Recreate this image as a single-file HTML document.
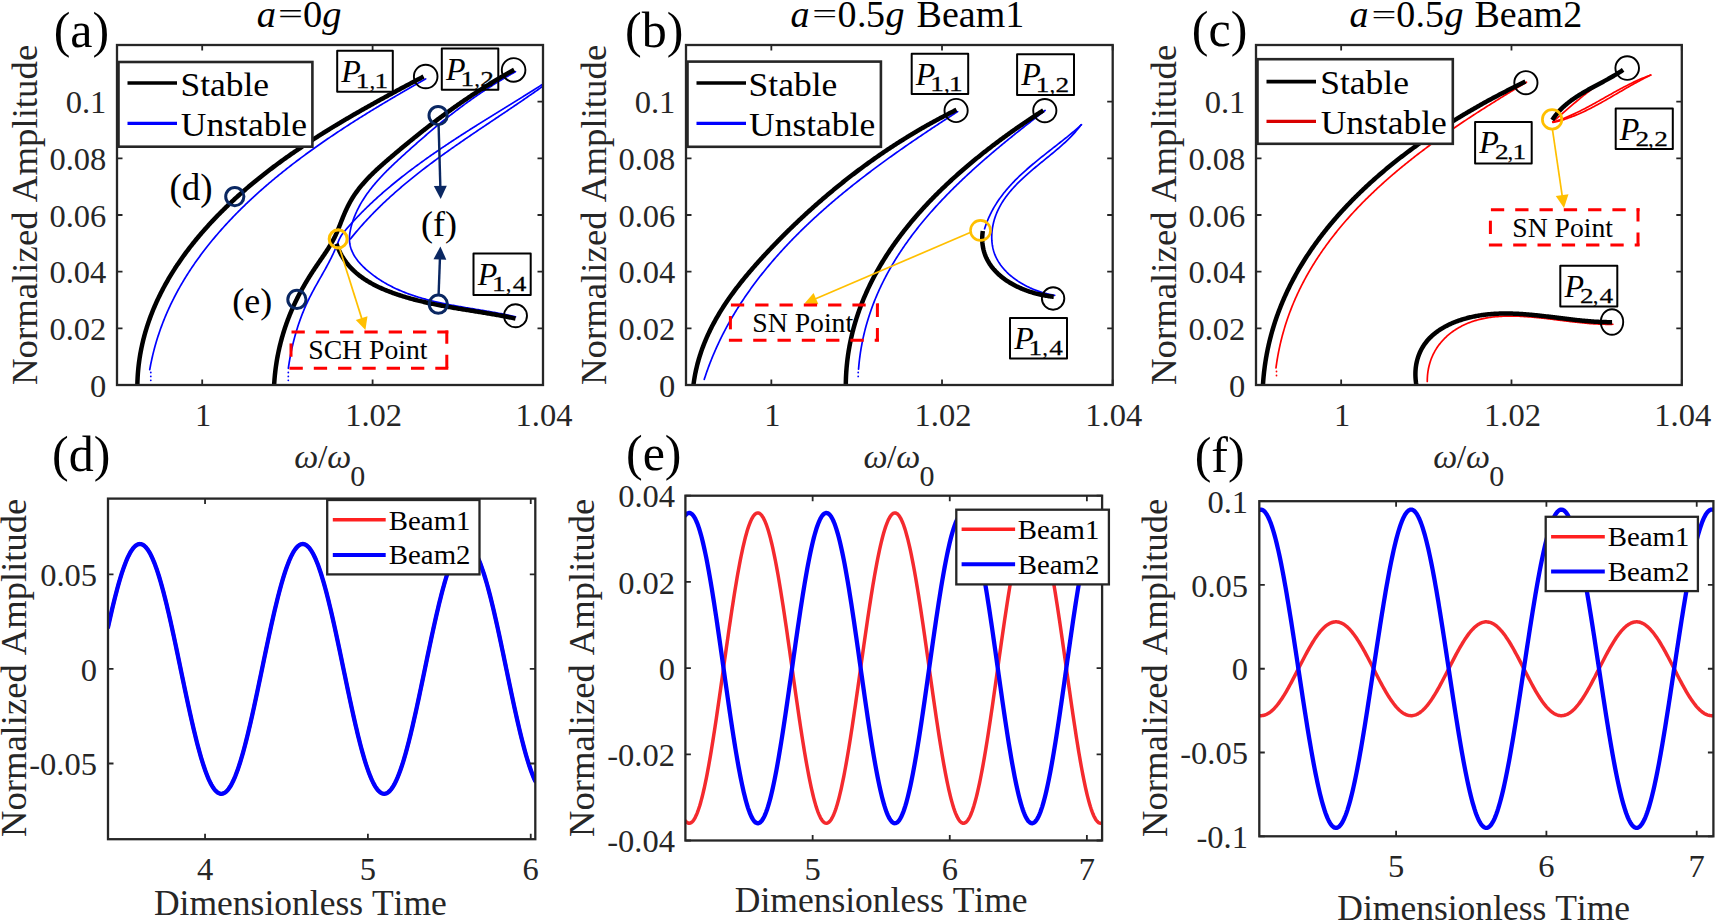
<!DOCTYPE html>
<html><head><meta charset="utf-8"><title>Figure</title>
<style>
html,body{margin:0;padding:0;background:#fff;overflow:hidden}
svg{display:block}
text{font-family:"Liberation Serif", "Times New Roman", serif;font-kerning:none}
</style></head><body>
<svg width="1716" height="922" viewBox="0 0 1716 922">
<rect width="1716" height="922" fill="#fff"/>
<clipPath id="ca"><rect x="117" y="45" width="426" height="340"/></clipPath>
<g clip-path="url(#ca)">
<path d="M149.73,369.7 L149.96,368.38 L150.2,367.07 L150.45,365.77 L150.7,364.46 L150.96,363.16 L151.23,361.87 L151.51,360.57 L151.79,359.28 L152.07,358 L152.37,356.71 L152.67,355.43 L152.97,354.15 L153.28,352.88 L153.6,351.61 L153.93,350.34 L154.26,349.08 L154.6,347.81 L154.94,346.56 L155.29,345.3 L155.65,344.05 L156.01,342.8 L156.38,341.56 L156.76,340.31 L157.14,339.07 L157.53,337.84 L157.92,336.6 L158.32,335.38 L158.72,334.15 L159.13,332.92 L159.55,331.7 L159.98,330.49 L160.4,329.27 L160.84,328.06 L161.28,326.85 L161.73,325.65 L162.18,324.45 L162.64,323.25 L163.1,322.05 L163.57,320.86 L164.05,319.67 L164.53,318.48 L165.01,317.3 L165.5,316.12 L166,314.94 L166.5,313.76 L167.01,312.59 L167.53,311.42 L168.05,310.26 L168.57,309.09 L169.1,307.93 L169.64,306.78 L170.18,305.62 L170.72,304.47 L171.27,303.32 L171.83,302.18 L172.39,301.04 L172.96,299.9 L173.53,298.76 L174.11,297.63 L174.69,296.5 L175.27,295.37 L175.87,294.24 L176.46,293.12 L177.07,292 L177.67,290.89 L178.28,289.77 L178.9,288.66 L179.52,287.56 L180.15,286.45 L180.78,285.35 L181.42,284.25 L182.06,283.15 L182.7,282.06 L183.35,280.97 L184.01,279.88 L184.67,278.8 L185.33,277.71 L186,276.63 L186.67,275.56 L187.35,274.48 L188.03,273.41 L188.72,272.34 L189.41,271.28 L190.1,270.21 L190.8,269.15 L191.5,268.1 L192.21,267.04 L192.93,265.99 L193.64,264.94 L194.36,263.89 L195.09,262.85 L195.82,261.81 L196.55,260.77 L197.29,259.73 L198.03,258.7 L198.77,257.67 L199.52,256.64 L200.28,255.62 L201.03,254.59 L201.8,253.57 L202.56,252.56 L203.33,251.54 L204.1,250.53 L204.88,249.52 L205.66,248.51 L206.44,247.51 L207.23,246.5 L208.02,245.51 L208.82,244.51 L209.62,243.51 L210.42,242.52 L211.23,241.53 L212.04,240.55 L212.85,239.56 L213.67,238.58 L214.49,237.6 L215.31,236.63 L216.14,235.65 L216.97,234.68 L217.8,233.71 L218.64,232.74 L219.48,231.78 L220.32,230.82 L221.17,229.86 L222.02,228.9 L222.87,227.95 L223.73,227 L224.59,226.05 L225.45,225.1 L226.32,224.16 L227.19,223.21 L228.06,222.27 L228.93,221.34 L229.81,220.4 L230.69,219.47 L231.58,218.54 L232.46,217.61 L233.35,216.69 L234.24,215.76 L235.14,214.84 L236.04,213.93 L236.94,213.01 L237.84,212.1 L238.75,211.18 L239.66,210.28 L240.57,209.37 L241.49,208.47 L242.4,207.56 L243.32,206.66 L244.25,205.77 L245.17,204.87 L246.1,203.98 L247.03,203.09 L247.96,202.2 L248.9,201.31 L249.84,200.43 L250.78,199.55 L251.72,198.67 L252.67,197.79 L253.62,196.92 L254.57,196.04 L255.52,195.17 L256.48,194.31 L257.44,193.44 L258.4,192.58 L259.36,191.71 L260.32,190.85 L261.29,190 L262.26,189.14 L263.23,188.29 L264.21,187.44 L265.18,186.59 L266.16,185.74 L267.14,184.9 L268.13,184.06 L269.11,183.21 L270.1,182.38 L271.09,181.54 L272.08,180.71 L273.07,179.87 L274.07,179.04 L275.06,178.22 L276.06,177.39 L277.06,176.57 L278.07,175.75 L279.07,174.93 L280.08,174.11 L281.09,173.29 L282.1,172.48 L283.11,171.67 L284.13,170.86 L285.14,170.05 L286.16,169.24 L287.18,168.44 L288.2,167.64 L289.22,166.84 L290.25,166.04 L291.27,165.25 L292.3,164.45 L293.33,163.66 L294.36,162.87 L295.4,162.08 L296.43,161.3 L297.47,160.51 L298.5,159.73 L299.54,158.95 L300.58,158.17 L301.62,157.4 L302.67,156.62 L303.71,155.85 L304.76,155.08 L305.81,154.31 L306.85,153.54 L307.9,152.78 L308.96,152.01 L310.01,151.25 L311.06,150.49 L312.12,149.73 L313.17,148.98 L314.23,148.22 L315.29,147.47 L316.35,146.72 L317.41,145.97 L318.47,145.22 L319.54,144.48 L320.6,143.73 L321.67,142.99 L322.73,142.25 L323.8,141.51 L324.87,140.77 L325.94,140.04 L327.01,139.31 L328.08,138.57 L329.15,137.84 L330.23,137.12 L331.3,136.39 L332.38,135.67 L333.45,134.94 L334.53,134.22 L335.61,133.5 L336.68,132.78 L337.76,132.07 L338.84,131.35 L339.92,130.64 L341,129.93 L342.09,129.22 L343.17,128.51 L344.25,127.8 L345.33,127.1 L346.42,126.39 L347.5,125.69 L348.59,124.99 L349.67,124.29 L350.76,123.59 L351.85,122.9 L352.93,122.2 L354.02,121.51 L355.11,120.82 L356.2,120.13 L357.29,119.44 L358.37,118.76 L359.46,118.07 L360.55,117.39 L361.64,116.71 L362.73,116.02 L363.82,115.35 L364.91,114.67 L366.01,113.99 L367.1,113.32 L368.19,112.64 L369.28,111.97 L370.37,111.3 L371.46,110.63 L372.55,109.97 L373.65,109.3 L374.74,108.64 L375.83,107.97 L376.92,107.31 L378.01,106.65 L379.1,105.99 L380.2,105.33 L381.29,104.68 L382.38,104.02 L383.47,103.37 L384.56,102.72 L385.65,102.07 L386.74,101.42 L387.83,100.77 L388.92,100.12 L390.01,99.48 L391.1,98.83 L392.19,98.19 L393.28,97.55 L394.37,96.91 L395.46,96.27 L396.55,95.63 L397.64,94.99 L398.72,94.36 L399.81,93.72 L400.9,93.09 L401.98,92.46 L403.07,91.83 L404.15,91.2 L405.24,90.57 L406.32,89.95 L407.4,89.32 L408.49,88.7 L409.57,88.07 L410.65,87.45 L411.73,86.83 L412.81,86.21 L413.89,85.59 L414.97,84.98 L416.04,84.36 L417.12,83.75 L418.2,83.13 L419.27,82.52 L420.35,81.91 L421.42,81.3 L422.49,80.69 L423.57,80.08 L424.64,79.47 L425.71,78.87" stroke="#0000ff" stroke-width="1.7" fill="none" stroke-linejoin="round" stroke-linecap="round"/>
<circle cx="150.8" cy="372.5" r="0.9" fill="#0000ff"/>
<circle cx="150.8" cy="376.4" r="0.9" fill="#0000ff"/>
<circle cx="150.8" cy="380.3" r="0.9" fill="#0000ff"/>
<path d="M288.33,368.29 L288.5,367.12 L288.67,365.94 L288.85,364.77 L289.04,363.6 L289.22,362.43 L289.42,361.26 L289.62,360.09 L289.82,358.92 L290.03,357.75 L290.25,356.58 L290.47,355.41 L290.69,354.25 L290.93,353.08 L291.16,351.91 L291.41,350.75 L291.65,349.59 L291.91,348.43 L292.17,347.26 L292.43,346.1 L292.7,344.95 L292.98,343.79 L293.26,342.63 L293.55,341.48 L293.84,340.32 L294.14,339.17 L294.44,338.02 L294.75,336.87 L295.07,335.73 L295.39,334.58 L295.72,333.44 L296.05,332.29 L296.39,331.15 L296.73,330.01 L297.08,328.88 L297.44,327.74 L297.8,326.61 L298.17,325.48 L298.55,324.35 L298.93,323.22 L299.32,322.1 L299.71,320.97 L300.11,319.85 L300.51,318.74 L300.92,317.62 L301.34,316.51 L301.76,315.39 L302.19,314.29 L302.63,313.18 L303.07,312.08 L303.52,310.98 L303.98,309.88 L304.44,308.78 L304.9,307.69 L305.38,306.6 L305.86,305.51 L306.35,304.43 L306.84,303.35 L307.34,302.27 L307.84,301.19 L308.36,300.12 L308.87,299.05 L309.4,297.99 L309.93,296.92 L310.47,295.86 L311.01,294.81 L311.56,293.75 L312.11,292.7 L312.67,291.65 L313.23,290.6 L313.79,289.55 L314.36,288.51 L314.93,287.46 L315.51,286.42 L316.09,285.38 L316.67,284.34 L317.25,283.31 L317.83,282.27 L318.41,281.23 L319,280.2 L319.59,279.16 L320.17,278.13 L320.76,277.09 L321.34,276.06 L321.93,275.02 L322.51,273.99 L323.1,272.95 L323.68,271.91 L324.26,270.88 L324.84,269.84 L325.41,268.8 L325.99,267.76 L326.56,266.72 L327.12,265.68 L327.68,264.63 L328.24,263.58 L328.8,262.54 L329.35,261.49 L329.89,260.43 L330.43,259.38 L330.96,258.32 L331.49,257.26 L332.01,256.2 L332.53,255.13 L333.03,254.07 L333.53,252.99 L334.03,251.92 L334.51,250.84 L334.99,249.76 L335.46,248.67 L335.92,247.59 L336.37,246.49 L336.82,245.4 L337.26,244.3 L337.69,243.21 L338.13,242.11 L338.57,241.02 L339.03,239.94 L339.51,238.87 L340.02,237.82 L340.57,236.8 L341.16,235.79 L341.8,234.82 L342.48,233.87 L343.19,232.93 L343.93,232.02 L344.69,231.11 L345.45,230.21 L346.22,229.31 L346.99,228.41 L347.77,227.52 L348.55,226.63 L349.33,225.74 L350.12,224.86 L350.9,223.98 L351.7,223.1 L352.49,222.22 L353.29,221.35 L354.1,220.48 L354.9,219.61 L355.71,218.75 L356.52,217.89 L357.34,217.03 L358.16,216.17 L358.98,215.32 L359.8,214.47 L360.63,213.62 L361.46,212.77 L362.3,211.93 L363.13,211.09 L363.97,210.25 L364.82,209.42 L365.66,208.59 L366.51,207.76 L367.36,206.93 L368.21,206.1 L369.07,205.28 L369.93,204.46 L370.79,203.65 L371.66,202.83 L372.52,202.02 L373.39,201.21 L374.26,200.4 L375.14,199.6 L376.02,198.8 L376.9,198 L377.78,197.2 L378.66,196.41 L379.55,195.61 L380.44,194.82 L381.33,194.04 L382.23,193.25 L383.12,192.47 L384.02,191.69 L384.92,190.91 L385.83,190.13 L386.73,189.36 L387.64,188.59 L388.55,187.82 L389.46,187.05 L390.37,186.29 L391.29,185.52 L392.21,184.76 L393.12,184 L394.05,183.25 L394.97,182.49 L395.89,181.74 L396.82,180.99 L397.75,180.25 L398.68,179.5 L399.61,178.76 L400.55,178.02 L401.48,177.28 L402.42,176.54 L403.36,175.81 L404.3,175.07 L405.24,174.34 L406.18,173.61 L407.13,172.89 L408.08,172.16 L409.02,171.44 L409.97,170.72 L410.92,170 L411.88,169.28 L412.83,168.56 L413.79,167.85 L414.74,167.14 L415.7,166.43 L416.66,165.72 L417.62,165.02 L418.58,164.31 L419.54,163.61 L420.5,162.91 L421.47,162.21 L422.43,161.51 L423.4,160.82 L424.37,160.12 L425.33,159.43 L426.3,158.74 L427.27,158.05 L428.25,157.37 L429.22,156.68 L430.19,156 L431.17,155.32 L432.14,154.64 L433.12,153.96 L434.09,153.28 L435.07,152.6 L436.05,151.93 L437.03,151.26 L438.01,150.58 L438.99,149.91 L439.97,149.24 L440.96,148.58 L441.94,147.91 L442.93,147.25 L443.91,146.58 L444.9,145.92 L445.88,145.26 L446.87,144.6 L447.86,143.94 L448.85,143.28 L449.84,142.63 L450.83,141.97 L451.82,141.32 L452.81,140.67 L453.81,140.01 L454.8,139.36 L455.79,138.71 L456.79,138.07 L457.78,137.42 L458.78,136.77 L459.78,136.13 L460.77,135.48 L461.77,134.84 L462.77,134.19 L463.77,133.55 L464.77,132.91 L465.77,132.27 L466.77,131.63 L467.77,130.99 L468.77,130.36 L469.77,129.72 L470.77,129.08 L471.78,128.45 L472.78,127.81 L473.78,127.18 L474.79,126.54 L475.79,125.91 L476.8,125.28 L477.8,124.65 L478.81,124.01 L479.82,123.38 L480.82,122.75 L481.83,122.12 L482.84,121.49 L483.85,120.87 L484.85,120.24 L485.86,119.61 L486.87,118.98 L487.88,118.35 L488.89,117.73 L489.9,117.1 L490.91,116.47 L491.92,115.85 L492.93,115.22 L493.94,114.6 L494.95,113.97 L495.96,113.35 L496.97,112.72 L497.98,112.1 L498.99,111.47 L500,110.85 L501.02,110.22 L502.03,109.6 L503.04,108.98 L504.05,108.35 L505.06,107.73 L506.07,107.1 L507.09,106.48 L508.1,105.85 L509.11,105.23 L510.12,104.61 L511.14,103.98 L512.15,103.36 L513.16,102.73 L514.17,102.11 L515.18,101.48 L516.2,100.86 L517.21,100.23 L518.22,99.6 L519.23,98.98 L520.24,98.35 L521.26,97.72 L522.27,97.1 L523.28,96.47 L524.29,95.84 L525.3,95.21 L526.31,94.58 L527.32,93.95 L528.34,93.33 L529.35,92.69 L530.36,92.06 L531.37,91.43 L532.38,90.8 L533.39,90.17 L534.4,89.54 L535.41,88.9 L536.41,88.27 L537.42,87.63 L538.43,87 L539.44,86.36 L540.45,85.72 L541.45,85.09 L542.46,84.45 L543.47,83.81" stroke="#0000ff" stroke-width="1.7" fill="none" stroke-linejoin="round" stroke-linecap="round"/>
<circle cx="288.3" cy="372.5" r="0.9" fill="#0000ff"/>
<circle cx="288.3" cy="376.4" r="0.9" fill="#0000ff"/>
<circle cx="288.3" cy="380.3" r="0.9" fill="#0000ff"/>
<path d="M350.46,238.91 L351.48,237.64 L352.5,236.38 L353.53,235.13 L354.56,233.88 L355.6,232.64 L356.64,231.41 L357.69,230.18 L358.74,228.96 L359.8,227.74 L360.86,226.53 L361.93,225.33 L363,224.13 L364.08,222.94 L365.16,221.75 L366.25,220.57 L367.34,219.39 L368.44,218.22 L369.54,217.06 L370.64,215.9 L371.75,214.75 L372.87,213.6 L373.99,212.45 L375.11,211.32 L376.24,210.18 L377.37,209.06 L378.51,207.93 L379.65,206.81 L380.79,205.7 L381.94,204.59 L383.1,203.49 L384.25,202.39 L385.41,201.3 L386.58,200.21 L387.75,199.13 L388.92,198.05 L390.1,196.97 L391.28,195.9 L392.46,194.83 L393.65,193.77 L394.84,192.71 L396.03,191.66 L397.23,190.61 L398.43,189.57 L399.64,188.52 L400.85,187.49 L402.06,186.45 L403.27,185.42 L404.49,184.4 L405.71,183.38 L406.94,182.36 L408.17,181.35 L409.4,180.33 L410.63,179.33 L411.87,178.32 L413.11,177.32 L414.35,176.33 L415.59,175.33 L416.84,174.34 L418.09,173.36 L419.35,172.37 L420.6,171.39 L421.86,170.42 L423.12,169.44 L424.38,168.47 L425.65,167.5 L426.92,166.54 L428.19,165.58 L429.46,164.62 L430.74,163.66 L432.02,162.7 L433.3,161.75 L434.58,160.8 L435.86,159.86 L437.15,158.91 L438.43,157.97 L439.72,157.03 L441.02,156.09 L442.31,155.16 L443.61,154.23 L444.9,153.3 L446.2,152.37 L447.5,151.44 L448.8,150.52 L450.11,149.59 L451.41,148.67 L452.72,147.75 L454.03,146.83 L455.34,145.92 L456.65,145.01 L457.96,144.09 L459.27,143.18 L460.59,142.27 L461.9,141.36 L463.22,140.46 L464.53,139.55 L465.85,138.65 L467.17,137.74 L468.49,136.84 L469.81,135.94 L471.14,135.04 L472.46,134.14 L473.78,133.25 L475.11,132.35 L476.43,131.45 L477.76,130.56 L479.08,129.66 L480.41,128.77 L481.74,127.88 L483.06,126.98 L484.39,126.09 L485.72,125.2 L487.05,124.31 L488.38,123.42 L489.7,122.52 L491.03,121.63 L492.36,120.74 L493.69,119.85 L495.02,118.96 L496.35,118.07 L497.68,117.18 L499.01,116.29 L500.33,115.4 L501.66,114.51 L502.99,113.62 L504.32,112.73 L505.64,111.84 L506.97,110.94 L508.3,110.05 L509.62,109.16 L510.95,108.26 L512.27,107.37 L513.59,106.47 L514.92,105.58 L516.24,104.68 L517.56,103.78 L518.88,102.89 L520.2,101.99 L521.52,101.09 L522.83,100.18 L524.15,99.28 L525.47,98.38 L526.78,97.47 L528.09,96.57 L529.4,95.66 L530.71,94.75 L532.02,93.84 L533.33,92.93 L534.64,92.01 L535.94,91.1 L537.25,90.18 L538.55,89.26 L539.85,88.34 L541.15,87.42 L542.44,86.49 L543.74,85.57" stroke="#0000ff" stroke-width="1.7" fill="none" stroke-linejoin="round" stroke-linecap="round"/>
<path d="M515.51,316.77 L514.41,316.51 L513.31,316.26 L512.21,316.01 L511.11,315.77 L510,315.53 L508.89,315.29 L507.78,315.05 L506.66,314.82 L505.54,314.59 L504.42,314.36 L503.29,314.14 L502.16,313.92 L501.03,313.7 L499.9,313.49 L498.76,313.27 L497.63,313.06 L496.49,312.85 L495.34,312.64 L494.2,312.44 L493.05,312.23 L491.9,312.03 L490.75,311.83 L489.6,311.63 L488.45,311.43 L487.29,311.23 L486.13,311.04 L484.97,310.84 L483.81,310.64 L482.65,310.45 L481.49,310.26 L480.32,310.06 L479.16,309.87 L477.99,309.68 L476.82,309.48 L475.65,309.29 L474.48,309.09 L473.31,308.9 L472.14,308.71 L470.96,308.51 L469.79,308.32 L468.61,308.12 L467.44,307.92 L466.26,307.72 L465.09,307.52 L463.91,307.32 L462.74,307.12 L461.56,306.92 L460.38,306.71 L459.21,306.5 L458.03,306.29 L456.85,306.08 L455.68,305.87 L454.5,305.65 L453.32,305.44 L452.15,305.22 L450.97,304.99 L449.8,304.77 L448.63,304.54 L447.45,304.31 L446.28,304.07 L445.11,303.84 L443.94,303.59 L442.77,303.35 L441.6,303.1 L440.43,302.85 L439.27,302.6 L438.1,302.34 L436.94,302.07 L435.77,301.81 L434.61,301.53 L433.45,301.26 L432.3,300.98 L431.14,300.69 L429.98,300.4 L428.83,300.11 L427.68,299.81 L426.53,299.5 L425.38,299.19 L424.24,298.88 L423.1,298.56 L421.96,298.23 L420.82,297.9 L419.68,297.56 L418.55,297.22 L417.42,296.87 L416.29,296.51 L415.17,296.15 L414.04,295.78 L412.92,295.4 L411.81,295.02 L410.69,294.63 L409.58,294.24 L408.47,293.84 L407.37,293.43 L406.26,293.01 L405.17,292.59 L404.07,292.15 L402.98,291.72 L401.89,291.27 L400.81,290.81 L399.73,290.35 L398.65,289.88 L397.58,289.4 L396.51,288.91 L395.44,288.42 L394.38,287.92 L393.32,287.4 L392.27,286.88 L391.22,286.35 L390.17,285.81 L389.13,285.26 L388.1,284.71 L387.07,284.14 L386.04,283.56 L385.02,282.98 L384,282.38 L382.99,281.78 L381.98,281.16 L380.98,280.53 L379.98,279.9 L378.99,279.25 L378,278.6 L377.02,277.93 L376.04,277.25 L375.07,276.56 L374.1,275.86 L373.14,275.15 L372.18,274.43 L371.23,273.7 L370.29,272.95 L369.35,272.2 L368.42,271.43 L367.5,270.65 L366.59,269.86 L365.7,269.06 L364.81,268.25 L363.94,267.43 L363.08,266.59 L362.24,265.75 L361.41,264.89 L360.6,264.02 L359.81,263.14 L359.04,262.25 L358.3,261.35 L357.57,260.44 L356.87,259.51 L356.19,258.58 L355.54,257.63 L354.92,256.68 L354.32,255.71 L353.75,254.73 L353.21,253.74 L352.71,252.74 L352.23,251.72 L351.79,250.7 L351.38,249.67 L351.01,248.62 L350.68,247.57 L350.38,246.5 L350.13,245.42 L349.91,244.33 L349.73,243.23 L349.6,242.12 L349.5,241 L349.45,239.87 L349.43,238.74 L349.45,237.59 L349.51,236.44 L349.6,235.29 L349.72,234.13 L349.87,232.97 L350.05,231.81 L350.26,230.64 L350.49,229.48 L350.75,228.31 L351.03,227.15 L351.33,225.99 L351.65,224.84 L351.99,223.69 L352.35,222.54 L352.72,221.4 L353.11,220.27 L353.51,219.15 L353.92,218.04 L354.35,216.93 L354.79,215.83 L355.24,214.74 L355.71,213.65 L356.19,212.58 L356.68,211.51 L357.18,210.44 L357.7,209.39 L358.22,208.34 L358.76,207.29 L359.31,206.26 L359.87,205.23 L360.44,204.21 L361.03,203.19 L361.62,202.18 L362.22,201.18 L362.84,200.18 L363.46,199.19 L364.09,198.2 L364.74,197.22 L365.39,196.25 L366.05,195.28 L366.72,194.32 L367.4,193.36 L368.09,192.41 L368.79,191.46 L369.49,190.52 L370.21,189.59 L370.93,188.66 L371.66,187.73 L372.4,186.81 L373.14,185.89 L373.89,184.98 L374.65,184.08 L375.42,183.17 L376.19,182.28 L376.96,181.38 L377.75,180.49 L378.54,179.61 L379.34,178.73 L380.14,177.85 L380.94,176.98 L381.76,176.11 L382.57,175.24 L383.4,174.38 L384.22,173.52 L385.06,172.67 L385.89,171.82 L386.73,170.97 L387.58,170.13 L388.42,169.28 L389.27,168.45 L390.13,167.61 L390.99,166.78 L391.85,165.95 L392.71,165.12 L393.58,164.29 L394.45,163.47 L395.32,162.65 L396.19,161.83 L397.06,161.02 L397.94,160.2 L398.82,159.39 L399.69,158.58 L400.57,157.77 L401.45,156.97 L402.34,156.16 L403.22,155.36 L404.1,154.56 L404.98,153.76 L405.86,152.96 L406.75,152.16 L407.63,151.37 L408.51,150.57 L409.39,149.78 L410.28,148.99 L411.16,148.2 L412.04,147.41 L412.93,146.62 L413.81,145.83 L414.7,145.05 L415.58,144.27 L416.47,143.49 L417.35,142.71 L418.24,141.93 L419.12,141.15 L420.01,140.37 L420.9,139.6 L421.79,138.83 L422.68,138.06 L423.57,137.29 L424.46,136.52 L425.35,135.75 L426.24,134.99 L427.13,134.22 L428.02,133.46 L428.91,132.7 L429.81,131.94 L430.7,131.19 L431.6,130.43 L432.5,129.68 L433.39,128.92 L434.29,128.17 L435.19,127.42 L436.09,126.68 L436.99,125.93 L437.89,125.19 L438.8,124.45 L439.7,123.7 L440.61,122.97 L441.51,122.23 L442.42,121.49 L443.33,120.76 L444.24,120.03 L445.15,119.3 L446.06,118.57 L446.97,117.84 L447.89,117.12 L448.8,116.39 L449.72,115.67 L450.64,114.95 L451.56,114.23 L452.48,113.52 L453.4,112.8 L454.33,112.09 L455.25,111.38 L456.18,110.67 L457.11,109.96 L458.04,109.26 L458.97,108.55 L459.9,107.85 L460.84,107.15 L461.77,106.45 L462.71,105.76 L463.65,105.06 L464.59,104.37 L465.54,103.68 L466.48,102.99 L467.43,102.31 L468.38,101.62 L469.33,100.94 L470.28,100.26 L471.23,99.58 L472.19,98.9 L473.15,98.23 L474.11,97.55 L475.07,96.88 L476.03,96.21 L477,95.55 L477.97,94.88 L478.94,94.22 L479.91,93.56 L480.89,92.9 L481.86,92.24 L482.84,91.59 L483.82,90.93 L484.81,90.28 L485.79,89.63 L486.78,88.99 L487.77,88.34 L488.76,87.7 L489.76,87.06 L490.75,86.42 L491.75,85.79 L492.75,85.15 L493.76,84.52 L494.77,83.89 L495.77,83.26 L496.79,82.64 L497.8,82.02 L498.82,81.39 L499.84,80.78 L500.86,80.16 L501.89,79.54 L502.91,78.93 L503.94,78.32 L504.98,77.71 L506.01,77.11 L507.05,76.5 L508.09,75.9 L509.14,75.3 L510.18,74.71 L511.23,74.11 L512.29,73.52 L513.34,72.93 L514.4,72.34 L515.46,71.76" stroke="#0000ff" stroke-width="1.7" fill="none" stroke-linejoin="round" stroke-linecap="round"/>
<path d="M137.33,387.56 L137.34,386.3 L137.36,385.05 L137.38,383.8 L137.41,382.55 L137.45,381.3 L137.5,380.05 L137.56,378.81 L137.62,377.57 L137.69,376.33 L137.77,375.09 L137.85,373.86 L137.95,372.63 L138.05,371.4 L138.16,370.17 L138.27,368.95 L138.39,367.73 L138.53,366.51 L138.66,365.29 L138.81,364.08 L138.96,362.87 L139.12,361.66 L139.29,360.45 L139.46,359.24 L139.64,358.04 L139.83,356.84 L140.02,355.65 L140.22,354.45 L140.43,353.26 L140.65,352.07 L140.87,350.88 L141.1,349.7 L141.34,348.51 L141.58,347.33 L141.83,346.16 L142.09,344.98 L142.35,343.81 L142.62,342.64 L142.9,341.47 L143.18,340.3 L143.47,339.14 L143.77,337.98 L144.07,336.82 L144.38,335.67 L144.69,334.51 L145.02,333.36 L145.34,332.22 L145.68,331.07 L146.02,329.93 L146.37,328.79 L146.72,327.65 L147.08,326.51 L147.45,325.38 L147.82,324.25 L148.2,323.12 L148.58,321.99 L148.97,320.87 L149.37,319.75 L149.77,318.63 L150.18,317.51 L150.59,316.4 L151.01,315.29 L151.43,314.18 L151.86,313.07 L152.3,311.97 L152.74,310.87 L153.19,309.77 L153.64,308.67 L154.1,307.58 L154.57,306.49 L155.04,305.4 L155.52,304.31 L156,303.23 L156.48,302.14 L156.98,301.07 L157.47,299.99 L157.98,298.91 L158.48,297.84 L159,296.77 L159.51,295.71 L160.04,294.64 L160.57,293.58 L161.1,292.52 L161.64,291.46 L162.18,290.41 L162.73,289.36 L163.29,288.31 L163.85,287.26 L164.41,286.22 L164.98,285.18 L165.55,284.14 L166.13,283.1 L166.71,282.07 L167.3,281.03 L167.89,280.01 L168.49,278.98 L169.09,277.95 L169.7,276.93 L170.31,275.91 L170.92,274.9 L171.54,273.88 L172.17,272.87 L172.8,271.86 L173.43,270.85 L174.07,269.85 L174.71,268.85 L175.36,267.85 L176.01,266.85 L176.66,265.86 L177.32,264.87 L177.98,263.88 L178.65,262.89 L179.32,261.91 L180,260.92 L180.67,259.94 L181.36,258.97 L182.04,257.99 L182.74,257.02 L183.43,256.05 L184.13,255.09 L184.83,254.12 L185.54,253.16 L186.25,252.2 L186.96,251.25 L187.68,250.29 L188.4,249.34 L189.12,248.39 L189.85,247.45 L190.58,246.5 L191.32,245.56 L192.06,244.62 L192.8,243.69 L193.54,242.75 L194.29,241.82 L195.04,240.89 L195.8,239.97 L196.56,239.04 L197.32,238.12 L198.08,237.2 L198.85,236.29 L199.62,235.37 L200.4,234.46 L201.17,233.55 L201.95,232.65 L202.74,231.75 L203.52,230.84 L204.31,229.95 L205.1,229.05 L205.9,228.16 L206.7,227.27 L207.5,226.38 L208.3,225.49 L209.1,224.61 L209.91,223.73 L210.72,222.85 L211.54,221.98 L212.35,221.11 L213.17,220.23 L214,219.37 L214.82,218.5 L215.65,217.64 L216.48,216.78 L217.31,215.92 L218.14,215.06 L218.98,214.21 L219.82,213.36 L220.66,212.51 L221.51,211.67 L222.36,210.82 L223.21,209.98 L224.06,209.14 L224.91,208.31 L225.77,207.47 L226.63,206.64 L227.49,205.81 L228.35,204.98 L229.22,204.16 L230.09,203.34 L230.96,202.52 L231.84,201.7 L232.71,200.88 L233.59,200.07 L234.47,199.26 L235.35,198.45 L236.24,197.64 L237.12,196.84 L238.01,196.04 L238.91,195.24 L239.8,194.44 L240.69,193.65 L241.59,192.85 L242.49,192.06 L243.4,191.27 L244.3,190.49 L245.21,189.7 L246.11,188.92 L247.02,188.14 L247.94,187.36 L248.85,186.58 L249.77,185.81 L250.69,185.04 L251.61,184.27 L252.53,183.5 L253.45,182.74 L254.38,181.97 L255.31,181.21 L256.24,180.45 L257.17,179.7 L258.1,178.94 L259.04,178.19 L259.98,177.44 L260.92,176.69 L261.86,175.94 L262.8,175.19 L263.74,174.45 L264.69,173.71 L265.64,172.97 L266.59,172.23 L267.54,171.5 L268.49,170.76 L269.45,170.03 L270.4,169.3 L271.36,168.58 L272.32,167.85 L273.28,167.13 L274.25,166.4 L275.21,165.68 L276.18,164.97 L277.15,164.25 L278.11,163.54 L279.08,162.82 L280.06,162.11 L281.03,161.4 L282.01,160.7 L282.98,159.99 L283.96,159.29 L284.94,158.59 L285.92,157.89 L286.9,157.19 L287.89,156.49 L288.87,155.8 L289.86,155.1 L290.84,154.41 L291.83,153.72 L292.82,153.03 L293.82,152.35 L294.81,151.66 L295.8,150.98 L296.8,150.3 L297.79,149.62 L298.79,148.94 L299.79,148.27 L300.79,147.59 L301.79,146.92 L302.79,146.25 L303.8,145.58 L304.8,144.91 L305.81,144.24 L306.81,143.58 L307.82,142.92 L308.83,142.26 L309.84,141.6 L310.85,140.94 L311.86,140.28 L312.87,139.62 L313.89,138.97 L314.9,138.32 L315.92,137.67 L316.93,137.02 L317.95,136.37 L318.97,135.72 L319.99,135.08 L321.01,134.44 L322.03,133.79 L323.05,133.15 L324.07,132.51 L325.1,131.88 L326.12,131.24 L327.15,130.61 L328.17,129.97 L329.2,129.34 L330.22,128.71 L331.25,128.08 L332.28,127.45 L333.31,126.83 L334.34,126.2 L335.37,125.58 L336.4,124.96 L337.43,124.33 L338.46,123.71 L339.5,123.1 L340.53,122.48 L341.56,121.86 L342.6,121.25 L343.63,120.64 L344.67,120.02 L345.7,119.41 L346.74,118.8 L347.78,118.19 L348.81,117.59 L349.85,116.98 L350.89,116.38 L351.93,115.77 L352.96,115.17 L354,114.57 L355.04,113.97 L356.08,113.37 L357.12,112.77 L358.16,112.18 L359.2,111.58 L360.24,110.99 L361.28,110.4 L362.33,109.8 L363.37,109.21 L364.41,108.62 L365.45,108.03 L366.49,107.45 L367.53,106.86 L368.58,106.28 L369.62,105.69 L370.66,105.11 L371.7,104.53 L372.75,103.94 L373.79,103.36 L374.83,102.78 L375.88,102.21 L376.92,101.63 L377.96,101.05 L379,100.48 L380.05,99.9 L381.09,99.33 L382.13,98.76 L383.17,98.19 L384.22,97.61 L385.26,97.05 L386.3,96.48 L387.34,95.91 L388.38,95.34 L389.43,94.78 L390.47,94.21 L391.51,93.65 L392.55,93.08 L393.59,92.52 L394.63,91.96 L395.67,91.4 L396.71,90.84 L397.75,90.28 L398.79,89.72 L399.83,89.16 L400.87,88.6 L401.9,88.05 L402.94,87.49 L403.98,86.94 L405.02,86.38 L406.05,85.83 L407.09,85.28 L408.13,84.73 L409.16,84.18 L410.2,83.63 L411.23,83.08 L412.26,82.53 L413.3,81.98 L414.33,81.43 L415.36,80.88 L416.39,80.34 L417.42,79.79 L418.45,79.25 L419.48,78.7 L420.51,78.16 L421.54,77.62 L422.57,77.07 L423.59,76.53" stroke="#000" stroke-width="4.5" fill="none" stroke-linejoin="round" stroke-linecap="butt"/>
<path d="M274.03,387 L274.08,386.01 L274.13,385.02 L274.18,384.03 L274.24,383.04 L274.31,382.05 L274.38,381.06 L274.45,380.07 L274.53,379.09 L274.61,378.1 L274.7,377.11 L274.79,376.13 L274.88,375.14 L274.98,374.15 L275.09,373.17 L275.2,372.18 L275.31,371.2 L275.43,370.22 L275.55,369.23 L275.68,368.25 L275.81,367.27 L275.95,366.29 L276.09,365.31 L276.24,364.33 L276.39,363.35 L276.54,362.37 L276.7,361.39 L276.86,360.42 L277.03,359.44 L277.2,358.47 L277.38,357.49 L277.56,356.52 L277.75,355.54 L277.94,354.57 L278.13,353.6 L278.33,352.63 L278.53,351.66 L278.74,350.69 L278.95,349.72 L279.17,348.76 L279.39,347.79 L279.61,346.83 L279.84,345.86 L280.08,344.9 L280.31,343.94 L280.56,342.98 L280.8,342.02 L281.05,341.06 L281.31,340.1 L281.57,339.15 L281.83,338.19 L282.1,337.24 L282.37,336.29 L282.65,335.34 L282.93,334.39 L283.21,333.44 L283.5,332.49 L283.8,331.54 L284.09,330.6 L284.4,329.66 L284.7,328.71 L285.01,327.77 L285.33,326.83 L285.64,325.89 L285.97,324.96 L286.29,324.02 L286.63,323.09 L286.96,322.16 L287.3,321.23 L287.64,320.3 L287.99,319.37 L288.34,318.44 L288.7,317.52 L289.06,316.6 L289.43,315.67 L289.79,314.75 L290.17,313.84 L290.54,312.92 L290.92,312.01 L291.31,311.09 L291.7,310.18 L292.09,309.27 L292.49,308.36 L292.89,307.46 L293.29,306.55 L293.7,305.65 L294.12,304.75 L294.53,303.85 L294.96,302.95 L295.38,302.06 L295.81,301.17 L296.24,300.28 L296.68,299.39 L297.12,298.5 L297.57,297.61 L298.02,296.73 L298.47,295.85 L298.93,294.97 L299.38,294.09 L299.85,293.21 L300.32,292.34 L300.79,291.47 L301.26,290.6 L301.74,289.73 L302.22,288.86 L302.7,288 L303.19,287.13 L303.68,286.27 L304.18,285.41 L304.67,284.55 L305.17,283.7 L305.68,282.84 L306.18,281.99 L306.69,281.14 L307.2,280.29 L307.72,279.44 L308.24,278.6 L308.76,277.75 L309.28,276.91 L309.81,276.07 L310.34,275.23 L310.87,274.39 L311.4,273.56 L311.94,272.72 L312.48,271.89 L313.02,271.06 L313.56,270.23 L314.11,269.4 L314.66,268.58 L315.21,267.75 L315.76,266.93 L316.32,266.11 L316.87,265.29 L317.43,264.47 L317.99,263.65 L318.55,262.84 L319.12,262.02 L319.68,261.21 L320.24,260.39 L320.8,259.58 L321.36,258.76 L321.92,257.95 L322.48,257.13 L323.04,256.32 L323.59,255.5 L324.15,254.68 L324.7,253.87 L325.25,253.05 L325.79,252.23 L326.34,251.4 L326.87,250.58 L327.41,249.75 L327.94,248.93 L328.46,248.09 L328.99,247.26 L329.5,246.43 L330.01,245.59 L330.52,244.75 L331.02,243.9 L331.51,243.05 L331.99,242.2 L332.47,241.35 L332.94,240.49 L333.41,239.62 L333.86,238.76 L334.31,237.88 L334.75,237.01 L335.18,236.13 L335.6,235.24 L336.01,234.35 L336.41,233.45 L336.81,232.55 L337.2,231.65 L337.58,230.74 L337.96,229.83 L338.33,228.92 L338.7,228 L339.07,227.08 L339.43,226.16 L339.79,225.24 L340.15,224.32 L340.51,223.4 L340.87,222.48 L341.23,221.55 L341.59,220.63 L341.95,219.71 L342.32,218.79 L342.69,217.87 L343.07,216.95 L343.44,216.03 L343.83,215.12 L344.21,214.21 L344.61,213.3 L345,212.39 L345.41,211.49 L345.81,210.58 L346.23,209.69 L346.65,208.79 L347.07,207.9 L347.5,207.01 L347.94,206.13 L348.39,205.25 L348.84,204.37 L349.3,203.5 L349.76,202.64 L350.24,201.77 L350.72,200.92 L351.21,200.07 L351.7,199.22 L352.21,198.38 L352.73,197.55 L353.25,196.72 L353.78,195.9 L354.32,195.08 L354.87,194.27 L355.42,193.46 L355.99,192.66 L356.56,191.86 L357.13,191.07 L357.72,190.29 L358.31,189.51 L358.91,188.73 L359.52,187.96 L360.13,187.19 L360.75,186.43 L361.37,185.67 L362,184.92 L362.64,184.17 L363.28,183.42 L363.93,182.68 L364.59,181.94 L365.25,181.21 L365.91,180.48 L366.59,179.75 L367.26,179.03 L367.94,178.31 L368.63,177.6 L369.32,176.89 L370.01,176.18 L370.71,175.48 L371.41,174.77 L372.12,174.07 L372.83,173.38 L373.55,172.69 L374.26,172 L374.99,171.31 L375.71,170.62 L376.44,169.94 L377.17,169.26 L377.9,168.59 L378.64,167.91 L379.38,167.24 L380.12,166.57 L380.86,165.9 L381.61,165.23 L382.36,164.57 L383.11,163.9 L383.86,163.24 L384.61,162.58 L385.37,161.92 L386.12,161.27 L386.88,160.61 L387.64,159.96 L388.39,159.3 L389.15,158.65 L389.91,158 L390.67,157.35 L391.43,156.7 L392.19,156.05 L392.95,155.41 L393.72,154.76 L394.48,154.11 L395.24,153.47 L396,152.82 L396.76,152.18 L397.52,151.54 L398.29,150.9 L399.05,150.26 L399.81,149.62 L400.58,148.98 L401.34,148.34 L402.11,147.7 L402.87,147.07 L403.64,146.43 L404.4,145.8 L405.17,145.16 L405.93,144.53 L406.7,143.9 L407.47,143.27 L408.24,142.64 L409,142.01 L409.77,141.38 L410.54,140.75 L411.31,140.13 L412.08,139.5 L412.85,138.88 L413.62,138.26 L414.39,137.63 L415.16,137.01 L415.94,136.39 L416.71,135.77 L417.48,135.15 L418.26,134.53 L419.03,133.92 L419.8,133.3 L420.58,132.69 L421.36,132.07 L422.13,131.46 L422.91,130.85 L423.69,130.24 L424.46,129.63 L425.24,129.02 L426.02,128.41 L426.8,127.8 L427.58,127.2 L428.36,126.59 L429.14,125.99 L429.93,125.39 L430.71,124.78 L431.49,124.18 L432.28,123.58 L433.06,122.98 L433.85,122.39 L434.63,121.79 L435.42,121.19 L436.2,120.6 L436.99,120.01 L437.78,119.41 L438.57,118.82 L439.36,118.23 L440.15,117.64 L440.94,117.05 L441.73,116.46 L442.53,115.88 L443.32,115.29 L444.11,114.71 L444.91,114.12 L445.7,113.54 L446.5,112.96 L447.3,112.38 L448.1,111.8 L448.89,111.22 L449.69,110.65 L450.49,110.07 L451.3,109.5 L452.1,108.92 L452.9,108.35 L453.7,107.78 L454.51,107.21 L455.31,106.64 L456.12,106.07 L456.93,105.51 L457.73,104.94 L458.54,104.37 L459.35,103.81 L460.16,103.25 L460.97,102.69 L461.78,102.13 L462.6,101.57 L463.41,101.01 L464.23,100.45 L465.04,99.9 L465.86,99.34 L466.68,98.79 L467.49,98.24 L468.31,97.69 L469.13,97.14 L469.95,96.59 L470.78,96.04 L471.6,95.49 L472.42,94.95 L473.25,94.41 L474.08,93.86 L474.9,93.32 L475.73,92.78 L476.56,92.24 L477.39,91.7 L478.22,91.17 L479.05,90.63 L479.89,90.1 L480.72,89.56 L481.56,89.03 L482.39,88.5 L483.23,87.97 L484.07,87.44 L484.91,86.92 L485.75,86.39 L486.59,85.86 L487.43,85.34 L488.28,84.82 L489.12,84.3 L489.97,83.78 L490.82,83.26 L491.66,82.74 L492.51,82.23 L493.36,81.71 L494.22,81.2 L495.07,80.69 L495.92,80.18 L496.78,79.67 L497.64,79.16 L498.49,78.65 L499.35,78.14 L500.21,77.64 L501.07,77.14 L501.94,76.63 L502.8,76.13 L503.67,75.63 L504.53,75.14 L505.4,74.64 L506.27,74.14 L507.14,73.65 L508.01,73.16 L508.88,72.66 L509.76,72.17 L510.63,71.68 L511.51,71.2 L512.39,70.71 L513.26,70.23 L514.14,69.74" stroke="#000" stroke-width="4.5" fill="none" stroke-linejoin="round" stroke-linecap="butt"/>
<path d="M336.44,243.68 L336.84,244.84 L337.25,245.98 L337.68,247.11 L338.13,248.22 L338.6,249.32 L339.08,250.4 L339.58,251.47 L340.09,252.51 L340.62,253.55 L341.17,254.56 L341.73,255.57 L342.31,256.55 L342.9,257.52 L343.51,258.48 L344.13,259.42 L344.77,260.35 L345.42,261.26 L346.09,262.16 L346.76,263.05 L347.46,263.92 L348.16,264.78 L348.88,265.62 L349.61,266.45 L350.35,267.27 L351.11,268.07 L351.88,268.87 L352.66,269.65 L353.45,270.41 L354.25,271.17 L355.07,271.91 L355.89,272.64 L356.73,273.35 L357.57,274.06 L358.43,274.75 L359.3,275.44 L360.17,276.11 L361.06,276.77 L361.96,277.42 L362.86,278.06 L363.77,278.69 L364.7,279.3 L365.63,279.91 L366.57,280.51 L367.52,281.1 L368.47,281.67 L369.43,282.24 L370.4,282.8 L371.38,283.35 L372.36,283.89 L373.36,284.42 L374.35,284.94 L375.36,285.46 L376.37,285.96 L377.38,286.46 L378.4,286.95 L379.43,287.43 L380.46,287.9 L381.5,288.36 L382.54,288.82 L383.58,289.27 L384.63,289.72 L385.68,290.15 L386.74,290.58 L387.8,291 L388.87,291.42 L389.93,291.83 L391,292.23 L392.07,292.63 L393.15,293.02 L394.22,293.4 L395.3,293.78 L396.38,294.16 L397.47,294.53 L398.55,294.89 L399.64,295.25 L400.73,295.6 L401.82,295.95 L402.91,296.29 L404,296.63 L405.1,296.96 L406.19,297.29 L407.29,297.61 L408.39,297.93 L409.49,298.25 L410.6,298.56 L411.7,298.86 L412.81,299.16 L413.92,299.46 L415.02,299.75 L416.13,300.04 L417.25,300.32 L418.36,300.6 L419.47,300.88 L420.59,301.15 L421.7,301.42 L422.82,301.68 L423.94,301.94 L425.06,302.2 L426.18,302.46 L427.3,302.71 L428.42,302.95 L429.54,303.2 L430.67,303.44 L431.79,303.68 L432.92,303.91 L434.04,304.14 L435.17,304.37 L436.29,304.6 L437.42,304.83 L438.55,305.05 L439.68,305.27 L440.81,305.48 L441.94,305.7 L443.07,305.91 L444.2,306.12 L445.33,306.33 L446.46,306.53 L447.59,306.73 L448.72,306.94 L449.85,307.14 L450.98,307.33 L452.12,307.53 L453.25,307.73 L454.38,307.92 L455.51,308.11 L456.64,308.3 L457.77,308.49 L458.9,308.68 L460.04,308.87 L461.17,309.05 L462.3,309.24 L463.43,309.42 L464.56,309.61 L465.69,309.79 L466.82,309.97 L467.95,310.15 L469.07,310.34 L470.2,310.52 L471.33,310.7 L472.45,310.88 L473.58,311.06 L474.71,311.24 L475.83,311.42 L476.95,311.6 L478.08,311.78 L479.2,311.96 L480.32,312.14 L481.44,312.32 L482.56,312.5 L483.68,312.69 L484.8,312.87 L485.91,313.05 L487.03,313.24 L488.14,313.42 L489.25,313.61 L490.37,313.8 L491.48,313.98 L492.58,314.17 L493.69,314.36 L494.8,314.56 L495.9,314.75 L497.01,314.94 L498.11,315.14 L499.21,315.34 L500.31,315.54 L501.41,315.74 L502.5,315.94 L503.59,316.15 L504.69,316.36 L505.78,316.57 L506.87,316.78 L507.95,316.99 L509.04,317.21 L510.12,317.43 L511.2,317.65 L512.28,317.87 L513.36,318.1 L514.43,318.33 L515.51,318.56" stroke="#000" stroke-width="4.5" fill="none" stroke-linejoin="round" stroke-linecap="butt"/>
</g>
<path d="M202.2,385 v-5.5 M202.2,45 v5.5 M372.6,385 v-5.5 M372.6,45 v5.5 M543,385 v-5.5 M543,45 v5.5 M117,385 h5.5 M543,385 h-5.5 M117,328.33 h5.5 M543,328.33 h-5.5 M117,271.67 h5.5 M543,271.67 h-5.5 M117,215 h5.5 M543,215 h-5.5 M117,158.33 h5.5 M543,158.33 h-5.5 M117,101.67 h5.5 M543,101.67 h-5.5 M117,45 h5.5 M543,45 h-5.5 " stroke="#262626" stroke-width="1.8" fill="none"/>
<rect x="117" y="45" width="426" height="340" fill="none" stroke="#262626" stroke-width="2.3" stroke-linejoin="miter"/>
<text x="106.3" y="396.6" style="font-size:32.5px;" text-anchor="end" fill="#262626">0</text>
<text x="106.3" y="339.93" style="font-size:32.5px;" text-anchor="end" fill="#262626">0.02</text>
<text x="106.3" y="283.27" style="font-size:32.5px;" text-anchor="end" fill="#262626">0.04</text>
<text x="106.3" y="226.6" style="font-size:32.5px;" text-anchor="end" fill="#262626">0.06</text>
<text x="106.3" y="169.93" style="font-size:32.5px;" text-anchor="end" fill="#262626">0.08</text>
<text x="106.3" y="113.27" style="font-size:32.5px;" text-anchor="end" fill="#262626">0.1</text>
<text x="203.2" y="426.3" style="font-size:32.5px;" text-anchor="middle" fill="#262626">1</text>
<text x="373.6" y="426.3" style="font-size:32.5px;" text-anchor="middle" fill="#262626">1.02</text>
<text x="544" y="426.3" style="font-size:32.5px;" text-anchor="middle" fill="#262626">1.04</text>
<text x="0" y="0" transform="translate(37.4,385.06) rotate(-90)" style="font-size:36.8px" fill="#262626">Normalized Amplitude</text>
<text x="294.27" y="468.2" style="font-size:34px;font-style:italic;" fill="#262626">ω</text>
<text x="317.9" y="468.2" style="font-size:34px;" fill="#262626">/</text>
<text x="327.17" y="468.2" style="font-size:34px;font-style:italic;" fill="#262626">ω</text>
<text x="350.26" y="486.4" style="font-size:30px;" fill="#262626">0</text>
<rect x="118.5" y="62" width="193.9" height="84.7" fill="#fff" stroke="#262626" stroke-width="2.6"/>
<path d="M127.5,83 H177" stroke="#000" stroke-width="3.6"/>
<path d="M127.5,123.4 H177" stroke="#0000ff" stroke-width="3.2"/>
<text x="180.43" y="95.9" style="font-size:35.5px;" fill="#000" transform="translate(0,95.9) scale(1,0.95) translate(0,-95.9)">Stable</text>
<text x="180.85" y="136" style="font-size:35.5px;" fill="#000" transform="translate(0,136) scale(1,0.95) translate(0,-136)">Unstable</text>
<rect x="337.2" y="50.8" width="55.6" height="41" fill="none" stroke="#000" stroke-width="2" stroke-linejoin="round"/>
<text x="341.37" y="81.9" style="font-size:32px;font-style:italic">P</text>
<text x="356.35" y="88.2" transform="translate(358.2,0) scale(1.3,1) translate(-358.2,0)" style="font-size:21px" stroke="#000" stroke-width="0.25">1</text>
<text x="369.8" y="88.2" transform="translate(370.6,0) scale(1.0,1) translate(-370.6,0)" style="font-size:21px" stroke="#000" stroke-width="0.25">,</text>
<text x="375.05" y="88.2" transform="translate(376.9,0) scale(1.3,1) translate(-376.9,0)" style="font-size:21px" stroke="#000" stroke-width="0.25">1</text>
<rect x="441.8" y="48.6" width="56.5" height="41.2" fill="none" stroke="#000" stroke-width="2" stroke-linejoin="round"/>
<text x="445.97" y="79.7" style="font-size:32px;font-style:italic">P</text>
<text x="460.95" y="86" transform="translate(462.8,0) scale(1.3,1) translate(-462.8,0)" style="font-size:21px" stroke="#000" stroke-width="0.25">1</text>
<text x="474.4" y="86" transform="translate(475.2,0) scale(1.0,1) translate(-475.2,0)" style="font-size:21px" stroke="#000" stroke-width="0.25">,</text>
<text x="480.58" y="86" transform="translate(481.5,0) scale(1.3,1) translate(-481.5,0)" style="font-size:21px" stroke="#000" stroke-width="0.25">2</text>
<rect x="473.5" y="253.5" width="57.2" height="41.4" fill="none" stroke="#000" stroke-width="2" stroke-linejoin="round"/>
<text x="477.67" y="284.6" style="font-size:32px;font-style:italic">P</text>
<text x="492.65" y="290.9" transform="translate(494.5,0) scale(1.3,1) translate(-494.5,0)" style="font-size:21px" stroke="#000" stroke-width="0.25">1</text>
<text x="506.1" y="290.9" transform="translate(506.9,0) scale(1.0,1) translate(-506.9,0)" style="font-size:21px" stroke="#000" stroke-width="0.25">,</text>
<text x="512.79" y="290.9" transform="translate(513.2,0) scale(1.3,1) translate(-513.2,0)" style="font-size:21px" stroke="#000" stroke-width="0.25">4</text>
<circle cx="425.7" cy="76.5" r="11.8" fill="none" stroke="#000" stroke-width="1.9"/>
<circle cx="513.6" cy="69.9" r="11.8" fill="none" stroke="#000" stroke-width="1.9"/>
<circle cx="515.5" cy="315.7" r="11.5" fill="none" stroke="#000" stroke-width="1.9"/>
<circle cx="234.8" cy="196.6" r="9.1" fill="none" stroke="#0a2762" stroke-width="3"/>
<circle cx="296.9" cy="299.4" r="9.1" fill="none" stroke="#0a2762" stroke-width="3"/>
<circle cx="438.1" cy="115.6" r="9.1" fill="none" stroke="#0a2762" stroke-width="3"/>
<circle cx="438.3" cy="304.2" r="9.1" fill="none" stroke="#0a2762" stroke-width="3"/>
<path d="M438.6,125 L440.36,186.9" stroke="#0a2762" stroke-width="2.4" fill="none"/>
<path d="M440.7,198.9 L433.83,186.09 L446.83,185.72 Z" fill="#0a2762"/>
<path d="M438.6,294.8 L439.95,258.39" stroke="#0a2762" stroke-width="2.4" fill="none"/>
<path d="M440.4,246.4 L446.31,259.63 L433.52,259.15 Z" fill="#0a2762"/>
<circle cx="338.2" cy="238.9" r="9" fill="none" stroke="#ffbf00" stroke-width="3.1"/>
<path d="M339.6,248.4 L361.94,319.13" stroke="#ffbf00" stroke-width="1.7" fill="none"/>
<path d="M365.4,330.1 L355.77,320.03 L367.5,316.33 Z" fill="#ffbf00"/>
<path d="M291.5,331.9 H448.3" stroke="#ff0000" stroke-width="3" fill="none" stroke-dasharray="13.3 11"/>
<path d="M289.5,368.3 H448.3" stroke="#ff0000" stroke-width="3" fill="none" stroke-dasharray="13.3 11"/>
<path d="M446.8,330.4 V369.8" stroke="#ff0000" stroke-width="3" fill="none" stroke-dasharray="13.3 11"/>
<path d="M291,343.45 V356.75 " stroke="#ff0000" stroke-width="3" fill="none"/>
<text x="308.25" y="359.4" style="font-size:27.7px;" fill="#000">SCH Point</text>
<text x="169.47" y="199.7" style="font-size:37px;" fill="#000">(d)</text>
<text x="232.22" y="313.3" style="font-size:36px;" fill="#000">(e)</text>
<text x="421.02" y="235.9" style="font-size:36px;" fill="#000">(f)</text>
<text x="53.7" y="46.9" style="font-size:50px;" fill="#000">(a)</text>
<text x="256.75" y="26.7" style="font-size:38.5px;font-style:italic;" fill="#000">a</text>
<text x="278.38" y="26.7" transform="translate(280.3,13.92) scale(1.15,0.75) translate(-280.3,-13.92)" style="font-size:38.5px;">=</text>
<text x="303.03" y="26.7" style="font-size:38.5px;" fill="#000">0</text>
<text x="322.28" y="26.7" style="font-size:38.5px;font-style:italic;" fill="#000">g</text>
<clipPath id="cb"><rect x="686" y="45" width="426.7" height="340"/></clipPath>
<g clip-path="url(#cb)">
<path d="M704.27,379.33 L704.66,378.11 L705.06,376.9 L705.46,375.69 L705.87,374.48 L706.28,373.28 L706.7,372.08 L707.12,370.88 L707.55,369.68 L707.98,368.49 L708.42,367.3 L708.86,366.11 L709.31,364.92 L709.76,363.74 L710.21,362.56 L710.67,361.38 L711.14,360.2 L711.61,359.03 L712.08,357.86 L712.56,356.69 L713.04,355.53 L713.53,354.37 L714.02,353.21 L714.52,352.05 L715.02,350.89 L715.53,349.74 L716.04,348.59 L716.56,347.44 L717.08,346.3 L717.6,345.16 L718.13,344.02 L718.66,342.88 L719.2,341.75 L719.74,340.61 L720.29,339.48 L720.84,338.36 L721.39,337.23 L721.95,336.11 L722.51,334.99 L723.08,333.87 L723.65,332.76 L724.23,331.65 L724.81,330.54 L725.39,329.43 L725.98,328.33 L726.58,327.22 L727.17,326.12 L727.77,325.03 L728.38,323.93 L728.99,322.84 L729.6,321.75 L730.22,320.66 L730.84,319.58 L731.46,318.49 L732.09,317.41 L732.73,316.33 L733.36,315.26 L734,314.19 L734.65,313.11 L735.3,312.05 L735.95,310.98 L736.61,309.92 L737.27,308.85 L737.93,307.8 L738.6,306.74 L739.27,305.68 L739.94,304.63 L740.62,303.58 L741.3,302.54 L741.99,301.49 L742.68,300.45 L743.37,299.41 L744.07,298.37 L744.77,297.33 L745.48,296.3 L746.18,295.27 L746.89,294.24 L747.61,293.21 L748.33,292.19 L749.05,291.17 L749.77,290.15 L750.5,289.13 L751.24,288.11 L751.97,287.1 L752.71,286.09 L753.45,285.08 L754.2,284.08 L754.95,283.07 L755.7,282.07 L756.45,281.07 L757.21,280.07 L757.98,279.08 L758.74,278.08 L759.51,277.09 L760.28,276.1 L761.06,275.12 L761.83,274.13 L762.61,273.15 L763.4,272.17 L764.19,271.19 L764.98,270.22 L765.77,269.24 L766.57,268.27 L767.37,267.3 L768.17,266.34 L768.97,265.37 L769.78,264.41 L770.59,263.45 L771.41,262.49 L772.22,261.53 L773.04,260.58 L773.87,259.62 L774.69,258.67 L775.52,257.73 L776.35,256.78 L777.19,255.84 L778.02,254.89 L778.86,253.95 L779.71,253.02 L780.55,252.08 L781.4,251.15 L782.25,250.21 L783.1,249.28 L783.96,248.36 L784.82,247.43 L785.68,246.51 L786.54,245.58 L787.41,244.67 L788.28,243.75 L789.15,242.83 L790.02,241.92 L790.9,241.01 L791.77,240.1 L792.66,239.19 L793.54,238.28 L794.42,237.38 L795.31,236.48 L796.2,235.58 L797.1,234.68 L797.99,233.78 L798.89,232.89 L799.79,232 L800.69,231.11 L801.59,230.22 L802.5,229.33 L803.41,228.45 L804.32,227.56 L805.23,226.68 L806.15,225.8 L807.07,224.93 L807.99,224.05 L808.91,223.18 L809.83,222.31 L810.76,221.44 L811.68,220.57 L812.61,219.71 L813.54,218.84 L814.48,217.98 L815.41,217.12 L816.35,216.26 L817.29,215.4 L818.23,214.55 L819.17,213.7 L820.12,212.85 L821.07,212 L822.02,211.15 L822.97,210.3 L823.92,209.46 L824.87,208.62 L825.83,207.78 L826.79,206.94 L827.74,206.1 L828.71,205.27 L829.67,204.43 L830.63,203.6 L831.6,202.77 L832.57,201.94 L833.53,201.12 L834.5,200.29 L835.48,199.47 L836.45,198.65 L837.43,197.83 L838.4,197.01 L839.38,196.19 L840.36,195.38 L841.34,194.57 L842.32,193.76 L843.31,192.95 L844.29,192.14 L845.28,191.33 L846.27,190.53 L847.26,189.73 L848.25,188.92 L849.24,188.12 L850.23,187.33 L851.22,186.53 L852.22,185.74 L853.22,184.94 L854.21,184.15 L855.21,183.36 L856.21,182.57 L857.22,181.79 L858.22,181 L859.22,180.22 L860.23,179.44 L861.23,178.66 L862.24,177.88 L863.24,177.1 L864.25,176.33 L865.26,175.55 L866.27,174.78 L867.28,174.01 L868.3,173.24 L869.31,172.47 L870.32,171.71 L871.34,170.94 L872.36,170.18 L873.37,169.42 L874.39,168.66 L875.41,167.9 L876.43,167.14 L877.45,166.39 L878.47,165.63 L879.49,164.88 L880.51,164.13 L881.53,163.38 L882.55,162.63 L883.58,161.88 L884.6,161.14 L885.63,160.4 L886.65,159.65 L887.68,158.91 L888.7,158.17 L889.73,157.43 L890.76,156.7 L891.79,155.96 L892.82,155.23 L893.84,154.5 L894.87,153.77 L895.9,153.04 L896.93,152.31 L897.96,151.58 L898.99,150.85 L900.02,150.13 L901.06,149.41 L902.09,148.69 L903.12,147.97 L904.15,147.25 L905.18,146.53 L906.22,145.81 L907.25,145.1 L908.28,144.39 L909.31,143.67 L910.35,142.96 L911.38,142.25 L912.41,141.55 L913.45,140.84 L914.48,140.13 L915.51,139.43 L916.55,138.73 L917.58,138.03 L918.61,137.32 L919.65,136.63 L920.68,135.93 L921.71,135.23 L922.74,134.54 L923.78,133.84 L924.81,133.15 L925.84,132.46 L926.87,131.77 L927.91,131.08 L928.94,130.39 L929.97,129.7 L931,129.02 L932.03,128.33 L933.06,127.65 L934.09,126.97 L935.12,126.29 L936.15,125.61 L937.18,124.93 L938.21,124.25 L939.24,123.58 L940.27,122.9 L941.3,122.23 L942.32,121.56 L943.35,120.88 L944.38,120.21 L945.4,119.54 L946.43,118.88 L947.45,118.21 L948.47,117.54 L949.5,116.88 L950.52,116.22 L951.54,115.55 L952.56,114.89 L953.58,114.23 L954.6,113.57 L955.62,112.91 L956.64,112.26 L957.66,111.6" stroke="#0000ff" stroke-width="1.7" fill="none" stroke-linejoin="round" stroke-linecap="round"/>
<path d="M858.54,369.15 L858.66,367.76 L858.78,366.37 L858.9,364.99 L859.04,363.62 L859.18,362.24 L859.34,360.88 L859.5,359.51 L859.66,358.15 L859.84,356.79 L860.02,355.44 L860.21,354.08 L860.41,352.74 L860.62,351.39 L860.83,350.05 L861.05,348.72 L861.28,347.38 L861.52,346.05 L861.76,344.73 L862.01,343.4 L862.27,342.08 L862.54,340.77 L862.81,339.45 L863.09,338.15 L863.38,336.84 L863.67,335.54 L863.97,334.24 L864.28,332.94 L864.6,331.65 L864.92,330.36 L865.25,329.08 L865.59,327.8 L865.93,326.52 L866.28,325.24 L866.64,323.97 L867.01,322.7 L867.38,321.44 L867.76,320.18 L868.14,318.92 L868.53,317.66 L868.93,316.41 L869.34,315.16 L869.75,313.92 L870.17,312.68 L870.59,311.44 L871.02,310.2 L871.46,308.97 L871.9,307.74 L872.35,306.51 L872.81,305.29 L873.27,304.07 L873.74,302.86 L874.22,301.64 L874.7,300.43 L875.19,299.23 L875.68,298.02 L876.18,296.82 L876.69,295.62 L877.2,294.43 L877.72,293.24 L878.24,292.05 L878.77,290.87 L879.31,289.68 L879.85,288.51 L880.4,287.33 L880.95,286.16 L881.51,284.99 L882.08,283.82 L882.65,282.66 L883.22,281.5 L883.8,280.34 L884.39,279.19 L884.98,278.03 L885.58,276.89 L886.18,275.74 L886.79,274.6 L887.41,273.46 L888.03,272.32 L888.65,271.19 L889.28,270.06 L889.92,268.93 L890.56,267.8 L891.2,266.68 L891.86,265.56 L892.51,264.44 L893.17,263.33 L893.84,262.22 L894.51,261.11 L895.19,260.01 L895.87,258.9 L896.55,257.8 L897.24,256.71 L897.94,255.61 L898.64,254.52 L899.34,253.43 L900.05,252.35 L900.77,251.26 L901.49,250.18 L902.21,249.11 L902.94,248.03 L903.67,246.96 L904.41,245.89 L905.15,244.82 L905.89,243.76 L906.64,242.7 L907.4,241.64 L908.16,240.58 L908.92,239.53 L909.69,238.48 L910.46,237.43 L911.24,236.38 L912.01,235.34 L912.8,234.3 L913.59,233.26 L914.38,232.23 L915.17,231.2 L915.97,230.17 L916.78,229.14 L917.59,228.11 L918.4,227.09 L919.21,226.07 L920.03,225.05 L920.85,224.04 L921.68,223.03 L922.51,222.02 L923.34,221.01 L924.18,220 L925.02,219 L925.87,218 L926.71,217 L927.57,216.01 L928.42,215.01 L929.28,214.02 L930.14,213.03 L931,212.05 L931.87,211.07 L932.74,210.08 L933.62,209.11 L934.49,208.13 L935.38,207.16 L936.26,206.18 L937.15,205.21 L938.04,204.25 L938.93,203.28 L939.82,202.32 L940.72,201.36 L941.62,200.4 L942.53,199.44 L943.43,198.49 L944.34,197.54 L945.26,196.59 L946.17,195.64 L947.09,194.7 L948.01,193.76 L948.93,192.82 L949.86,191.88 L950.79,190.94 L951.72,190.01 L952.65,189.08 L953.59,188.15 L954.52,187.22 L955.46,186.29 L956.41,185.37 L957.35,184.45 L958.3,183.53 L959.25,182.61 L960.2,181.7 L961.15,180.79 L962.11,179.88 L963.06,178.97 L964.02,178.06 L964.99,177.16 L965.95,176.25 L966.91,175.35 L967.88,174.45 L968.85,173.56 L969.82,172.66 L970.79,171.77 L971.77,170.88 L972.74,169.99 L973.72,169.1 L974.7,168.22 L975.68,167.33 L976.66,166.45 L977.65,165.57 L978.63,164.7 L979.62,163.82 L980.61,162.95 L981.6,162.07 L982.59,161.2 L983.58,160.34 L984.57,159.47 L985.57,158.6 L986.56,157.74 L987.56,156.88 L988.56,156.02 L989.56,155.16 L990.56,154.31 L991.56,153.45 L992.56,152.6 L993.56,151.75 L994.57,150.9 L995.57,150.06 L996.58,149.21 L997.58,148.37 L998.59,147.53 L999.6,146.69 L1000.61,145.85 L1001.62,145.01 L1002.63,144.17 L1003.64,143.34 L1004.65,142.51 L1005.66,141.68 L1006.67,140.85 L1007.68,140.02 L1008.7,139.2 L1009.71,138.37 L1010.72,137.55 L1011.74,136.73 L1012.75,135.91 L1013.76,135.09 L1014.78,134.28 L1015.79,133.46 L1016.81,132.65 L1017.82,131.84 L1018.84,131.03 L1019.85,130.22 L1020.87,129.41 L1021.88,128.6 L1022.9,127.8 L1023.91,127 L1024.92,126.2 L1025.94,125.4 L1026.95,124.6 L1027.97,123.8 L1028.98,123 L1029.99,122.21 L1031,121.42 L1032.02,120.62 L1033.03,119.83 L1034.04,119.05 L1035.05,118.26 L1036.06,117.47 L1037.07,116.69 L1038.08,115.9 L1039.08,115.12 L1040.09,114.34 L1041.1,113.56 L1042.1,112.78 L1043.11,112 L1044.11,111.23 L1045.12,110.45" stroke="#0000ff" stroke-width="1.7" fill="none" stroke-linejoin="round" stroke-linecap="round"/>
<circle cx="858.2" cy="372.5" r="0.9" fill="#0000ff"/>
<circle cx="858.2" cy="376.4" r="0.9" fill="#0000ff"/>
<path d="M1054.67,295.3 L1053.34,295.1 L1051.99,294.86 L1050.63,294.6 L1049.27,294.32 L1047.89,294.01 L1046.52,293.68 L1045.13,293.32 L1043.74,292.93 L1042.35,292.52 L1040.95,292.09 L1039.56,291.63 L1038.16,291.14 L1036.77,290.64 L1035.37,290.11 L1033.98,289.55 L1032.6,288.97 L1031.22,288.37 L1029.84,287.75 L1028.48,287.1 L1027.12,286.43 L1025.77,285.74 L1024.43,285.02 L1023.11,284.28 L1021.8,283.53 L1020.5,282.75 L1019.22,281.94 L1017.95,281.12 L1016.7,280.27 L1015.47,279.41 L1014.25,278.52 L1013.06,277.61 L1011.89,276.69 L1010.74,275.74 L1009.62,274.77 L1008.52,273.78 L1007.45,272.77 L1006.4,271.75 L1005.38,270.7 L1004.4,269.63 L1003.44,268.55 L1002.51,267.44 L1001.61,266.32 L1000.75,265.18 L999.93,264.02 L999.13,262.84 L998.38,261.65 L997.66,260.44 L996.98,259.21 L996.35,257.96 L995.75,256.7 L995.19,255.41 L994.68,254.12 L994.21,252.8 L993.79,251.47 L993.4,250.13 L993.06,248.78 L992.76,247.41 L992.5,246.03 L992.28,244.65 L992.09,243.25 L991.95,241.85 L991.84,240.44 L991.78,239.03 L991.74,237.61 L991.75,236.19 L991.79,234.77 L991.87,233.34 L991.98,231.92 L992.12,230.5 L992.3,229.08 L992.51,227.67 L992.76,226.26 L993.03,224.85 L993.34,223.46 L993.67,222.07 L994.04,220.69 L994.44,219.32 L994.86,217.96 L995.32,216.61 L995.8,215.28 L996.31,213.96 L996.84,212.66 L997.4,211.37 L997.99,210.09 L998.6,208.82 L999.24,207.57 L999.9,206.33 L1000.58,205.1 L1001.29,203.88 L1002.02,202.68 L1002.77,201.48 L1003.54,200.3 L1004.33,199.13 L1005.14,197.97 L1005.97,196.81 L1006.82,195.67 L1007.69,194.54 L1008.58,193.42 L1009.48,192.3 L1010.4,191.2 L1011.33,190.11 L1012.29,189.02 L1013.25,187.94 L1014.23,186.87 L1015.23,185.81 L1016.24,184.75 L1017.26,183.71 L1018.29,182.67 L1019.34,181.63 L1020.39,180.6 L1021.46,179.58 L1022.54,178.57 L1023.62,177.56 L1024.72,176.56 L1025.82,175.56 L1026.93,174.56 L1028.05,173.58 L1029.18,172.59 L1030.31,171.61 L1031.45,170.64 L1032.59,169.67 L1033.74,168.7 L1034.89,167.73 L1036.04,166.77 L1037.2,165.81 L1038.36,164.86 L1039.52,163.9 L1040.68,162.95 L1041.85,162 L1043.01,161.05 L1044.17,160.1 L1045.33,159.16 L1046.49,158.21 L1047.65,157.27 L1048.81,156.32 L1049.96,155.38 L1051.11,154.44 L1052.25,153.49 L1053.39,152.54 L1054.52,151.6 L1055.65,150.65 L1056.77,149.7 L1057.89,148.75 L1058.99,147.8 L1060.09,146.84 L1061.18,145.88 L1062.26,144.92 L1063.33,143.96 L1064.39,143 L1065.44,142.03 L1066.48,141.05 L1067.5,140.08 L1068.52,139.09 L1069.52,138.11 L1070.5,137.12 L1071.47,136.12 L1072.43,135.12 L1073.37,134.12 L1074.3,133.1 L1075.21,132.09 L1076.1,131.06 L1076.98,130.03 L1077.83,129 L1078.67,127.95 L1079.49,126.9 L1080.29,125.84 L1081.07,124.78" stroke="#0000ff" stroke-width="1.7" fill="none" stroke-linejoin="round" stroke-linecap="round"/>
<path d="M984.61,228.8 L985.08,227.3 L985.58,225.8 L986.1,224.33 L986.63,222.86 L987.19,221.42 L987.77,219.98 L988.37,218.57 L988.98,217.16 L989.62,215.77 L990.28,214.39 L990.95,213.03 L991.64,211.68 L992.35,210.34 L993.08,209.01 L993.83,207.7 L994.59,206.4 L995.37,205.11 L996.17,203.83 L996.98,202.57 L997.81,201.31 L998.65,200.07 L999.51,198.84 L1000.38,197.62 L1001.27,196.41 L1002.17,195.21 L1003.08,194.02 L1004.01,192.84 L1004.96,191.67 L1005.91,190.51 L1006.88,189.36 L1007.86,188.22 L1008.85,187.09 L1009.85,185.96 L1010.87,184.85 L1011.9,183.74 L1012.93,182.64 L1013.98,181.55 L1015.04,180.47 L1016.1,179.39 L1017.18,178.32 L1018.26,177.26 L1019.36,176.21 L1020.46,175.16 L1021.57,174.12 L1022.69,173.09 L1023.81,172.06 L1024.95,171.03 L1026.09,170.02 L1027.23,169 L1028.39,168 L1029.55,167 L1030.71,166 L1031.88,165.01 L1033.05,164.02 L1034.23,163.03 L1035.41,162.06 L1036.6,161.08 L1037.79,160.11 L1038.99,159.14 L1040.18,158.17 L1041.38,157.21 L1042.59,156.25 L1043.79,155.29 L1045,154.33 L1046.21,153.38 L1047.41,152.43 L1048.62,151.48 L1049.83,150.53 L1051.04,149.59 L1052.25,148.64 L1053.46,147.69 L1054.67,146.75 L1055.88,145.81 L1057.09,144.86 L1058.29,143.92 L1059.49,142.97 L1060.69,142.03 L1061.89,141.08 L1063.09,140.14 L1064.28,139.19 L1065.47,138.24 L1066.65,137.29 L1067.83,136.34 L1069,135.39 L1070.17,134.44 L1071.34,133.48 L1072.5,132.52 L1073.65,131.56 L1074.8,130.59 L1075.94,129.62 L1077.07,128.65 L1078.2,127.68 L1079.32,126.7 L1080.43,125.72 L1081.53,124.73" stroke="#0000ff" stroke-width="1.7" fill="none" stroke-linejoin="round" stroke-linecap="round"/>
<path d="M693.23,386.71 L693.38,385.46 L693.54,384.21 L693.71,382.97 L693.88,381.73 L694.07,380.5 L694.26,379.27 L694.46,378.05 L694.67,376.82 L694.89,375.61 L695.12,374.39 L695.36,373.18 L695.61,371.98 L695.86,370.77 L696.13,369.57 L696.4,368.38 L696.68,367.19 L696.97,366 L697.27,364.82 L697.57,363.64 L697.89,362.46 L698.21,361.29 L698.54,360.12 L698.88,358.95 L699.22,357.79 L699.58,356.63 L699.94,355.47 L700.31,354.32 L700.69,353.17 L701.07,352.03 L701.46,350.89 L701.87,349.75 L702.27,348.62 L702.69,347.49 L703.11,346.36 L703.54,345.23 L703.98,344.11 L704.42,343 L704.87,341.88 L705.33,340.77 L705.8,339.66 L706.27,338.56 L706.75,337.46 L707.23,336.36 L707.73,335.26 L708.22,334.17 L708.73,333.08 L709.24,332 L709.76,330.91 L710.29,329.83 L710.82,328.76 L711.36,327.68 L711.9,326.61 L712.45,325.55 L713.01,324.48 L713.57,323.42 L714.14,322.36 L714.72,321.31 L715.3,320.25 L715.88,319.2 L716.47,318.16 L717.07,317.11 L717.68,316.07 L718.28,315.03 L718.9,314 L719.52,312.96 L720.15,311.93 L720.78,310.9 L721.41,309.88 L722.05,308.86 L722.7,307.84 L723.35,306.82 L724.01,305.8 L724.67,304.79 L725.34,303.78 L726.01,302.78 L726.68,301.77 L727.37,300.77 L728.05,299.77 L728.74,298.77 L729.44,297.78 L730.14,296.79 L730.84,295.8 L731.55,294.81 L732.26,293.83 L732.98,292.84 L733.7,291.86 L734.42,290.88 L735.15,289.91 L735.88,288.94 L736.62,287.96 L737.36,287 L738.11,286.03 L738.85,285.06 L739.61,284.1 L740.36,283.14 L741.12,282.18 L741.88,281.23 L742.65,280.27 L743.42,279.32 L744.19,278.37 L744.97,277.42 L745.75,276.48 L746.53,275.53 L747.32,274.59 L748.11,273.65 L748.9,272.71 L749.69,271.78 L750.49,270.84 L751.29,269.91 L752.09,268.98 L752.9,268.05 L753.71,267.12 L754.52,266.2 L755.33,265.28 L756.15,264.35 L756.97,263.43 L757.79,262.52 L758.61,261.6 L759.43,260.68 L760.26,259.77 L761.09,258.86 L761.92,257.95 L762.75,257.04 L763.59,256.13 L764.43,255.23 L765.26,254.32 L766.1,253.42 L766.95,252.52 L767.79,251.62 L768.63,250.72 L769.48,249.82 L770.33,248.93 L771.18,248.04 L772.03,247.14 L772.88,246.25 L773.73,245.36 L774.59,244.48 L775.45,243.59 L776.3,242.7 L777.16,241.82 L778.02,240.94 L778.89,240.06 L779.75,239.18 L780.62,238.3 L781.48,237.42 L782.35,236.55 L783.22,235.68 L784.09,234.8 L784.97,233.93 L785.84,233.07 L786.72,232.2 L787.6,231.33 L788.47,230.47 L789.35,229.61 L790.24,228.75 L791.12,227.89 L792,227.03 L792.89,226.17 L793.78,225.32 L794.67,224.47 L795.56,223.61 L796.45,222.76 L797.34,221.92 L798.23,221.07 L799.13,220.22 L800.03,219.38 L800.93,218.54 L801.83,217.7 L802.73,216.86 L803.63,216.02 L804.54,215.19 L805.44,214.35 L806.35,213.52 L807.26,212.69 L808.17,211.86 L809.08,211.03 L809.99,210.21 L810.9,209.38 L811.82,208.56 L812.74,207.74 L813.65,206.92 L814.57,206.11 L815.49,205.29 L816.42,204.48 L817.34,203.66 L818.26,202.85 L819.19,202.04 L820.12,201.24 L821.05,200.43 L821.98,199.63 L822.91,198.82 L823.84,198.02 L824.78,197.23 L825.71,196.43 L826.65,195.63 L827.59,194.84 L828.53,194.05 L829.47,193.26 L830.41,192.47 L831.35,191.68 L832.3,190.9 L833.24,190.12 L834.19,189.34 L835.14,188.56 L836.09,187.78 L837.04,187 L837.99,186.23 L838.95,185.46 L839.9,184.69 L840.86,183.92 L841.82,183.15 L842.78,182.38 L843.74,181.62 L844.7,180.86 L845.66,180.1 L846.62,179.34 L847.59,178.59 L848.56,177.83 L849.52,177.08 L850.49,176.33 L851.46,175.58 L852.43,174.83 L853.41,174.09 L854.38,173.35 L855.36,172.61 L856.33,171.87 L857.31,171.13 L858.29,170.39 L859.27,169.66 L860.25,168.93 L861.23,168.2 L862.22,167.47 L863.2,166.74 L864.19,166.02 L865.18,165.3 L866.17,164.58 L867.16,163.86 L868.15,163.14 L869.14,162.43 L870.13,161.72 L871.13,161.01 L872.12,160.3 L873.12,159.59 L874.12,158.89 L875.12,158.18 L876.12,157.48 L877.12,156.78 L878.13,156.09 L879.13,155.39 L880.14,154.7 L881.14,154.01 L882.15,153.32 L883.16,152.63 L884.17,151.95 L885.18,151.26 L886.19,150.58 L887.21,149.9 L888.22,149.23 L889.24,148.55 L890.25,147.88 L891.27,147.21 L892.29,146.54 L893.31,145.87 L894.33,145.21 L895.36,144.55 L896.38,143.89 L897.4,143.23 L898.43,142.57 L899.46,141.92 L900.49,141.26 L901.51,140.61 L902.55,139.97 L903.58,139.32 L904.61,138.68 L905.64,138.03 L906.68,137.39 L907.71,136.76 L908.75,136.12 L909.79,135.49 L910.83,134.86 L911.87,134.23 L912.91,133.6 L913.95,132.98 L915,132.35 L916.04,131.73 L917.09,131.11 L918.13,130.5 L919.18,129.88 L920.23,129.27 L921.28,128.66 L922.33,128.06 L923.38,127.45 L924.44,126.85 L925.49,126.25 L926.55,125.65 L927.6,125.05 L928.66,124.46 L929.72,123.86 L930.78,123.27 L931.84,122.69 L932.9,122.1 L933.96,121.52 L935.02,120.94 L936.09,120.36 L937.15,119.78 L938.22,119.21 L939.29,118.63 L940.36,118.06 L941.43,117.5 L942.5,116.93 L943.57,116.37 L944.64,115.81 L945.71,115.25 L946.79,114.69 L947.86,114.14 L948.94,113.59 L950.02,113.04 L951.1,112.49 L952.17,111.94 L953.26,111.4 L954.34,110.86 L955.42,110.32 L956.5,109.79" stroke="#000" stroke-width="4.5" fill="none" stroke-linejoin="round" stroke-linecap="butt"/>
<path d="M845.78,387.66 L845.78,386.45 L845.79,385.25 L845.8,384.04 L845.82,382.84 L845.84,381.64 L845.87,380.44 L845.91,379.25 L845.95,378.06 L846,376.86 L846.06,375.68 L846.12,374.49 L846.19,373.3 L846.26,372.12 L846.34,370.94 L846.43,369.76 L846.52,368.59 L846.62,367.41 L846.73,366.24 L846.84,365.07 L846.96,363.9 L847.08,362.74 L847.21,361.57 L847.34,360.41 L847.48,359.25 L847.63,358.1 L847.78,356.94 L847.94,355.79 L848.1,354.64 L848.27,353.49 L848.45,352.34 L848.63,351.2 L848.82,350.06 L849.01,348.92 L849.21,347.78 L849.41,346.64 L849.62,345.51 L849.84,344.38 L850.06,343.25 L850.29,342.12 L850.52,340.99 L850.76,339.87 L851,338.75 L851.25,337.63 L851.5,336.51 L851.76,335.4 L852.03,334.29 L852.3,333.17 L852.57,332.07 L852.85,330.96 L853.14,329.85 L853.43,328.75 L853.73,327.65 L854.03,326.55 L854.34,325.46 L854.65,324.36 L854.97,323.27 L855.29,322.18 L855.62,321.09 L855.95,320.01 L856.29,318.93 L856.64,317.84 L856.99,316.76 L857.34,315.69 L857.7,314.61 L858.06,313.54 L858.43,312.47 L858.8,311.4 L859.18,310.33 L859.57,309.27 L859.95,308.2 L860.35,307.14 L860.75,306.08 L861.15,305.03 L861.56,303.97 L861.97,302.92 L862.39,301.87 L862.81,300.82 L863.23,299.78 L863.67,298.73 L864.1,297.69 L864.54,296.65 L864.99,295.61 L865.44,294.58 L865.89,293.54 L866.35,292.51 L866.81,291.48 L867.28,290.45 L867.75,289.43 L868.23,288.4 L868.71,287.38 L869.2,286.36 L869.69,285.35 L870.18,284.33 L870.68,283.32 L871.18,282.31 L871.69,281.3 L872.2,280.29 L872.72,279.28 L873.24,278.28 L873.76,277.28 L874.29,276.28 L874.83,275.28 L875.36,274.29 L875.9,273.3 L876.45,272.31 L877,271.32 L877.55,270.33 L878.11,269.35 L878.67,268.36 L879.24,267.38 L879.81,266.4 L880.38,265.43 L880.96,264.45 L881.54,263.48 L882.12,262.51 L882.71,261.54 L883.3,260.58 L883.9,259.61 L884.5,258.65 L885.1,257.69 L885.71,256.73 L886.32,255.77 L886.94,254.82 L887.56,253.87 L888.18,252.92 L888.81,251.97 L889.44,251.02 L890.07,250.08 L890.71,249.14 L891.35,248.2 L891.99,247.26 L892.64,246.32 L893.29,245.39 L893.94,244.46 L894.6,243.53 L895.26,242.6 L895.93,241.67 L896.6,240.75 L897.27,239.83 L897.94,238.91 L898.62,237.99 L899.3,237.07 L899.99,236.16 L900.68,235.25 L901.37,234.34 L902.06,233.43 L902.76,232.52 L903.46,231.62 L904.16,230.72 L904.87,229.82 L905.58,228.92 L906.29,228.03 L907.01,227.13 L907.73,226.24 L908.45,225.35 L909.17,224.46 L909.9,223.58 L910.63,222.69 L911.37,221.81 L912.1,220.93 L912.84,220.05 L913.58,219.18 L914.33,218.3 L915.08,217.43 L915.83,216.56 L916.58,215.69 L917.34,214.83 L918.1,213.96 L918.86,213.1 L919.62,212.24 L920.39,211.38 L921.16,210.53 L921.93,209.67 L922.71,208.82 L923.48,207.97 L924.26,207.12 L925.04,206.27 L925.83,205.43 L926.62,204.59 L927.41,203.75 L928.2,202.91 L928.99,202.07 L929.79,201.24 L930.59,200.41 L931.39,199.58 L932.19,198.75 L933,197.92 L933.81,197.1 L934.62,196.27 L935.43,195.45 L936.24,194.63 L937.06,193.82 L937.88,193 L938.7,192.19 L939.52,191.38 L940.35,190.57 L941.18,189.76 L942.01,188.96 L942.84,188.15 L943.67,187.35 L944.51,186.55 L945.34,185.76 L946.18,184.96 L947.03,184.17 L947.87,183.38 L948.71,182.59 L949.56,181.8 L950.41,181.01 L951.26,180.23 L952.11,179.45 L952.96,178.67 L953.82,177.89 L954.68,177.11 L955.54,176.34 L956.4,175.57 L957.26,174.8 L958.12,174.03 L958.99,173.26 L959.86,172.5 L960.72,171.74 L961.59,170.98 L962.47,170.22 L963.34,169.46 L964.21,168.71 L965.09,167.96 L965.97,167.2 L966.85,166.46 L967.73,165.71 L968.61,164.96 L969.49,164.22 L970.37,163.48 L971.26,162.74 L972.15,162 L973.03,161.27 L973.92,160.53 L974.81,159.8 L975.7,159.07 L976.6,158.35 L977.49,157.62 L978.39,156.9 L979.28,156.17 L980.18,155.45 L981.08,154.74 L981.97,154.02 L982.87,153.31 L983.78,152.59 L984.68,151.88 L985.58,151.17 L986.48,150.47 L987.39,149.76 L988.29,149.06 L989.2,148.36 L990.11,147.66 L991.01,146.96 L991.92,146.27 L992.83,145.57 L993.74,144.88 L994.65,144.19 L995.56,143.5 L996.48,142.82 L997.39,142.14 L998.3,141.45 L999.22,140.77 L1000.13,140.09 L1001.04,139.42 L1001.96,138.74 L1002.88,138.07 L1003.79,137.4 L1004.71,136.73 L1005.63,136.07 L1006.54,135.4 L1007.46,134.74 L1008.38,134.08 L1009.3,133.42 L1010.22,132.76 L1011.14,132.1 L1012.06,131.45 L1012.98,130.8 L1013.9,130.15 L1014.82,129.5 L1015.74,128.85 L1016.66,128.21 L1017.58,127.57 L1018.5,126.93 L1019.42,126.29 L1020.34,125.65 L1021.26,125.02 L1022.19,124.38 L1023.11,123.75 L1024.03,123.12 L1024.95,122.49 L1025.87,121.87 L1026.79,121.24 L1027.71,120.62 L1028.63,120 L1029.55,119.38 L1030.47,118.77 L1031.39,118.15 L1032.31,117.54 L1033.23,116.93 L1034.15,116.32 L1035.07,115.71 L1035.99,115.11 L1036.91,114.5 L1037.83,113.9 L1038.75,113.3 L1039.66,112.71 L1040.58,112.11 L1041.5,111.52 L1042.41,110.92 L1043.33,110.33" stroke="#000" stroke-width="4.5" fill="none" stroke-linejoin="round" stroke-linecap="butt"/>
<path d="M982.8,231.05 L982.65,232.2 L982.52,233.35 L982.41,234.49 L982.33,235.61 L982.27,236.73 L982.24,237.83 L982.24,238.92 L982.25,240.01 L982.29,241.08 L982.35,242.14 L982.44,243.19 L982.55,244.23 L982.68,245.26 L982.83,246.28 L983,247.29 L983.2,248.28 L983.42,249.27 L983.65,250.25 L983.91,251.21 L984.19,252.17 L984.49,253.11 L984.81,254.05 L985.15,254.97 L985.5,255.89 L985.88,256.79 L986.27,257.68 L986.69,258.57 L987.12,259.44 L987.57,260.3 L988.03,261.15 L988.52,261.99 L989.02,262.83 L989.53,263.65 L990.07,264.46 L990.62,265.26 L991.18,266.05 L991.76,266.83 L992.36,267.6 L992.97,268.35 L993.59,269.1 L994.23,269.84 L994.88,270.57 L995.55,271.29 L996.23,272 L996.93,272.7 L997.63,273.38 L998.35,274.06 L999.08,274.73 L999.83,275.39 L1000.58,276.03 L1001.35,276.67 L1002.13,277.3 L1002.91,277.92 L1003.71,278.52 L1004.52,279.12 L1005.34,279.71 L1006.17,280.29 L1007.01,280.85 L1007.86,281.41 L1008.72,281.96 L1009.58,282.5 L1010.46,283.02 L1011.34,283.54 L1012.23,284.05 L1013.12,284.55 L1014.03,285.04 L1014.94,285.52 L1015.86,285.98 L1016.78,286.44 L1017.71,286.89 L1018.65,287.33 L1019.59,287.76 L1020.54,288.18 L1021.49,288.59 L1022.44,288.99 L1023.4,289.38 L1024.37,289.76 L1025.34,290.13 L1026.31,290.49 L1027.28,290.84 L1028.26,291.19 L1029.24,291.52 L1030.22,291.84 L1031.21,292.15 L1032.19,292.46 L1033.18,292.75 L1034.17,293.04 L1035.16,293.31 L1036.15,293.58 L1037.14,293.83 L1038.13,294.08 L1039.12,294.31 L1040.11,294.54 L1041.1,294.76 L1042.09,294.97 L1043.08,295.17 L1044.06,295.35 L1045.04,295.53 L1046.02,295.7 L1047,295.87 L1047.98,296.02 L1048.95,296.16 L1049.92,296.29 L1050.88,296.42 L1051.85,296.53 L1052.8,296.64 L1053.75,296.73" stroke="#000" stroke-width="4.5" fill="none" stroke-linejoin="round" stroke-linecap="butt"/>
</g>
<path d="M771.34,385 v-5.5 M771.34,45 v5.5 M942.02,385 v-5.5 M942.02,45 v5.5 M1112.7,385 v-5.5 M1112.7,45 v5.5 M686,385 h5.5 M1112.7,385 h-5.5 M686,328.33 h5.5 M1112.7,328.33 h-5.5 M686,271.67 h5.5 M1112.7,271.67 h-5.5 M686,215 h5.5 M1112.7,215 h-5.5 M686,158.33 h5.5 M1112.7,158.33 h-5.5 M686,101.67 h5.5 M1112.7,101.67 h-5.5 M686,45 h5.5 M1112.7,45 h-5.5 " stroke="#262626" stroke-width="1.8" fill="none"/>
<rect x="686" y="45" width="426.7" height="340" fill="none" stroke="#262626" stroke-width="2.3" stroke-linejoin="miter"/>
<text x="675.3" y="396.6" style="font-size:32.5px;" text-anchor="end" fill="#262626">0</text>
<text x="675.3" y="339.93" style="font-size:32.5px;" text-anchor="end" fill="#262626">0.02</text>
<text x="675.3" y="283.27" style="font-size:32.5px;" text-anchor="end" fill="#262626">0.04</text>
<text x="675.3" y="226.6" style="font-size:32.5px;" text-anchor="end" fill="#262626">0.06</text>
<text x="675.3" y="169.93" style="font-size:32.5px;" text-anchor="end" fill="#262626">0.08</text>
<text x="675.3" y="113.27" style="font-size:32.5px;" text-anchor="end" fill="#262626">0.1</text>
<text x="772.34" y="426.3" style="font-size:32.5px;" text-anchor="middle" fill="#262626">1</text>
<text x="943.02" y="426.3" style="font-size:32.5px;" text-anchor="middle" fill="#262626">1.02</text>
<text x="1113.7" y="426.3" style="font-size:32.5px;" text-anchor="middle" fill="#262626">1.04</text>
<text x="0" y="0" transform="translate(606.3,385.06) rotate(-90)" style="font-size:36.8px" fill="#262626">Normalized Amplitude</text>
<text x="863.47" y="468.2" style="font-size:34px;font-style:italic;" fill="#262626">ω</text>
<text x="887.1" y="468.2" style="font-size:34px;" fill="#262626">/</text>
<text x="896.37" y="468.2" style="font-size:34px;font-style:italic;" fill="#262626">ω</text>
<text x="919.46" y="486.4" style="font-size:30px;" fill="#262626">0</text>
<rect x="687.5" y="61.6" width="193.4" height="85.2" fill="#fff" stroke="#262626" stroke-width="2.6"/>
<path d="M696.5,83 H746" stroke="#000" stroke-width="3.6"/>
<path d="M696.5,123.4 H746" stroke="#0000ff" stroke-width="3.2"/>
<text x="748.63" y="95.9" style="font-size:35.5px;" fill="#000" transform="translate(0,95.9) scale(1,0.95) translate(0,-95.9)">Stable</text>
<text x="749.05" y="136" style="font-size:35.5px;" fill="#000" transform="translate(0,136) scale(1,0.95) translate(0,-136)">Unstable</text>
<rect x="911.7" y="53.7" width="56.5" height="40.2" fill="none" stroke="#000" stroke-width="2" stroke-linejoin="round"/>
<text x="915.87" y="84.8" style="font-size:32px;font-style:italic">P</text>
<text x="930.85" y="91.1" transform="translate(932.7,0) scale(1.3,1) translate(-932.7,0)" style="font-size:21px" stroke="#000" stroke-width="0.25">1</text>
<text x="944.3" y="91.1" transform="translate(945.1,0) scale(1.0,1) translate(-945.1,0)" style="font-size:21px" stroke="#000" stroke-width="0.25">,</text>
<text x="949.55" y="91.1" transform="translate(951.4,0) scale(1.3,1) translate(-951.4,0)" style="font-size:21px" stroke="#000" stroke-width="0.25">1</text>
<rect x="1017.1" y="54.3" width="56.9" height="40.6" fill="none" stroke="#000" stroke-width="2" stroke-linejoin="round"/>
<text x="1021.27" y="85.4" style="font-size:32px;font-style:italic">P</text>
<text x="1036.25" y="91.7" transform="translate(1038.1,0) scale(1.3,1) translate(-1038.1,0)" style="font-size:21px" stroke="#000" stroke-width="0.25">1</text>
<text x="1049.7" y="91.7" transform="translate(1050.5,0) scale(1.0,1) translate(-1050.5,0)" style="font-size:21px" stroke="#000" stroke-width="0.25">,</text>
<text x="1055.88" y="91.7" transform="translate(1056.8,0) scale(1.3,1) translate(-1056.8,0)" style="font-size:21px" stroke="#000" stroke-width="0.25">2</text>
<rect x="1010" y="318" width="57" height="40.5" fill="none" stroke="#000" stroke-width="2" stroke-linejoin="round"/>
<text x="1014.17" y="349.1" style="font-size:32px;font-style:italic">P</text>
<text x="1029.15" y="355.4" transform="translate(1031,0) scale(1.3,1) translate(-1031,0)" style="font-size:21px" stroke="#000" stroke-width="0.25">1</text>
<text x="1042.6" y="355.4" transform="translate(1043.4,0) scale(1.0,1) translate(-1043.4,0)" style="font-size:21px" stroke="#000" stroke-width="0.25">,</text>
<text x="1049.29" y="355.4" transform="translate(1049.7,0) scale(1.3,1) translate(-1049.7,0)" style="font-size:21px" stroke="#000" stroke-width="0.25">4</text>
<circle cx="956.1" cy="110.5" r="11.6" fill="none" stroke="#000" stroke-width="1.9"/>
<circle cx="1044.8" cy="110.6" r="11.6" fill="none" stroke="#000" stroke-width="1.9"/>
<circle cx="1053.1" cy="298.5" r="11.2" fill="none" stroke="#000" stroke-width="1.9"/>
<circle cx="980.5" cy="230.4" r="10" fill="none" stroke="#ffbf00" stroke-width="2.6"/>
<path d="M970.2,232.5 L815.07,299.07" stroke="#ffbf00" stroke-width="1.7" fill="none"/>
<path d="M804.5,303.6 L813.56,293.02 L818.41,304.32 Z" fill="#ffbf00"/>
<path d="M730.9,305.1 H878.9" stroke="#ff0000" stroke-width="3" fill="none" stroke-dasharray="13.3 11"/>
<path d="M728.9,340.3 H878.9" stroke="#ff0000" stroke-width="3" fill="none" stroke-dasharray="13.3 11"/>
<path d="M877.4,303.6 V341.8" stroke="#ff0000" stroke-width="3" fill="none" stroke-dasharray="13.3 11"/>
<path d="M730.4,316.05 V329.35 " stroke="#ff0000" stroke-width="3" fill="none"/>
<text x="752.35" y="332.3" style="font-size:27.7px;" fill="#000">SN Point</text>
<text x="625" y="46.8" style="font-size:50px;" fill="#000">(b)</text>
<text x="790.57" y="27" style="font-size:38px;font-style:italic;" fill="#000">a</text>
<text x="812.61" y="27" transform="translate(814.5,14.38) scale(1.16,0.72) translate(-814.5,-14.38)" style="font-size:38px;">=</text>
<text x="837.55" y="27" style="font-size:38px;" fill="#000">0</text>
<text x="856.9" y="27" style="font-size:38px;" fill="#000">.</text>
<text x="865.89" y="27" style="font-size:38px;" fill="#000">5</text>
<text x="885.58" y="27" style="font-size:38px;font-style:italic;" fill="#000">g</text>
<text x="916.61" y="27" style="font-size:38px;" fill="#000">Beam1</text>
<clipPath id="cc"><rect x="1256" y="45" width="425.8" height="340"/></clipPath>
<g clip-path="url(#cc)">
<path d="M1275.97,367.96 L1276.15,366.58 L1276.34,365.2 L1276.54,363.83 L1276.74,362.46 L1276.95,361.1 L1277.17,359.74 L1277.4,358.38 L1277.63,357.02 L1277.87,355.67 L1278.12,354.33 L1278.37,352.98 L1278.63,351.64 L1278.9,350.31 L1279.18,348.97 L1279.46,347.64 L1279.75,346.32 L1280.04,344.99 L1280.34,343.68 L1280.65,342.36 L1280.96,341.05 L1281.29,339.74 L1281.61,338.43 L1281.95,337.13 L1282.29,335.83 L1282.64,334.54 L1282.99,333.25 L1283.35,331.96 L1283.72,330.68 L1284.09,329.39 L1284.47,328.12 L1284.86,326.84 L1285.25,325.57 L1285.65,324.3 L1286.06,323.04 L1286.47,321.78 L1286.89,320.52 L1287.31,319.27 L1287.74,318.02 L1288.18,316.77 L1288.62,315.52 L1289.07,314.28 L1289.52,313.04 L1289.99,311.81 L1290.45,310.58 L1290.92,309.35 L1291.4,308.13 L1291.89,306.91 L1292.38,305.69 L1292.87,304.47 L1293.38,303.26 L1293.88,302.05 L1294.4,300.85 L1294.92,299.65 L1295.44,298.45 L1295.97,297.25 L1296.51,296.06 L1297.05,294.87 L1297.6,293.68 L1298.15,292.5 L1298.71,291.32 L1299.28,290.14 L1299.85,288.97 L1300.42,287.8 L1301,286.63 L1301.59,285.47 L1302.18,284.31 L1302.78,283.15 L1303.38,282 L1303.99,280.85 L1304.6,279.7 L1305.22,278.55 L1305.84,277.41 L1306.47,276.27 L1307.1,275.13 L1307.74,274 L1308.38,272.87 L1309.03,271.74 L1309.69,270.62 L1310.35,269.5 L1311.01,268.38 L1311.68,267.26 L1312.35,266.15 L1313.03,265.04 L1313.71,263.94 L1314.4,262.83 L1315.1,261.73 L1315.79,260.64 L1316.5,259.54 L1317.2,258.45 L1317.92,257.36 L1318.63,256.28 L1319.35,255.19 L1320.08,254.11 L1320.81,253.04 L1321.55,251.96 L1322.29,250.89 L1323.03,249.82 L1323.78,248.76 L1324.53,247.7 L1325.29,246.64 L1326.05,245.58 L1326.82,244.53 L1327.59,243.47 L1328.36,242.43 L1329.14,241.38 L1329.93,240.34 L1330.72,239.3 L1331.51,238.26 L1332.3,237.23 L1333.1,236.2 L1333.91,235.17 L1334.72,234.14 L1335.53,233.12 L1336.35,232.1 L1337.17,231.08 L1337.99,230.06 L1338.82,229.05 L1339.65,228.04 L1340.49,227.03 L1341.33,226.03 L1342.17,225.03 L1343.02,224.03 L1343.87,223.03 L1344.73,222.04 L1345.59,221.05 L1346.45,220.06 L1347.32,219.08 L1348.19,218.09 L1349.06,217.11 L1349.94,216.13 L1350.82,215.16 L1351.7,214.19 L1352.59,213.22 L1353.48,212.25 L1354.37,211.28 L1355.27,210.32 L1356.17,209.36 L1357.08,208.41 L1357.99,207.45 L1358.9,206.5 L1359.81,205.55 L1360.73,204.6 L1361.65,203.66 L1362.58,202.72 L1363.5,201.78 L1364.43,200.84 L1365.37,199.91 L1366.3,198.97 L1367.24,198.04 L1368.19,197.12 L1369.13,196.19 L1370.08,195.27 L1371.03,194.35 L1371.99,193.43 L1372.95,192.52 L1373.91,191.61 L1374.87,190.7 L1375.83,189.79 L1376.8,188.88 L1377.78,187.98 L1378.75,187.08 L1379.73,186.18 L1380.71,185.29 L1381.69,184.39 L1382.67,183.5 L1383.66,182.61 L1384.65,181.73 L1385.64,180.84 L1386.64,179.96 L1387.63,179.08 L1388.63,178.2 L1389.63,177.33 L1390.64,176.46 L1391.65,175.59 L1392.65,174.72 L1393.67,173.85 L1394.68,172.99 L1395.69,172.13 L1396.71,171.27 L1397.73,170.41 L1398.75,169.56 L1399.78,168.71 L1400.81,167.86 L1401.83,167.01 L1402.86,166.16 L1403.9,165.32 L1404.93,164.48 L1405.97,163.64 L1407.01,162.8 L1408.05,161.97 L1409.09,161.13 L1410.13,160.3 L1411.18,159.48 L1412.23,158.65 L1413.28,157.82 L1414.33,157 L1415.38,156.18 L1416.43,155.36 L1417.49,154.55 L1418.55,153.74 L1419.61,152.92 L1420.67,152.11 L1421.73,151.31 L1422.79,150.5 L1423.86,149.7 L1424.92,148.9 L1425.99,148.1 L1427.06,147.3 L1428.13,146.5 L1429.2,145.71 L1430.28,144.92 L1431.35,144.13 L1432.43,143.34 L1433.5,142.56 L1434.58,141.77 L1435.66,140.99 L1436.74,140.21 L1437.82,139.43 L1438.91,138.66 L1439.99,137.88 L1441.08,137.11 L1442.16,136.34 L1443.25,135.57 L1444.33,134.81 L1445.42,134.04 L1446.51,133.28 L1447.6,132.52 L1448.69,131.76 L1449.79,131 L1450.88,130.25 L1451.97,129.5 L1453.07,128.75 L1454.16,128 L1455.26,127.25 L1456.35,126.5 L1457.45,125.76 L1458.55,125.02 L1459.64,124.27 L1460.74,123.54 L1461.84,122.8 L1462.94,122.06 L1464.04,121.33 L1465.14,120.6 L1466.24,119.87 L1467.34,119.14 L1468.44,118.41 L1469.54,117.69 L1470.64,116.97 L1471.74,116.24 L1472.85,115.52 L1473.95,114.81 L1475.05,114.09 L1476.15,113.37 L1477.25,112.66 L1478.36,111.95 L1479.46,111.24 L1480.56,110.53 L1481.66,109.83 L1482.77,109.12 L1483.87,108.42 L1484.97,107.72 L1486.07,107.02 L1487.17,106.32 L1488.28,105.62 L1489.38,104.92 L1490.48,104.23 L1491.58,103.54 L1492.68,102.85 L1493.78,102.16 L1494.88,101.47 L1495.98,100.78 L1497.08,100.1 L1498.18,99.42 L1499.27,98.73 L1500.37,98.05 L1501.47,97.38 L1502.57,96.7 L1503.66,96.02 L1504.76,95.35 L1505.85,94.68 L1506.95,94.01 L1508.04,93.34 L1509.13,92.67 L1510.22,92 L1511.31,91.33 L1512.4,90.67 L1513.49,90.01 L1514.58,89.35 L1515.67,88.69 L1516.76,88.03 L1517.84,87.37 L1518.93,86.71 L1520.01,86.06 L1521.09,85.41 L1522.17,84.75 L1523.25,84.1 L1524.33,83.46 L1525.41,82.81 L1526.49,82.16" stroke="#ff0000" stroke-width="1.7" fill="none" stroke-linejoin="round" stroke-linecap="round"/>
<circle cx="1276.5" cy="371.5" r="0.9" fill="#ff0000"/>
<circle cx="1276.5" cy="375.5" r="0.9" fill="#ff0000"/>
<path d="M1427.27,381.48 L1427.28,380.03 L1427.32,378.6 L1427.39,377.18 L1427.48,375.78 L1427.61,374.4 L1427.76,373.03 L1427.94,371.68 L1428.15,370.35 L1428.38,369.03 L1428.64,367.73 L1428.93,366.44 L1429.24,365.17 L1429.58,363.92 L1429.94,362.68 L1430.33,361.46 L1430.74,360.25 L1431.18,359.06 L1431.63,357.89 L1432.12,356.73 L1432.62,355.59 L1433.15,354.47 L1433.7,353.36 L1434.27,352.27 L1434.86,351.19 L1435.47,350.14 L1436.11,349.09 L1436.76,348.07 L1437.43,347.06 L1438.12,346.07 L1438.84,345.09 L1439.57,344.13 L1440.31,343.19 L1441.08,342.26 L1441.86,341.35 L1442.66,340.46 L1443.48,339.58 L1444.31,338.72 L1445.16,337.88 L1446.03,337.05 L1446.91,336.24 L1447.8,335.44 L1448.71,334.67 L1449.64,333.91 L1450.58,333.16 L1451.53,332.43 L1452.49,331.72 L1453.47,331.03 L1454.46,330.35 L1455.46,329.69 L1456.47,329.05 L1457.49,328.42 L1458.53,327.81 L1459.57,327.22 L1460.62,326.64 L1461.69,326.08 L1462.76,325.54 L1463.84,325.01 L1464.93,324.5 L1466.03,324.01 L1467.14,323.53 L1468.25,323.07 L1469.37,322.63 L1470.5,322.21 L1471.63,321.8 L1472.77,321.41 L1473.92,321.03 L1475.07,320.67 L1476.23,320.33 L1477.39,320 L1478.56,319.69 L1479.73,319.39 L1480.91,319.1 L1482.1,318.84 L1483.29,318.58 L1484.48,318.34 L1485.68,318.11 L1486.89,317.9 L1488.09,317.7 L1489.31,317.51 L1490.52,317.34 L1491.74,317.17 L1492.97,317.02 L1494.19,316.89 L1495.42,316.76 L1496.66,316.65 L1497.9,316.54 L1499.14,316.45 L1500.38,316.37 L1501.62,316.3 L1502.87,316.24 L1504.12,316.19 L1505.38,316.15 L1506.63,316.11 L1507.89,316.09 L1509.15,316.08 L1510.41,316.07 L1511.67,316.08 L1512.94,316.09 L1514.2,316.11 L1515.47,316.14 L1516.73,316.18 L1518,316.22 L1519.27,316.27 L1520.54,316.33 L1521.81,316.39 L1523.08,316.46 L1524.34,316.54 L1525.61,316.62 L1526.88,316.71 L1528.15,316.8 L1529.42,316.9 L1530.69,317 L1531.95,317.11 L1533.22,317.22 L1534.48,317.34 L1535.74,317.46 L1537.01,317.58 L1538.27,317.71 L1539.52,317.84 L1540.78,317.97 L1542.03,318.11 L1543.29,318.25 L1544.54,318.39 L1545.79,318.53 L1547.03,318.68 L1548.28,318.82 L1549.52,318.97 L1550.77,319.12 L1552.01,319.27 L1553.25,319.42 L1554.49,319.58 L1555.72,319.73 L1556.96,319.88 L1558.19,320.04 L1559.42,320.19 L1560.65,320.35 L1561.88,320.5 L1563.11,320.65 L1564.34,320.81 L1565.57,320.96 L1566.79,321.11 L1568.02,321.26 L1569.24,321.41 L1570.46,321.55 L1571.69,321.7 L1572.91,321.84 L1574.13,321.98 L1575.34,322.12 L1576.56,322.26 L1577.78,322.39 L1579,322.52 L1580.21,322.65 L1581.43,322.77 L1582.64,322.9 L1583.86,323.01 L1585.07,323.13 L1586.28,323.24 L1587.5,323.34 L1588.71,323.44 L1589.92,323.54 L1591.13,323.63 L1592.34,323.72 L1593.55,323.8 L1594.76,323.87 L1595.97,323.95 L1597.18,324.01 L1598.39,324.07 L1599.6,324.12 L1600.81,324.17 L1602.02,324.21 L1603.23,324.24 L1604.44,324.27 L1605.65,324.29 L1606.86,324.31 L1608.07,324.31 L1609.29,324.31 L1610.5,324.3 L1611.71,324.28 L1612.92,324.26" stroke="#ff0000" stroke-width="1.7" fill="none" stroke-linejoin="round" stroke-linecap="round"/>
<path d="M1552.7,121.81 L1553.58,121.09 L1554.46,120.36 L1555.33,119.63 L1556.2,118.9 L1557.07,118.17 L1557.94,117.43 L1558.8,116.69 L1559.67,115.95 L1560.53,115.2 L1561.4,114.46 L1562.26,113.71 L1563.12,112.96 L1563.98,112.21 L1564.85,111.46 L1565.71,110.71 L1566.57,109.96 L1567.43,109.21 L1568.29,108.46 L1569.15,107.71 L1570.02,106.96 L1570.88,106.21 L1571.74,105.46 L1572.61,104.71 L1573.48,103.97 L1574.34,103.22 L1575.21,102.48 L1576.08,101.74 L1576.95,101 L1577.83,100.27 L1578.7,99.54 L1579.58,98.81 L1580.46,98.08 L1581.35,97.36 L1582.23,96.64 L1583.12,95.92 L1584.01,95.21 L1584.9,94.5 L1585.8,93.8 L1586.7,93.1 L1587.6,92.4 L1588.51,91.72 L1589.42,91.03 L1590.34,90.36 L1591.26,89.68 L1592.18,89.02 L1593.11,88.36 L1594.04,87.7 L1594.97,87.06 L1595.91,86.42 L1596.86,85.78 L1597.81,85.16 L1598.77,84.54 L1599.73,83.93 L1600.69,83.33 L1601.67,82.73 L1602.64,82.15 L1603.63,81.57 L1604.62,81 L1605.61,80.44 L1606.62,79.89 L1607.62,79.35 L1608.64,78.82 L1609.66,78.29 L1610.69,77.78 L1611.73,77.28 L1612.77,76.79 L1613.82,76.31 L1614.88,75.84 L1615.94,75.38 L1617.02,74.94 L1618.1,74.5" stroke="#ff0000" stroke-width="1.7" fill="none" stroke-linejoin="round" stroke-linecap="round"/>
<path d="M1553.06,122.13 L1554.83,121.58 L1556.58,121 L1558.32,120.39 L1560.05,119.77 L1561.78,119.13 L1563.49,118.47 L1565.2,117.79 L1566.89,117.09 L1568.58,116.37 L1570.27,115.64 L1571.94,114.89 L1573.61,114.13 L1575.27,113.35 L1576.93,112.56 L1578.58,111.75 L1580.22,110.94 L1581.86,110.11 L1583.5,109.27 L1585.13,108.42 L1586.75,107.57 L1588.38,106.7 L1590,105.83 L1591.61,104.95 L1593.23,104.06 L1594.84,103.17 L1596.45,102.28 L1598.06,101.38 L1599.66,100.48 L1601.27,99.57 L1602.88,98.66 L1604.48,97.76 L1606.09,96.85 L1607.69,95.94 L1609.3,95.04 L1610.91,94.14 L1612.52,93.24 L1614.13,92.34 L1615.75,91.45 L1617.36,90.56 L1618.98,89.68 L1620.6,88.81 L1622.23,87.94 L1623.86,87.08 L1625.5,86.23 L1627.14,85.39 L1628.78,84.56 L1630.43,83.74 L1632.09,82.93 L1633.75,82.14 L1635.42,81.36 L1637.09,80.59 L1638.77,79.84 L1640.46,79.11 L1642.16,78.39 L1643.87,77.68 L1645.58,77 L1647.3,76.33 L1649.04,75.69 L1650.78,75.06" stroke="#ff0000" stroke-width="1.7" fill="none" stroke-linejoin="round" stroke-linecap="round"/>
<path d="M1553.06,122.45 L1554.88,122.04 L1556.68,121.6 L1558.47,121.13 L1560.25,120.63 L1562.02,120.11 L1563.78,119.57 L1565.53,119 L1567.27,118.41 L1569.01,117.8 L1570.73,117.17 L1572.45,116.51 L1574.16,115.84 L1575.86,115.15 L1577.55,114.44 L1579.24,113.71 L1580.92,112.96 L1582.6,112.2 L1584.26,111.42 L1585.93,110.63 L1587.58,109.82 L1589.23,109 L1590.88,108.17 L1592.52,107.32 L1594.16,106.47 L1595.79,105.6 L1597.42,104.72 L1599.04,103.84 L1600.67,102.94 L1602.28,102.04 L1603.9,101.13 L1605.51,100.22 L1607.12,99.3 L1608.73,98.37 L1610.34,97.45 L1611.94,96.51 L1613.55,95.58 L1615.15,94.64 L1616.75,93.71 L1618.36,92.77 L1619.96,91.83 L1621.56,90.9 L1623.17,89.96 L1624.77,89.03 L1626.37,88.1 L1627.98,87.18 L1629.59,86.26 L1631.2,85.35 L1632.81,84.44 L1634.43,83.54 L1636.04,82.64 L1637.66,81.76 L1639.29,80.88 L1640.91,80.02 L1642.55,79.16 L1644.18,78.32 L1645.82,77.49 L1647.46,76.67 L1649.11,75.86 L1650.77,75.07" stroke="#ff0000" stroke-width="1.7" fill="none" stroke-linejoin="round" stroke-linecap="round"/>
<path d="M1262.8,387.47 L1262.86,386.24 L1262.94,385 L1263.02,383.77 L1263.1,382.54 L1263.19,381.31 L1263.29,380.09 L1263.39,378.86 L1263.5,377.64 L1263.61,376.42 L1263.73,375.21 L1263.86,373.99 L1263.99,372.78 L1264.12,371.57 L1264.27,370.36 L1264.41,369.16 L1264.57,367.95 L1264.73,366.75 L1264.89,365.55 L1265.06,364.36 L1265.24,363.16 L1265.42,361.97 L1265.6,360.78 L1265.8,359.59 L1265.99,358.41 L1266.2,357.23 L1266.41,356.05 L1266.62,354.87 L1266.84,353.69 L1267.07,352.52 L1267.3,351.34 L1267.53,350.17 L1267.77,349.01 L1268.02,347.84 L1268.27,346.68 L1268.53,345.52 L1268.79,344.36 L1269.06,343.2 L1269.33,342.05 L1269.61,340.9 L1269.89,339.75 L1270.18,338.6 L1270.47,337.45 L1270.77,336.31 L1271.08,335.17 L1271.38,334.03 L1271.7,332.9 L1272.02,331.76 L1272.34,330.63 L1272.67,329.5 L1273,328.37 L1273.34,327.25 L1273.69,326.12 L1274.04,325 L1274.39,323.88 L1274.75,322.77 L1275.11,321.65 L1275.48,320.54 L1275.85,319.43 L1276.23,318.32 L1276.61,317.22 L1277,316.11 L1277.4,315.01 L1277.79,313.91 L1278.19,312.82 L1278.6,311.72 L1279.01,310.63 L1279.43,309.54 L1279.85,308.45 L1280.28,307.37 L1280.71,306.28 L1281.14,305.2 L1281.58,304.12 L1282.02,303.04 L1282.47,301.97 L1282.93,300.9 L1283.38,299.83 L1283.85,298.76 L1284.31,297.69 L1284.78,296.63 L1285.26,295.57 L1285.74,294.51 L1286.23,293.45 L1286.71,292.39 L1287.21,291.34 L1287.71,290.29 L1288.21,289.24 L1288.71,288.2 L1289.22,287.15 L1289.74,286.11 L1290.26,285.07 L1290.78,284.03 L1291.31,283 L1291.84,281.96 L1292.38,280.93 L1292.92,279.9 L1293.46,278.88 L1294.01,277.85 L1294.57,276.83 L1295.12,275.81 L1295.68,274.79 L1296.25,273.77 L1296.82,272.76 L1297.39,271.75 L1297.97,270.74 L1298.55,269.73 L1299.13,268.73 L1299.72,267.72 L1300.32,266.72 L1300.91,265.72 L1301.52,264.73 L1302.12,263.73 L1302.73,262.74 L1303.34,261.75 L1303.96,260.76 L1304.58,259.78 L1305.2,258.79 L1305.83,257.81 L1306.46,256.83 L1307.1,255.85 L1307.74,254.88 L1308.38,253.91 L1309.03,252.93 L1309.68,251.97 L1310.33,251 L1310.99,250.04 L1311.65,249.07 L1312.31,248.11 L1312.98,247.16 L1313.65,246.2 L1314.33,245.25 L1315.01,244.29 L1315.69,243.34 L1316.38,242.4 L1317.07,241.45 L1317.76,240.51 L1318.45,239.57 L1319.15,238.63 L1319.86,237.69 L1320.56,236.76 L1321.27,235.83 L1321.99,234.9 L1322.7,233.97 L1323.42,233.04 L1324.15,232.12 L1324.87,231.2 L1325.6,230.28 L1326.34,229.36 L1327.07,228.45 L1327.81,227.53 L1328.55,226.62 L1329.3,225.71 L1330.05,224.81 L1330.8,223.9 L1331.56,223 L1332.31,222.1 L1333.08,221.2 L1333.84,220.3 L1334.61,219.41 L1335.38,218.52 L1336.15,217.63 L1336.93,216.74 L1337.71,215.86 L1338.49,214.97 L1339.27,214.09 L1340.06,213.21 L1340.85,212.33 L1341.65,211.46 L1342.44,210.59 L1343.24,209.72 L1344.05,208.85 L1344.85,207.98 L1345.66,207.12 L1346.47,206.25 L1347.28,205.39 L1348.1,204.54 L1348.92,203.68 L1349.74,202.83 L1350.56,201.97 L1351.39,201.12 L1352.22,200.28 L1353.05,199.43 L1353.89,198.59 L1354.72,197.75 L1355.56,196.91 L1356.41,196.07 L1357.25,195.24 L1358.1,194.4 L1358.95,193.57 L1359.8,192.74 L1360.66,191.92 L1361.51,191.09 L1362.37,190.27 L1363.24,189.45 L1364.1,188.63 L1364.97,187.82 L1365.84,187 L1366.71,186.19 L1367.58,185.38 L1368.46,184.57 L1369.34,183.77 L1370.22,182.96 L1371.1,182.16 L1371.98,181.36 L1372.87,180.56 L1373.76,179.77 L1374.65,178.97 L1375.55,178.18 L1376.44,177.39 L1377.34,176.61 L1378.24,175.82 L1379.14,175.04 L1380.05,174.26 L1380.95,173.48 L1381.86,172.7 L1382.77,171.93 L1383.68,171.16 L1384.6,170.39 L1385.51,169.62 L1386.43,168.85 L1387.35,168.09 L1388.27,167.32 L1389.2,166.56 L1390.12,165.81 L1391.05,165.05 L1391.98,164.3 L1392.91,163.54 L1393.84,162.79 L1394.78,162.05 L1395.72,161.3 L1396.65,160.56 L1397.59,159.82 L1398.53,159.08 L1399.48,158.34 L1400.42,157.6 L1401.37,156.87 L1402.32,156.14 L1403.27,155.41 L1404.22,154.68 L1405.17,153.96 L1406.12,153.23 L1407.08,152.51 L1408.04,151.79 L1409,151.08 L1409.96,150.36 L1410.92,149.65 L1411.88,148.94 L1412.85,148.23 L1413.81,147.52 L1414.78,146.82 L1415.75,146.12 L1416.72,145.42 L1417.69,144.72 L1418.66,144.02 L1419.63,143.33 L1420.61,142.63 L1421.59,141.94 L1422.56,141.26 L1423.54,140.57 L1424.52,139.88 L1425.5,139.2 L1426.49,138.52 L1427.47,137.84 L1428.45,137.17 L1429.44,136.49 L1430.43,135.82 L1431.42,135.15 L1432.4,134.48 L1433.39,133.82 L1434.38,133.15 L1435.38,132.49 L1436.37,131.83 L1437.36,131.17 L1438.36,130.52 L1439.35,129.86 L1440.35,129.21 L1441.35,128.56 L1442.35,127.92 L1443.35,127.27 L1444.35,126.63 L1445.35,125.98 L1446.35,125.34 L1447.35,124.71 L1448.35,124.07 L1449.36,123.44 L1450.36,122.81 L1451.37,122.18 L1452.37,121.55 L1453.38,120.92 L1454.39,120.3 L1455.4,119.68 L1456.4,119.06 L1457.41,118.44 L1458.42,117.82 L1459.43,117.21 L1460.44,116.6 L1461.46,115.99 L1462.47,115.38 L1463.48,114.78 L1464.49,114.17 L1465.51,113.57 L1466.52,112.97 L1467.53,112.37 L1468.55,111.78 L1469.56,111.19 L1470.58,110.59 L1471.59,110 L1472.61,109.42 L1473.63,108.83 L1474.64,108.25 L1475.66,107.67 L1476.68,107.09 L1477.69,106.51 L1478.71,105.93 L1479.73,105.36 L1480.75,104.79 L1481.76,104.22 L1482.78,103.65 L1483.8,103.08 L1484.82,102.52 L1485.84,101.96 L1486.86,101.4 L1487.87,100.84 L1488.89,100.29 L1489.91,99.73 L1490.93,99.18 L1491.95,98.63 L1492.97,98.08 L1493.98,97.54 L1495,96.99 L1496.02,96.45 L1497.04,95.91 L1498.06,95.37 L1499.07,94.84 L1500.09,94.3 L1501.11,93.77 L1502.13,93.24 L1503.14,92.71 L1504.16,92.19 L1505.18,91.66 L1506.19,91.14 L1507.21,90.62 L1508.22,90.1 L1509.24,89.59 L1510.25,89.07 L1511.27,88.56 L1512.28,88.05 L1513.3,87.54 L1514.31,87.03 L1515.32,86.53 L1516.33,86.03 L1517.34,85.53 L1518.36,85.03 L1519.37,84.53 L1520.38,84.04 L1521.39,83.54 L1522.4,83.05 L1523.4,82.56 L1524.41,82.08 L1525.42,81.59" stroke="#000" stroke-width="4.5" fill="none" stroke-linejoin="round" stroke-linecap="butt"/>
<path d="M1416.91,387.73 L1416.67,386.57 L1416.45,385.42 L1416.25,384.27 L1416.07,383.13 L1415.92,382 L1415.78,380.87 L1415.67,379.74 L1415.58,378.62 L1415.51,377.51 L1415.45,376.41 L1415.42,375.31 L1415.41,374.22 L1415.42,373.13 L1415.45,372.05 L1415.5,370.98 L1415.57,369.92 L1415.66,368.86 L1415.76,367.81 L1415.89,366.77 L1416.04,365.74 L1416.2,364.72 L1416.38,363.7 L1416.58,362.7 L1416.8,361.7 L1417.04,360.71 L1417.3,359.73 L1417.57,358.76 L1417.86,357.8 L1418.17,356.85 L1418.5,355.9 L1418.85,354.97 L1419.21,354.05 L1419.59,353.14 L1419.98,352.24 L1420.39,351.34 L1420.82,350.46 L1421.27,349.59 L1421.73,348.74 L1422.21,347.89 L1422.7,347.05 L1423.21,346.23 L1423.73,345.41 L1424.27,344.61 L1424.83,343.82 L1425.4,343.05 L1425.99,342.28 L1426.59,341.53 L1427.2,340.79 L1427.83,340.06 L1428.47,339.34 L1429.13,338.63 L1429.8,337.94 L1430.48,337.25 L1431.18,336.58 L1431.89,335.92 L1432.61,335.27 L1433.34,334.63 L1434.08,334.01 L1434.84,333.39 L1435.6,332.79 L1436.38,332.19 L1437.17,331.61 L1437.97,331.04 L1438.77,330.48 L1439.59,329.93 L1440.42,329.39 L1441.26,328.86 L1442.1,328.34 L1442.95,327.83 L1443.82,327.33 L1444.69,326.84 L1445.57,326.37 L1446.45,325.9 L1447.34,325.44 L1448.24,324.99 L1449.15,324.56 L1450.07,324.13 L1450.98,323.71 L1451.91,323.3 L1452.84,322.9 L1453.78,322.52 L1454.72,322.14 L1455.67,321.77 L1456.62,321.4 L1457.57,321.05 L1458.53,320.71 L1459.5,320.38 L1460.46,320.05 L1461.43,319.74 L1462.41,319.43 L1463.38,319.13 L1464.36,318.85 L1465.34,318.57 L1466.32,318.3 L1467.31,318.03 L1468.29,317.78 L1469.28,317.53 L1470.26,317.3 L1471.25,317.07 L1472.24,316.85 L1473.23,316.63 L1474.22,316.43 L1475.21,316.23 L1476.21,316.04 L1477.2,315.86 L1478.19,315.69 L1479.19,315.52 L1480.19,315.36 L1481.18,315.21 L1482.18,315.07 L1483.18,314.93 L1484.18,314.8 L1485.18,314.67 L1486.18,314.56 L1487.18,314.45 L1488.18,314.35 L1489.19,314.25 L1490.19,314.16 L1491.2,314.08 L1492.2,314 L1493.21,313.93 L1494.21,313.86 L1495.22,313.8 L1496.23,313.75 L1497.24,313.7 L1498.25,313.66 L1499.25,313.62 L1500.26,313.59 L1501.28,313.57 L1502.29,313.55 L1503.3,313.53 L1504.31,313.52 L1505.32,313.52 L1506.33,313.52 L1507.35,313.52 L1508.36,313.53 L1509.38,313.55 L1510.39,313.57 L1511.4,313.59 L1512.42,313.62 L1513.44,313.65 L1514.45,313.69 L1515.47,313.73 L1516.48,313.77 L1517.5,313.82 L1518.52,313.87 L1519.53,313.93 L1520.55,313.99 L1521.57,314.05 L1522.59,314.11 L1523.61,314.18 L1524.62,314.26 L1525.64,314.33 L1526.66,314.41 L1527.68,314.49 L1528.7,314.58 L1529.72,314.67 L1530.74,314.76 L1531.75,314.85 L1532.77,314.94 L1533.79,315.04 L1534.81,315.14 L1535.83,315.24 L1536.85,315.35 L1537.87,315.45 L1538.89,315.56 L1539.91,315.67 L1540.93,315.78 L1541.94,315.89 L1542.96,316.01 L1543.98,316.13 L1545,316.24 L1546.02,316.36 L1547.04,316.48 L1548.05,316.6 L1549.07,316.72 L1550.09,316.85 L1551.11,316.97 L1552.12,317.09 L1553.14,317.22 L1554.16,317.34 L1555.17,317.47 L1556.19,317.59 L1557.2,317.72 L1558.22,317.84 L1559.23,317.97 L1560.25,318.1 L1561.26,318.22 L1562.28,318.35 L1563.29,318.47 L1564.3,318.6 L1565.31,318.72 L1566.33,318.84 L1567.34,318.96 L1568.35,319.09 L1569.36,319.21 L1570.37,319.33 L1571.38,319.44 L1572.39,319.56 L1573.39,319.68 L1574.4,319.79 L1575.41,319.9 L1576.42,320.02 L1577.42,320.13 L1578.43,320.23 L1579.43,320.34 L1580.43,320.44 L1581.44,320.54 L1582.44,320.64 L1583.44,320.74 L1584.44,320.84 L1585.44,320.93 L1586.44,321.02 L1587.44,321.1 L1588.44,321.19 L1589.43,321.27 L1590.43,321.35 L1591.43,321.42 L1592.42,321.5 L1593.41,321.57 L1594.41,321.63 L1595.4,321.69 L1596.39,321.75 L1597.38,321.81 L1598.37,321.86 L1599.36,321.91 L1600.34,321.95 L1601.33,321.99 L1602.31,322.02 L1603.3,322.06 L1604.28,322.08 L1605.26,322.11 L1606.24,322.12 L1607.22,322.14 L1608.2,322.15 L1609.18,322.15 L1610.15,322.15 L1611.13,322.15 L1612.1,322.13" stroke="#000" stroke-width="4.5" fill="none" stroke-linejoin="round" stroke-linecap="butt"/>
<path d="M1552.26,120.05 L1552.84,119.15 L1553.44,118.27 L1554.05,117.4 L1554.67,116.54 L1555.31,115.7 L1555.95,114.87 L1556.61,114.05 L1557.28,113.25 L1557.97,112.46 L1558.66,111.67 L1559.37,110.9 L1560.08,110.15 L1560.81,109.4 L1561.54,108.66 L1562.29,107.93 L1563.05,107.22 L1563.82,106.51 L1564.59,105.81 L1565.38,105.13 L1566.17,104.45 L1566.97,103.78 L1567.78,103.12 L1568.6,102.47 L1569.43,101.82 L1570.26,101.19 L1571.1,100.56 L1571.95,99.94 L1572.81,99.33 L1573.67,98.72 L1574.54,98.13 L1575.41,97.53 L1576.29,96.95 L1577.18,96.37 L1578.07,95.8 L1578.97,95.23 L1579.87,94.67 L1580.77,94.11 L1581.68,93.56 L1582.6,93.01 L1583.52,92.46 L1584.44,91.93 L1585.36,91.39 L1586.29,90.86 L1587.22,90.33 L1588.16,89.81 L1589.09,89.28 L1590.03,88.76 L1590.97,88.25 L1591.92,87.73 L1592.86,87.22 L1593.8,86.71 L1594.75,86.2 L1595.69,85.69 L1596.64,85.19 L1597.59,84.68 L1598.53,84.18 L1599.48,83.67 L1600.43,83.17 L1601.37,82.66 L1602.31,82.15 L1603.26,81.65 L1604.2,81.14 L1605.14,80.63 L1606.07,80.12 L1607.01,79.61 L1607.94,79.1 L1608.87,78.58 L1609.79,78.06 L1610.72,77.54 L1611.64,77.02 L1612.55,76.49 L1613.46,75.96 L1614.37,75.43 L1615.27,74.89 L1616.17,74.35 L1617.06,73.81 L1617.95,73.26 L1618.83,72.7 L1619.7,72.14 L1620.57,71.58 L1621.44,71.01 L1622.29,70.43 L1623.14,69.85" stroke="#000" stroke-width="4.5" fill="none" stroke-linejoin="round" stroke-linecap="butt"/>
</g>
<path d="M1341.16,385 v-5.5 M1341.16,45 v5.5 M1511.48,385 v-5.5 M1511.48,45 v5.5 M1681.8,385 v-5.5 M1681.8,45 v5.5 M1256,385 h5.5 M1681.8,385 h-5.5 M1256,328.33 h5.5 M1681.8,328.33 h-5.5 M1256,271.67 h5.5 M1681.8,271.67 h-5.5 M1256,215 h5.5 M1681.8,215 h-5.5 M1256,158.33 h5.5 M1681.8,158.33 h-5.5 M1256,101.67 h5.5 M1681.8,101.67 h-5.5 M1256,45 h5.5 M1681.8,45 h-5.5 " stroke="#262626" stroke-width="1.8" fill="none"/>
<rect x="1256" y="45" width="425.8" height="340" fill="none" stroke="#262626" stroke-width="2.3" stroke-linejoin="miter"/>
<text x="1245.3" y="396.6" style="font-size:32.5px;" text-anchor="end" fill="#262626">0</text>
<text x="1245.3" y="339.93" style="font-size:32.5px;" text-anchor="end" fill="#262626">0.02</text>
<text x="1245.3" y="283.27" style="font-size:32.5px;" text-anchor="end" fill="#262626">0.04</text>
<text x="1245.3" y="226.6" style="font-size:32.5px;" text-anchor="end" fill="#262626">0.06</text>
<text x="1245.3" y="169.93" style="font-size:32.5px;" text-anchor="end" fill="#262626">0.08</text>
<text x="1245.3" y="113.27" style="font-size:32.5px;" text-anchor="end" fill="#262626">0.1</text>
<text x="1342.16" y="426.3" style="font-size:32.5px;" text-anchor="middle" fill="#262626">1</text>
<text x="1512.48" y="426.3" style="font-size:32.5px;" text-anchor="middle" fill="#262626">1.02</text>
<text x="1682.8" y="426.3" style="font-size:32.5px;" text-anchor="middle" fill="#262626">1.04</text>
<text x="0" y="0" transform="translate(1176.3,385.06) rotate(-90)" style="font-size:36.8px" fill="#262626">Normalized Amplitude</text>
<text x="1433.17" y="468.2" style="font-size:34px;font-style:italic;" fill="#262626">ω</text>
<text x="1456.8" y="468.2" style="font-size:34px;" fill="#262626">/</text>
<text x="1466.07" y="468.2" style="font-size:34px;font-style:italic;" fill="#262626">ω</text>
<text x="1489.16" y="486.4" style="font-size:30px;" fill="#262626">0</text>
<rect x="1257.5" y="59.2" width="195.3" height="84.6" fill="#fff" stroke="#262626" stroke-width="2.6"/>
<path d="M1266.5,81.6 H1316" stroke="#000" stroke-width="3.6"/>
<path d="M1266.5,121.3 H1316" stroke="#d90000" stroke-width="3.2"/>
<text x="1320.23" y="93.9" style="font-size:35.5px;" fill="#000" transform="translate(0,93.9) scale(1,0.95) translate(0,-93.9)">Stable</text>
<text x="1320.65" y="134" style="font-size:35.5px;" fill="#000" transform="translate(0,134) scale(1,0.95) translate(0,-134)">Unstable</text>
<rect x="1475.1" y="122" width="56.6" height="41.6" fill="none" stroke="#000" stroke-width="2" stroke-linejoin="round"/>
<text x="1479.27" y="153.1" style="font-size:32px;font-style:italic">P</text>
<text x="1495.18" y="159.4" transform="translate(1496.1,0) scale(1.3,1) translate(-1496.1,0)" style="font-size:21px" stroke="#000" stroke-width="0.25">2</text>
<text x="1507.7" y="159.4" transform="translate(1508.5,0) scale(1.0,1) translate(-1508.5,0)" style="font-size:21px" stroke="#000" stroke-width="0.25">,</text>
<text x="1512.95" y="159.4" transform="translate(1514.8,0) scale(1.3,1) translate(-1514.8,0)" style="font-size:21px" stroke="#000" stroke-width="0.25">1</text>
<rect x="1615.7" y="108.6" width="57.1" height="40.4" fill="none" stroke="#000" stroke-width="2" stroke-linejoin="round"/>
<text x="1619.87" y="139.7" style="font-size:32px;font-style:italic">P</text>
<text x="1635.78" y="146" transform="translate(1636.7,0) scale(1.3,1) translate(-1636.7,0)" style="font-size:21px" stroke="#000" stroke-width="0.25">2</text>
<text x="1648.3" y="146" transform="translate(1649.1,0) scale(1.0,1) translate(-1649.1,0)" style="font-size:21px" stroke="#000" stroke-width="0.25">,</text>
<text x="1654.48" y="146" transform="translate(1655.4,0) scale(1.3,1) translate(-1655.4,0)" style="font-size:21px" stroke="#000" stroke-width="0.25">2</text>
<rect x="1560.3" y="265.8" width="57" height="40.7" fill="none" stroke="#000" stroke-width="2" stroke-linejoin="round"/>
<text x="1564.47" y="296.9" style="font-size:32px;font-style:italic">P</text>
<text x="1580.38" y="303.2" transform="translate(1581.3,0) scale(1.3,1) translate(-1581.3,0)" style="font-size:21px" stroke="#000" stroke-width="0.25">2</text>
<text x="1592.9" y="303.2" transform="translate(1593.7,0) scale(1.0,1) translate(-1593.7,0)" style="font-size:21px" stroke="#000" stroke-width="0.25">,</text>
<text x="1599.59" y="303.2" transform="translate(1600,0) scale(1.3,1) translate(-1600,0)" style="font-size:21px" stroke="#000" stroke-width="0.25">4</text>
<circle cx="1525.9" cy="82.7" r="11.6" fill="none" stroke="#000" stroke-width="1.9"/>
<circle cx="1627.2" cy="68.1" r="11.8" fill="none" stroke="#000" stroke-width="1.9"/>
<ellipse cx="1612" cy="322" rx="11.2" ry="12.8" fill="none" stroke="#000" stroke-width="1.9"/>
<circle cx="1552.1" cy="119.4" r="9.7" fill="none" stroke="#ffbf00" stroke-width="2.7"/>
<path d="M1552.4,129.2 L1562.25,196.13" stroke="#ffbf00" stroke-width="1.7" fill="none"/>
<path d="M1564,208 L1555.73,196.08 L1568.49,194.2 Z" fill="#ffbf00"/>
<path d="M1490.9,209.7 H1639.5" stroke="#ff0000" stroke-width="3" fill="none" stroke-dasharray="13.3 11"/>
<path d="M1488.9,245 H1639.5" stroke="#ff0000" stroke-width="3" fill="none" stroke-dasharray="13.3 11"/>
<path d="M1638,208.2 V246.5" stroke="#ff0000" stroke-width="3" fill="none" stroke-dasharray="13.3 11"/>
<path d="M1490.4,220.7 V234 " stroke="#ff0000" stroke-width="3" fill="none"/>
<text x="1512.25" y="236.6" style="font-size:27.7px;" fill="#000">SN Point</text>
<text x="1191.8" y="45.6" style="font-size:50px;" fill="#000">(c)</text>
<text x="1349.47" y="27.3" style="font-size:38px;font-style:italic;" fill="#000">a</text>
<text x="1371.91" y="27.3" transform="translate(1373.8,14.68) scale(1.16,0.72) translate(-1373.8,-14.68)" style="font-size:38px;">=</text>
<text x="1396.15" y="27.3" style="font-size:38px;" fill="#000">0</text>
<text x="1415.5" y="27.3" style="font-size:38px;" fill="#000">.</text>
<text x="1424.89" y="27.3" style="font-size:38px;" fill="#000">5</text>
<text x="1444.48" y="27.3" style="font-size:38px;font-style:italic;" fill="#000">g</text>
<text x="1474.51" y="27.3" style="font-size:38px;" fill="#000">Beam2</text>
<clipPath id="cd"><rect x="108" y="498.6" width="427.3" height="340.6"/></clipPath>
<g clip-path="url(#cd)">
<path d="M108,627.34 L108.85,623.48 L109.71,619.66 L110.56,615.91 L111.42,612.21 L112.27,608.57 L113.13,605 L113.98,601.5 L114.84,598.07 L115.69,594.71 L116.55,591.44 L117.4,588.25 L118.26,585.15 L119.11,582.15 L119.96,579.23 L120.82,576.41 L121.67,573.7 L122.53,571.08 L123.38,568.58 L124.24,566.18 L125.09,563.89 L125.95,561.72 L126.8,559.67 L127.66,557.73 L128.51,555.92 L129.36,554.22 L130.22,552.65 L131.07,551.21 L131.93,549.9 L132.78,548.71 L133.64,547.66 L134.49,546.74 L135.35,545.95 L136.2,545.29 L137.06,544.77 L137.91,544.39 L138.77,544.14 L139.62,544.02 L140.47,544.04 L141.33,544.2 L142.18,544.49 L143.04,544.92 L143.89,545.48 L144.75,546.18 L145.6,547.01 L146.46,547.97 L147.31,549.06 L148.17,550.29 L149.02,551.64 L149.88,553.12 L150.73,554.73 L151.58,556.46 L152.44,558.31 L153.29,560.28 L154.15,562.37 L155,564.58 L155.86,566.9 L156.71,569.33 L157.57,571.87 L158.42,574.51 L159.28,577.26 L160.13,580.11 L160.99,583.05 L161.84,586.09 L162.69,589.22 L163.55,592.43 L164.4,595.73 L165.26,599.1 L166.11,602.56 L166.97,606.08 L167.82,609.67 L168.68,613.33 L169.53,617.05 L170.39,620.82 L171.24,624.65 L172.1,628.52 L172.95,632.44 L173.8,636.4 L174.66,640.39 L175.51,644.41 L176.37,648.46 L177.22,652.54 L178.08,656.63 L178.93,660.73 L179.79,664.85 L180.64,668.96 L181.5,673.08 L182.35,677.19 L183.2,681.3 L184.06,685.39 L184.91,689.46 L185.77,693.51 L186.62,697.53 L187.48,701.52 L188.33,705.48 L189.19,709.4 L190.04,713.27 L190.9,717.09 L191.75,720.87 L192.61,724.58 L193.46,728.24 L194.31,731.83 L195.17,735.35 L196.02,738.8 L196.88,742.17 L197.73,745.47 L198.59,748.68 L199.44,751.8 L200.3,754.84 L201.15,757.78 L202.01,760.62 L202.86,763.37 L203.72,766.01 L204.57,768.55 L205.42,770.97 L206.28,773.29 L207.13,775.49 L207.99,777.58 L208.84,779.55 L209.7,781.4 L210.55,783.13 L211.41,784.73 L212.26,786.2 L213.12,787.55 L213.97,788.77 L214.82,789.86 L215.68,790.82 L216.53,791.65 L217.39,792.34 L218.24,792.9 L219.1,793.32 L219.95,793.61 L220.81,793.76 L221.66,793.78 L222.52,793.66 L223.37,793.4 L224.23,793.01 L225.08,792.49 L225.93,791.83 L226.79,791.03 L227.64,790.11 L228.5,789.05 L229.35,787.86 L230.21,786.55 L231.06,785.1 L231.92,783.53 L232.77,781.83 L233.63,780.01 L234.48,778.07 L235.34,776.01 L236.19,773.84 L237.04,771.55 L237.9,769.15 L238.75,766.64 L239.61,764.02 L240.46,761.3 L241.32,758.48 L242.17,755.56 L243.03,752.55 L243.88,749.45 L244.74,746.26 L245.59,742.99 L246.45,739.63 L247.3,736.2 L248.15,732.69 L249.01,729.12 L249.86,725.48 L250.72,721.78 L251.57,718.02 L252.43,714.21 L253.28,710.35 L254.14,706.44 L254.99,702.49 L255.85,698.51 L256.7,694.49 L257.56,690.45 L258.41,686.38 L259.26,682.3 L260.12,678.19 L260.97,674.08 L261.83,669.97 L262.68,665.85 L263.54,661.74 L264.39,657.63 L265.25,653.53 L266.1,649.46 L266.96,645.4 L267.81,641.37 L268.66,637.37 L269.52,633.4 L270.37,629.47 L271.23,625.59 L272.08,621.75 L272.94,617.96 L273.79,614.23 L274.65,610.56 L275.5,606.95 L276.36,603.41 L277.21,599.94 L278.07,596.54 L278.92,593.23 L279.77,589.99 L280.63,586.84 L281.48,583.79 L282.34,580.82 L283.19,577.95 L284.05,575.18 L284.9,572.51 L285.76,569.94 L286.61,567.48 L287.47,565.13 L288.32,562.9 L289.18,560.78 L290.03,558.78 L290.88,556.9 L291.74,555.14 L292.59,553.5 L293.45,551.99 L294.3,550.6 L295.16,549.35 L296.01,548.22 L296.87,547.23 L297.72,546.37 L298.58,545.64 L299.43,545.04 L300.28,544.58 L301.14,544.26 L301.99,544.07 L302.85,544.01 L303.7,544.1 L304.56,544.31 L305.41,544.67 L306.27,545.15 L307.12,545.78 L307.98,546.53 L308.83,547.42 L309.69,548.45 L310.54,549.6 L311.39,550.88 L312.25,552.29 L313.1,553.83 L313.96,555.49 L314.81,557.28 L315.67,559.18 L316.52,561.21 L317.38,563.35 L318.23,565.61 L319.09,567.98 L319.94,570.46 L320.8,573.05 L321.65,575.74 L322.5,578.53 L323.36,581.43 L324.21,584.41 L325.07,587.49 L325.92,590.66 L326.78,593.91 L327.63,597.24 L328.49,600.65 L329.34,604.14 L330.2,607.69 L331.05,611.32 L331.91,615 L332.76,618.74 L333.61,622.54 L334.47,626.39 L335.32,630.28 L336.18,634.22 L337.03,638.19 L337.89,642.2 L338.74,646.24 L339.6,650.3 L340.45,654.38 L341.31,658.48 L342.16,662.59 L343.01,666.7 L343.87,670.82 L344.72,674.94 L345.58,679.05 L346.43,683.14 L347.29,687.23 L348.14,691.29 L349,695.33 L349.85,699.34 L350.71,703.31 L351.56,707.25 L352.42,711.15 L353.27,715 L354.12,718.8 L354.98,722.55 L355.83,726.24 L356.69,729.87 L357.54,733.43 L358.4,736.92 L359.25,740.33 L360.11,743.67 L360.96,746.93 L361.82,750.1 L362.67,753.18 L363.53,756.18 L364.38,759.07 L365.23,761.87 L366.09,764.57 L366.94,767.17 L367.8,769.65 L368.65,772.03 L369.51,774.3 L370.36,776.45 L371.22,778.48 L372.07,780.4 L372.93,782.19 L373.78,783.86 L374.64,785.41 L375.49,786.83 L376.34,788.12 L377.2,789.28 L378.05,790.31 L378.91,791.21 L379.76,791.98 L380.62,792.61 L381.47,793.1 L382.33,793.47 L383.18,793.69 L384.04,793.78 L384.89,793.74 L385.74,793.56 L386.6,793.24 L387.45,792.79 L388.31,792.21 L389.16,791.49 L390.02,790.63 L390.87,789.65 L391.73,788.53 L392.58,787.28 L393.44,785.91 L394.29,784.41 L395.15,782.78 L396,781.03 L396.85,779.15 L397.71,777.16 L398.56,775.05 L399.42,772.82 L400.27,770.48 L401.13,768.03 L401.98,765.47 L402.84,762.81 L403.69,760.04 L404.55,757.18 L405.4,754.22 L406.26,751.16 L407.11,748.02 L407.96,744.79 L408.82,741.48 L409.67,738.09 L410.53,734.63 L411.38,731.09 L412.24,727.49 L413.09,723.82 L413.95,720.09 L414.8,716.31 L415.66,712.47 L416.51,708.59 L417.37,704.66 L418.22,700.7 L419.07,696.7 L419.93,692.67 L420.78,688.62 L421.64,684.54 L422.49,680.45 L423.35,676.34 L424.2,672.23 L425.06,668.11 L425.91,663.99 L426.77,659.88 L427.62,655.78 L428.48,651.69 L429.33,647.62 L430.18,643.58 L431.04,639.56 L431.89,635.57 L432.75,631.62 L433.6,627.71 L434.46,623.85 L435.31,620.03 L436.17,616.27 L437.02,612.57 L437.88,608.92 L438.73,605.34 L439.58,601.83 L440.44,598.4 L441.29,595.04 L442.15,591.76 L443,588.56 L443.86,585.45 L444.71,582.43 L445.57,579.51 L446.42,576.68 L447.28,573.96 L448.13,571.33 L448.99,568.82 L449.84,566.41 L450.69,564.11 L451.55,561.93 L452.4,559.86 L453.26,557.91 L454.11,556.09 L454.97,554.38 L455.82,552.8 L456.68,551.35 L457.53,550.02 L458.39,548.82 L459.24,547.76 L460.1,546.82 L460.95,546.02 L461.8,545.35 L462.66,544.82 L463.51,544.42 L464.37,544.16 L465.22,544.03 L466.08,544.03 L466.93,544.18 L467.79,544.46 L468.64,544.87 L469.5,545.42 L470.35,546.1 L471.2,546.92 L472.06,547.87 L472.91,548.95 L473.77,550.16 L474.62,551.5 L475.48,552.97 L476.33,554.56 L477.19,556.28 L478.04,558.12 L478.9,560.08 L479.75,562.16 L480.61,564.36 L481.46,566.67 L482.31,569.09 L483.17,571.62 L484.02,574.25 L484.88,576.99 L485.73,579.83 L486.59,582.76 L487.44,585.79 L488.3,588.91 L489.15,592.11 L490.01,595.4 L490.86,598.77 L491.72,602.22 L492.57,605.73 L493.42,609.32 L494.28,612.97 L495.13,616.68 L495.99,620.45 L496.84,624.27 L497.7,628.14 L498.55,632.06 L499.41,636.01 L500.26,640 L501.12,644.02 L501.97,648.07 L502.83,652.14 L503.68,656.23 L504.53,660.33 L505.39,664.44 L506.24,668.56 L507.1,672.68 L507.95,676.79 L508.81,680.9 L509.66,684.99 L510.52,689.06 L511.37,693.11 L512.23,697.14 L513.08,701.14 L513.93,705.1 L514.79,709.02 L515.64,712.89 L516.5,716.72 L517.35,720.5 L518.21,724.22 L519.06,727.88 L519.92,731.48 L520.77,735.01 L521.63,738.47 L522.48,741.85 L523.34,745.15 L524.19,748.37 L525.04,751.5 L525.9,754.55 L526.75,757.5 L527.61,760.35 L528.46,763.1 L529.32,765.76 L530.17,768.3 L531.03,770.74 L531.88,773.07 L532.74,775.28 L533.59,777.38 L534.45,779.36 L535.3,781.22" stroke="#f42a2e" stroke-width="3.5" fill="none" stroke-linejoin="round" stroke-linecap="round"/>
<path d="M108,627.34 L108.85,623.48 L109.71,619.66 L110.56,615.91 L111.42,612.21 L112.27,608.57 L113.13,605 L113.98,601.5 L114.84,598.07 L115.69,594.71 L116.55,591.44 L117.4,588.25 L118.26,585.15 L119.11,582.15 L119.96,579.23 L120.82,576.41 L121.67,573.7 L122.53,571.08 L123.38,568.58 L124.24,566.18 L125.09,563.89 L125.95,561.72 L126.8,559.67 L127.66,557.73 L128.51,555.92 L129.36,554.22 L130.22,552.65 L131.07,551.21 L131.93,549.9 L132.78,548.71 L133.64,547.66 L134.49,546.74 L135.35,545.95 L136.2,545.29 L137.06,544.77 L137.91,544.39 L138.77,544.14 L139.62,544.02 L140.47,544.04 L141.33,544.2 L142.18,544.49 L143.04,544.92 L143.89,545.48 L144.75,546.18 L145.6,547.01 L146.46,547.97 L147.31,549.06 L148.17,550.29 L149.02,551.64 L149.88,553.12 L150.73,554.73 L151.58,556.46 L152.44,558.31 L153.29,560.28 L154.15,562.37 L155,564.58 L155.86,566.9 L156.71,569.33 L157.57,571.87 L158.42,574.51 L159.28,577.26 L160.13,580.11 L160.99,583.05 L161.84,586.09 L162.69,589.22 L163.55,592.43 L164.4,595.73 L165.26,599.1 L166.11,602.56 L166.97,606.08 L167.82,609.67 L168.68,613.33 L169.53,617.05 L170.39,620.82 L171.24,624.65 L172.1,628.52 L172.95,632.44 L173.8,636.4 L174.66,640.39 L175.51,644.41 L176.37,648.46 L177.22,652.54 L178.08,656.63 L178.93,660.73 L179.79,664.85 L180.64,668.96 L181.5,673.08 L182.35,677.19 L183.2,681.3 L184.06,685.39 L184.91,689.46 L185.77,693.51 L186.62,697.53 L187.48,701.52 L188.33,705.48 L189.19,709.4 L190.04,713.27 L190.9,717.09 L191.75,720.87 L192.61,724.58 L193.46,728.24 L194.31,731.83 L195.17,735.35 L196.02,738.8 L196.88,742.17 L197.73,745.47 L198.59,748.68 L199.44,751.8 L200.3,754.84 L201.15,757.78 L202.01,760.62 L202.86,763.37 L203.72,766.01 L204.57,768.55 L205.42,770.97 L206.28,773.29 L207.13,775.49 L207.99,777.58 L208.84,779.55 L209.7,781.4 L210.55,783.13 L211.41,784.73 L212.26,786.2 L213.12,787.55 L213.97,788.77 L214.82,789.86 L215.68,790.82 L216.53,791.65 L217.39,792.34 L218.24,792.9 L219.1,793.32 L219.95,793.61 L220.81,793.76 L221.66,793.78 L222.52,793.66 L223.37,793.4 L224.23,793.01 L225.08,792.49 L225.93,791.83 L226.79,791.03 L227.64,790.11 L228.5,789.05 L229.35,787.86 L230.21,786.55 L231.06,785.1 L231.92,783.53 L232.77,781.83 L233.63,780.01 L234.48,778.07 L235.34,776.01 L236.19,773.84 L237.04,771.55 L237.9,769.15 L238.75,766.64 L239.61,764.02 L240.46,761.3 L241.32,758.48 L242.17,755.56 L243.03,752.55 L243.88,749.45 L244.74,746.26 L245.59,742.99 L246.45,739.63 L247.3,736.2 L248.15,732.69 L249.01,729.12 L249.86,725.48 L250.72,721.78 L251.57,718.02 L252.43,714.21 L253.28,710.35 L254.14,706.44 L254.99,702.49 L255.85,698.51 L256.7,694.49 L257.56,690.45 L258.41,686.38 L259.26,682.3 L260.12,678.19 L260.97,674.08 L261.83,669.97 L262.68,665.85 L263.54,661.74 L264.39,657.63 L265.25,653.53 L266.1,649.46 L266.96,645.4 L267.81,641.37 L268.66,637.37 L269.52,633.4 L270.37,629.47 L271.23,625.59 L272.08,621.75 L272.94,617.96 L273.79,614.23 L274.65,610.56 L275.5,606.95 L276.36,603.41 L277.21,599.94 L278.07,596.54 L278.92,593.23 L279.77,589.99 L280.63,586.84 L281.48,583.79 L282.34,580.82 L283.19,577.95 L284.05,575.18 L284.9,572.51 L285.76,569.94 L286.61,567.48 L287.47,565.13 L288.32,562.9 L289.18,560.78 L290.03,558.78 L290.88,556.9 L291.74,555.14 L292.59,553.5 L293.45,551.99 L294.3,550.6 L295.16,549.35 L296.01,548.22 L296.87,547.23 L297.72,546.37 L298.58,545.64 L299.43,545.04 L300.28,544.58 L301.14,544.26 L301.99,544.07 L302.85,544.01 L303.7,544.1 L304.56,544.31 L305.41,544.67 L306.27,545.15 L307.12,545.78 L307.98,546.53 L308.83,547.42 L309.69,548.45 L310.54,549.6 L311.39,550.88 L312.25,552.29 L313.1,553.83 L313.96,555.49 L314.81,557.28 L315.67,559.18 L316.52,561.21 L317.38,563.35 L318.23,565.61 L319.09,567.98 L319.94,570.46 L320.8,573.05 L321.65,575.74 L322.5,578.53 L323.36,581.43 L324.21,584.41 L325.07,587.49 L325.92,590.66 L326.78,593.91 L327.63,597.24 L328.49,600.65 L329.34,604.14 L330.2,607.69 L331.05,611.32 L331.91,615 L332.76,618.74 L333.61,622.54 L334.47,626.39 L335.32,630.28 L336.18,634.22 L337.03,638.19 L337.89,642.2 L338.74,646.24 L339.6,650.3 L340.45,654.38 L341.31,658.48 L342.16,662.59 L343.01,666.7 L343.87,670.82 L344.72,674.94 L345.58,679.05 L346.43,683.14 L347.29,687.23 L348.14,691.29 L349,695.33 L349.85,699.34 L350.71,703.31 L351.56,707.25 L352.42,711.15 L353.27,715 L354.12,718.8 L354.98,722.55 L355.83,726.24 L356.69,729.87 L357.54,733.43 L358.4,736.92 L359.25,740.33 L360.11,743.67 L360.96,746.93 L361.82,750.1 L362.67,753.18 L363.53,756.18 L364.38,759.07 L365.23,761.87 L366.09,764.57 L366.94,767.17 L367.8,769.65 L368.65,772.03 L369.51,774.3 L370.36,776.45 L371.22,778.48 L372.07,780.4 L372.93,782.19 L373.78,783.86 L374.64,785.41 L375.49,786.83 L376.34,788.12 L377.2,789.28 L378.05,790.31 L378.91,791.21 L379.76,791.98 L380.62,792.61 L381.47,793.1 L382.33,793.47 L383.18,793.69 L384.04,793.78 L384.89,793.74 L385.74,793.56 L386.6,793.24 L387.45,792.79 L388.31,792.21 L389.16,791.49 L390.02,790.63 L390.87,789.65 L391.73,788.53 L392.58,787.28 L393.44,785.91 L394.29,784.41 L395.15,782.78 L396,781.03 L396.85,779.15 L397.71,777.16 L398.56,775.05 L399.42,772.82 L400.27,770.48 L401.13,768.03 L401.98,765.47 L402.84,762.81 L403.69,760.04 L404.55,757.18 L405.4,754.22 L406.26,751.16 L407.11,748.02 L407.96,744.79 L408.82,741.48 L409.67,738.09 L410.53,734.63 L411.38,731.09 L412.24,727.49 L413.09,723.82 L413.95,720.09 L414.8,716.31 L415.66,712.47 L416.51,708.59 L417.37,704.66 L418.22,700.7 L419.07,696.7 L419.93,692.67 L420.78,688.62 L421.64,684.54 L422.49,680.45 L423.35,676.34 L424.2,672.23 L425.06,668.11 L425.91,663.99 L426.77,659.88 L427.62,655.78 L428.48,651.69 L429.33,647.62 L430.18,643.58 L431.04,639.56 L431.89,635.57 L432.75,631.62 L433.6,627.71 L434.46,623.85 L435.31,620.03 L436.17,616.27 L437.02,612.57 L437.88,608.92 L438.73,605.34 L439.58,601.83 L440.44,598.4 L441.29,595.04 L442.15,591.76 L443,588.56 L443.86,585.45 L444.71,582.43 L445.57,579.51 L446.42,576.68 L447.28,573.96 L448.13,571.33 L448.99,568.82 L449.84,566.41 L450.69,564.11 L451.55,561.93 L452.4,559.86 L453.26,557.91 L454.11,556.09 L454.97,554.38 L455.82,552.8 L456.68,551.35 L457.53,550.02 L458.39,548.82 L459.24,547.76 L460.1,546.82 L460.95,546.02 L461.8,545.35 L462.66,544.82 L463.51,544.42 L464.37,544.16 L465.22,544.03 L466.08,544.03 L466.93,544.18 L467.79,544.46 L468.64,544.87 L469.5,545.42 L470.35,546.1 L471.2,546.92 L472.06,547.87 L472.91,548.95 L473.77,550.16 L474.62,551.5 L475.48,552.97 L476.33,554.56 L477.19,556.28 L478.04,558.12 L478.9,560.08 L479.75,562.16 L480.61,564.36 L481.46,566.67 L482.31,569.09 L483.17,571.62 L484.02,574.25 L484.88,576.99 L485.73,579.83 L486.59,582.76 L487.44,585.79 L488.3,588.91 L489.15,592.11 L490.01,595.4 L490.86,598.77 L491.72,602.22 L492.57,605.73 L493.42,609.32 L494.28,612.97 L495.13,616.68 L495.99,620.45 L496.84,624.27 L497.7,628.14 L498.55,632.06 L499.41,636.01 L500.26,640 L501.12,644.02 L501.97,648.07 L502.83,652.14 L503.68,656.23 L504.53,660.33 L505.39,664.44 L506.24,668.56 L507.1,672.68 L507.95,676.79 L508.81,680.9 L509.66,684.99 L510.52,689.06 L511.37,693.11 L512.23,697.14 L513.08,701.14 L513.93,705.1 L514.79,709.02 L515.64,712.89 L516.5,716.72 L517.35,720.5 L518.21,724.22 L519.06,727.88 L519.92,731.48 L520.77,735.01 L521.63,738.47 L522.48,741.85 L523.34,745.15 L524.19,748.37 L525.04,751.5 L525.9,754.55 L526.75,757.5 L527.61,760.35 L528.46,763.1 L529.32,765.76 L530.17,768.3 L531.03,770.74 L531.88,773.07 L532.74,775.28 L533.59,777.38 L534.45,779.36 L535.3,781.22" stroke="#0000ff" stroke-width="4.3" fill="none" stroke-linejoin="round" stroke-linecap="round"/>
</g>
<path d="M205.05,839.2 v-5.5 M205.05,498.6 v5.5 M367.9,839.2 v-5.5 M367.9,498.6 v5.5 M530.74,839.2 v-5.5 M530.74,498.6 v5.5 M108,763.51 h5.5 M535.3,763.51 h-5.5 M108,668.9 h5.5 M535.3,668.9 h-5.5 M108,574.29 h5.5 M535.3,574.29 h-5.5 " stroke="#262626" stroke-width="1.8" fill="none"/>
<rect x="108" y="498.6" width="427.3" height="340.6" fill="none" stroke="#262626" stroke-width="2.3" stroke-linejoin="miter"/>
<text x="97" y="585.89" style="font-size:32.5px;" text-anchor="end" fill="#262626">0.05</text>
<text x="97" y="680.5" style="font-size:32.5px;" text-anchor="end" fill="#262626">0</text>
<text x="97" y="775.11" style="font-size:32.5px;" text-anchor="end" fill="#262626">-0.05</text>
<text x="205.05" y="879.5" style="font-size:32.5px;" text-anchor="middle" fill="#262626">4</text>
<text x="367.9" y="879.5" style="font-size:32.5px;" text-anchor="middle" fill="#262626">5</text>
<text x="530.74" y="879.5" style="font-size:32.5px;" text-anchor="middle" fill="#262626">6</text>
<text x="0" y="0" transform="translate(26,836.95) rotate(-90)" style="font-size:36.6px" fill="#262626">Normalized Amplitude</text>
<rect x="327.2" y="500" width="152.3" height="74.4" fill="#fff" stroke="#262626" stroke-width="2.3"/>
<path d="M332.8,519.8 H385.7" stroke="#ff2020" stroke-width="3.4"/>
<path d="M332.8,555 H385.7" stroke="#0000ff" stroke-width="4"/>
<text x="388.87" y="529.8" style="font-size:28.8px;" fill="#000" transform="translate(0,529.8) scale(1,0.96) translate(0,-529.8)">Beam1</text>
<text x="388.87" y="563.7" style="font-size:28.8px;" fill="#000" transform="translate(0,563.7) scale(1,0.96) translate(0,-563.7)">Beam2</text>
<text x="52.1" y="470.7" style="font-size:50px;" fill="#000">(d)</text>
<text x="153.98" y="915" style="font-size:35.5px;" fill="#262626">Dimensionless Time</text>
<clipPath id="ce"><rect x="685.4" y="495.7" width="416.7" height="344.8"/></clipPath>
<g clip-path="url(#ce)">
<path d="M685.4,820.87 L686.23,821.79 L687.07,822.49 L687.9,822.97 L688.73,823.22 L689.57,823.24 L690.4,823.04 L691.23,822.61 L692.07,821.96 L692.9,821.08 L693.73,819.98 L694.57,818.66 L695.4,817.12 L696.23,815.36 L697.07,813.38 L697.9,811.2 L698.73,808.8 L699.57,806.2 L700.4,803.4 L701.23,800.4 L702.07,797.21 L702.9,793.83 L703.73,790.27 L704.57,786.53 L705.4,782.62 L706.24,778.54 L707.07,774.29 L707.9,769.9 L708.74,765.35 L709.57,760.67 L710.4,755.84 L711.24,750.89 L712.07,745.82 L712.9,740.64 L713.74,735.35 L714.57,729.96 L715.4,724.49 L716.24,718.92 L717.07,713.29 L717.9,707.59 L718.74,701.83 L719.57,696.03 L720.4,690.18 L721.24,684.3 L722.07,678.4 L722.9,672.48 L723.74,666.55 L724.57,660.63 L725.4,654.72 L726.24,648.83 L727.07,642.96 L727.9,637.13 L728.74,631.35 L729.57,625.62 L730.4,619.96 L731.24,614.36 L732.07,608.84 L732.9,603.41 L733.74,598.07 L734.57,592.84 L735.4,587.71 L736.24,582.7 L737.07,577.82 L737.9,573.07 L738.74,568.45 L739.57,563.99 L740.4,559.67 L741.24,555.51 L742.07,551.52 L742.9,547.69 L743.74,544.04 L744.57,540.58 L745.4,537.3 L746.24,534.2 L747.07,531.31 L747.9,528.61 L748.74,526.12 L749.57,523.83 L750.41,521.76 L751.24,519.9 L752.07,518.25 L752.91,516.82 L753.74,515.62 L754.57,514.63 L755.41,513.87 L756.24,513.34 L757.07,513.03 L757.91,512.94 L758.74,513.08 L759.57,513.45 L760.41,514.05 L761.24,514.87 L762.07,515.91 L762.91,517.17 L763.74,518.66 L764.57,520.36 L765.41,522.27 L766.24,524.4 L767.07,526.74 L767.91,529.29 L768.74,532.04 L769.57,534.99 L770.41,538.13 L771.24,541.46 L772.07,544.97 L772.91,548.67 L773.74,552.53 L774.57,556.57 L775.41,560.77 L776.24,565.13 L777.07,569.63 L777.91,574.28 L778.74,579.07 L779.57,583.99 L780.41,589.03 L781.24,594.18 L782.07,599.44 L782.91,604.81 L783.74,610.26 L784.57,615.8 L785.41,621.42 L786.24,627.1 L787.07,632.84 L787.91,638.64 L788.74,644.47 L789.57,650.35 L790.41,656.25 L791.24,662.16 L792.08,668.08 L792.91,674.01 L793.74,679.92 L794.58,685.82 L795.41,691.69 L796.24,697.53 L797.08,703.33 L797.91,709.07 L798.74,714.75 L799.58,720.37 L800.41,725.91 L801.24,731.37 L802.08,736.73 L802.91,741.99 L803.74,747.15 L804.58,752.19 L805.41,757.1 L806.24,761.89 L807.08,766.54 L807.91,771.05 L808.74,775.41 L809.58,779.61 L810.41,783.65 L811.24,787.51 L812.08,791.21 L812.91,794.73 L813.74,798.06 L814.58,801.2 L815.41,804.15 L816.24,806.9 L817.08,809.44 L817.91,811.78 L818.74,813.91 L819.58,815.83 L820.41,817.54 L821.24,819.02 L822.08,820.29 L822.91,821.33 L823.74,822.15 L824.58,822.74 L825.41,823.11 L826.24,823.26 L827.08,823.18 L827.91,822.87 L828.74,822.33 L829.58,821.57 L830.41,820.59 L831.25,819.38 L832.08,817.96 L832.91,816.31 L833.75,814.45 L834.58,812.38 L835.41,810.09 L836.25,807.6 L837.08,804.91 L837.91,802.01 L838.75,798.92 L839.58,795.64 L840.41,792.17 L841.25,788.53 L842.08,784.7 L842.91,780.71 L843.75,776.55 L844.58,772.24 L845.41,767.77 L846.25,763.16 L847.08,758.41 L847.91,753.52 L848.75,748.51 L849.58,743.39 L850.41,738.16 L851.25,732.82 L852.08,727.39 L852.91,721.87 L853.75,716.27 L854.58,710.61 L855.41,704.88 L856.25,699.1 L857.08,693.27 L857.91,687.41 L858.75,681.51 L859.58,675.6 L860.41,669.68 L861.25,663.75 L862.08,657.84 L862.91,651.93 L863.75,646.05 L864.58,640.2 L865.41,634.4 L866.25,628.64 L867.08,622.94 L867.91,617.3 L868.75,611.74 L869.58,606.27 L870.41,600.88 L871.25,595.59 L872.08,590.4 L872.91,585.33 L873.75,580.38 L874.58,575.56 L875.42,570.87 L876.25,566.33 L877.08,561.93 L877.92,557.69 L878.75,553.6 L879.58,549.69 L880.42,545.95 L881.25,542.38 L882.08,539 L882.92,535.81 L883.75,532.81 L884.58,530.01 L885.42,527.41 L886.25,525.01 L887.08,522.83 L887.92,520.85 L888.75,519.09 L889.58,517.55 L890.42,516.23 L891.25,515.12 L892.08,514.24 L892.92,513.59 L893.75,513.16 L894.58,512.96 L895.42,512.98 L896.25,513.23 L897.08,513.71 L897.92,514.41 L898.75,515.33 L899.58,516.48 L900.42,517.84 L901.25,519.43 L902.08,521.24 L902.92,523.25 L903.75,525.48 L904.58,527.92 L905.42,530.56 L906.25,533.41 L907.08,536.44 L907.92,539.67 L908.75,543.09 L909.58,546.69 L910.42,550.47 L911.25,554.42 L912.08,558.53 L912.92,562.81 L913.75,567.24 L914.58,571.81 L915.42,576.53 L916.25,581.38 L917.09,586.35 L917.92,591.45 L918.75,596.65 L919.59,601.96 L920.42,607.37 L921.25,612.87 L922.09,618.44 L922.92,624.09 L923.75,629.8 L924.59,635.57 L925.42,641.39 L926.25,647.24 L927.09,653.13 L927.92,659.04 L928.75,664.96 L929.59,670.88 L930.42,676.8 L931.25,682.71 L932.09,688.6 L932.92,694.46 L933.75,700.27 L934.59,706.05 L935.42,711.76 L936.25,717.42 L937.09,723 L937.92,728.5 L938.75,733.91 L939.59,739.23 L940.42,744.44 L941.25,749.54 L942.09,754.52 L942.92,759.38 L943.75,764.11 L944.59,768.69 L945.42,773.13 L946.25,777.41 L947.09,781.53 L947.92,785.49 L948.75,789.28 L949.59,792.89 L950.42,796.32 L951.25,799.56 L952.09,802.62 L952.92,805.47 L953.75,808.12 L954.59,810.57 L955.42,812.82 L956.25,814.85 L957.09,816.66 L957.92,818.26 L958.76,819.65 L959.59,820.81 L960.42,821.74 L961.26,822.46 L962.09,822.95 L962.92,823.21 L963.76,823.25 L964.59,823.06 L965.42,822.64 L966.26,822 L967.09,821.14 L967.92,820.05 L968.76,818.74 L969.59,817.21 L970.42,815.46 L971.26,813.5 L972.09,811.32 L972.92,808.94 L973.76,806.35 L974.59,803.56 L975.42,800.58 L976.26,797.4 L977.09,794.03 L977.92,790.47 L978.76,786.74 L979.59,782.84 L980.42,778.77 L981.26,774.53 L982.09,770.15 L982.92,765.61 L983.76,760.93 L984.59,756.12 L985.42,751.17 L986.26,746.11 L987.09,740.93 L987.92,735.65 L988.76,730.27 L989.59,724.79 L990.42,719.24 L991.26,713.61 L992.09,707.91 L992.92,702.15 L993.76,696.35 L994.59,690.5 L995.42,684.63 L996.26,678.72 L997.09,672.81 L997.92,666.88 L998.76,660.96 L999.59,655.05 L1000.43,649.15 L1001.26,643.29 L1002.09,637.46 L1002.93,631.67 L1003.76,625.94 L1004.59,620.27 L1005.43,614.67 L1006.26,609.15 L1007.09,603.71 L1007.93,598.37 L1008.76,593.13 L1009.59,587.99 L1010.43,582.98 L1011.26,578.09 L1012.09,573.33 L1012.93,568.71 L1013.76,564.23 L1014.59,559.91 L1015.43,555.74 L1016.26,551.73 L1017.09,547.9 L1017.93,544.24 L1018.76,540.76 L1019.59,537.47 L1020.43,534.37 L1021.26,531.46 L1022.09,528.76 L1022.93,526.25 L1023.76,523.96 L1024.59,521.87 L1025.43,519.99 L1026.26,518.34 L1027.09,516.9 L1027.93,515.68 L1028.76,514.68 L1029.59,513.91 L1030.43,513.36 L1031.26,513.04 L1032.09,512.94 L1032.93,513.07 L1033.76,513.43 L1034.59,514.01 L1035.43,514.81 L1036.26,515.84 L1037.09,517.1 L1037.93,518.57 L1038.76,520.26 L1039.59,522.16 L1040.43,524.28 L1041.26,526.61 L1042.1,529.14 L1042.93,531.88 L1043.76,534.82 L1044.6,537.95 L1045.43,541.27 L1046.26,544.77 L1047.1,548.46 L1047.93,552.31 L1048.76,556.34 L1049.6,560.53 L1050.43,564.88 L1051.26,569.38 L1052.1,574.02 L1052.93,578.8 L1053.76,583.71 L1054.6,588.74 L1055.43,593.89 L1056.26,599.15 L1057.1,604.51 L1057.93,609.96 L1058.76,615.49 L1059.6,621.1 L1060.43,626.78 L1061.26,632.52 L1062.1,638.31 L1062.93,644.15 L1063.76,650.02 L1064.6,655.92 L1065.43,661.83 L1066.26,667.75 L1067.1,673.68 L1067.93,679.6 L1068.76,685.49 L1069.6,691.37 L1070.43,697.21 L1071.26,703.01 L1072.1,708.75 L1072.93,714.44 L1073.76,720.06 L1074.6,725.6 L1075.43,731.06 L1076.26,736.43 L1077.1,741.7 L1077.93,746.86 L1078.76,751.91 L1079.6,756.83 L1080.43,761.63 L1081.26,766.29 L1082.1,770.8 L1082.93,775.17 L1083.77,779.38 L1084.6,783.43 L1085.43,787.3 L1086.27,791.01 L1087.1,794.54 L1087.93,797.88 L1088.77,801.03 L1089.6,803.99 L1090.43,806.75 L1091.27,809.31 L1092.1,811.66 L1092.93,813.8 L1093.77,815.73 L1094.6,817.45 L1095.43,818.94 L1096.27,820.22 L1097.1,821.28 L1097.93,822.11 L1098.77,822.72 L1099.6,823.1 L1100.43,823.26 L1101.27,823.19 L1102.1,822.89" stroke="#f42a2e" stroke-width="3.5" fill="none" stroke-linejoin="round" stroke-linecap="round"/>
<path d="M685.4,515.33 L686.23,514.41 L687.07,513.71 L687.9,513.23 L688.73,512.98 L689.57,512.96 L690.4,513.16 L691.23,513.59 L692.07,514.24 L692.9,515.12 L693.73,516.22 L694.57,517.54 L695.4,519.08 L696.23,520.84 L697.07,522.82 L697.9,525 L698.73,527.4 L699.57,530 L700.4,532.8 L701.23,535.8 L702.07,538.99 L702.9,542.37 L703.73,545.93 L704.57,549.67 L705.4,553.58 L706.24,557.66 L707.07,561.91 L707.9,566.3 L708.74,570.85 L709.57,575.53 L710.4,580.36 L711.24,585.31 L712.07,590.38 L712.9,595.56 L713.74,600.85 L714.57,606.24 L715.4,611.71 L716.24,617.28 L717.07,622.91 L717.9,628.61 L718.74,634.37 L719.57,640.17 L720.4,646.02 L721.24,651.9 L722.07,657.8 L722.9,663.72 L723.74,669.65 L724.57,675.57 L725.4,681.48 L726.24,687.37 L727.07,693.24 L727.9,699.07 L728.74,704.85 L729.57,710.58 L730.4,716.24 L731.24,721.84 L732.07,727.36 L732.9,732.79 L733.74,738.13 L734.57,743.36 L735.4,748.49 L736.24,753.5 L737.07,758.38 L737.9,763.13 L738.74,767.75 L739.57,772.21 L740.4,776.53 L741.24,780.69 L742.07,784.68 L742.9,788.51 L743.74,792.16 L744.57,795.62 L745.4,798.9 L746.24,802 L747.07,804.89 L747.9,807.59 L748.74,810.08 L749.57,812.37 L750.41,814.44 L751.24,816.3 L752.07,817.95 L752.91,819.38 L753.74,820.58 L754.57,821.57 L755.41,822.33 L756.24,822.86 L757.07,823.17 L757.91,823.26 L758.74,823.12 L759.57,822.75 L760.41,822.15 L761.24,821.33 L762.07,820.29 L762.91,819.03 L763.74,817.54 L764.57,815.84 L765.41,813.93 L766.24,811.8 L767.07,809.46 L767.91,806.91 L768.74,804.16 L769.57,801.21 L770.41,798.07 L771.24,794.74 L772.07,791.23 L772.91,787.53 L773.74,783.67 L774.57,779.63 L775.41,775.43 L776.24,771.07 L777.07,766.57 L777.91,761.92 L778.74,757.13 L779.57,752.21 L780.41,747.17 L781.24,742.02 L782.07,736.76 L782.91,731.39 L783.74,725.94 L784.57,720.4 L785.41,714.78 L786.24,709.1 L787.07,703.36 L787.91,697.56 L788.74,691.73 L789.57,685.85 L790.41,679.95 L791.24,674.04 L792.08,668.12 L792.91,662.19 L793.74,656.28 L794.58,650.38 L795.41,644.51 L796.24,638.67 L797.08,632.87 L797.91,627.13 L798.74,621.45 L799.58,615.83 L800.41,610.29 L801.24,604.83 L802.08,599.47 L802.91,594.21 L803.74,589.05 L804.58,584.01 L805.41,579.1 L806.24,574.31 L807.08,569.66 L807.91,565.15 L808.74,560.79 L809.58,556.59 L810.41,552.55 L811.24,548.69 L812.08,544.99 L812.91,541.47 L813.74,538.14 L814.58,535 L815.41,532.05 L816.24,529.3 L817.08,526.76 L817.91,524.42 L818.74,522.29 L819.58,520.37 L820.41,518.66 L821.24,517.18 L822.08,515.91 L822.91,514.87 L823.74,514.05 L824.58,513.46 L825.41,513.09 L826.24,512.94 L827.08,513.02 L827.91,513.33 L828.74,513.87 L829.58,514.63 L830.41,515.61 L831.25,516.82 L832.08,518.24 L832.91,519.89 L833.75,521.75 L834.58,523.82 L835.41,526.11 L836.25,528.6 L837.08,531.29 L837.91,534.19 L838.75,537.28 L839.58,540.56 L840.41,544.03 L841.25,547.67 L842.08,551.5 L842.91,555.49 L843.75,559.65 L844.58,563.96 L845.41,568.43 L846.25,573.04 L847.08,577.79 L847.91,582.68 L848.75,587.69 L849.58,592.81 L850.41,598.04 L851.25,603.38 L852.08,608.81 L852.91,614.33 L853.75,619.93 L854.58,625.59 L855.41,631.32 L856.25,637.1 L857.08,642.93 L857.91,648.79 L858.75,654.69 L859.58,660.6 L860.41,666.52 L861.25,672.45 L862.08,678.36 L862.91,684.27 L863.75,690.15 L864.58,696 L865.41,701.8 L866.25,707.56 L867.08,713.26 L867.91,718.9 L868.75,724.46 L869.58,729.93 L870.41,735.32 L871.25,740.61 L872.08,745.8 L872.91,750.87 L873.75,755.82 L874.58,760.64 L875.42,765.33 L876.25,769.87 L877.08,774.27 L877.92,778.51 L878.75,782.6 L879.58,786.51 L880.42,790.25 L881.25,793.82 L882.08,797.2 L882.92,800.39 L883.75,803.39 L884.58,806.19 L885.42,808.79 L886.25,811.19 L887.08,813.37 L887.92,815.35 L888.75,817.11 L889.58,818.65 L890.42,819.97 L891.25,821.08 L892.08,821.96 L892.92,822.61 L893.75,823.04 L894.58,823.24 L895.42,823.22 L896.25,822.97 L897.08,822.49 L897.92,821.79 L898.75,820.87 L899.58,819.72 L900.42,818.36 L901.25,816.77 L902.08,814.96 L902.92,812.95 L903.75,810.72 L904.58,808.28 L905.42,805.64 L906.25,802.79 L907.08,799.76 L907.92,796.53 L908.75,793.11 L909.58,789.51 L910.42,785.73 L911.25,781.78 L912.08,777.67 L912.92,773.39 L913.75,768.96 L914.58,764.39 L915.42,759.67 L916.25,754.82 L917.09,749.85 L917.92,744.75 L918.75,739.55 L919.59,734.24 L920.42,728.83 L921.25,723.33 L922.09,717.76 L922.92,712.11 L923.75,706.4 L924.59,700.63 L925.42,694.81 L926.25,688.96 L927.09,683.07 L927.92,677.16 L928.75,671.24 L929.59,665.32 L930.42,659.4 L931.25,653.49 L932.09,647.6 L932.92,641.74 L933.75,635.93 L934.59,630.15 L935.42,624.44 L936.25,618.78 L937.09,613.2 L937.92,607.7 L938.75,602.29 L939.59,596.97 L940.42,591.76 L941.25,586.66 L942.09,581.68 L942.92,576.82 L943.75,572.09 L944.59,567.51 L945.42,563.07 L946.25,558.79 L947.09,554.67 L947.92,550.71 L948.75,546.92 L949.59,543.31 L950.42,539.88 L951.25,536.64 L952.09,533.58 L952.92,530.73 L953.75,528.08 L954.59,525.63 L955.42,523.38 L956.25,521.35 L957.09,519.54 L957.92,517.94 L958.76,516.55 L959.59,515.39 L960.42,514.46 L961.26,513.74 L962.09,513.25 L962.92,512.99 L963.76,512.95 L964.59,513.14 L965.42,513.56 L966.26,514.2 L967.09,515.06 L967.92,516.15 L968.76,517.46 L969.59,518.99 L970.42,520.74 L971.26,522.7 L972.09,524.88 L972.92,527.26 L973.76,529.85 L974.59,532.64 L975.42,535.62 L976.26,538.8 L977.09,542.17 L977.92,545.73 L978.76,549.46 L979.59,553.36 L980.42,557.43 L981.26,561.67 L982.09,566.05 L982.92,570.59 L983.76,575.27 L984.59,580.08 L985.42,585.03 L986.26,590.09 L987.09,595.27 L987.92,600.55 L988.76,605.93 L989.59,611.41 L990.42,616.96 L991.26,622.59 L992.09,628.29 L992.92,634.05 L993.76,639.85 L994.59,645.7 L995.42,651.57 L996.26,657.48 L997.09,663.39 L997.92,669.32 L998.76,675.24 L999.59,681.15 L1000.43,687.05 L1001.26,692.91 L1002.09,698.74 L1002.93,704.53 L1003.76,710.26 L1004.59,715.93 L1005.43,721.53 L1006.26,727.05 L1007.09,732.49 L1007.93,737.83 L1008.76,743.07 L1009.59,748.21 L1010.43,753.22 L1011.26,758.11 L1012.09,762.87 L1012.93,767.49 L1013.76,771.97 L1014.59,776.29 L1015.43,780.46 L1016.26,784.47 L1017.09,788.3 L1017.93,791.96 L1018.76,795.44 L1019.59,798.73 L1020.43,801.83 L1021.26,804.74 L1022.09,807.44 L1022.93,809.95 L1023.76,812.24 L1024.59,814.33 L1025.43,816.21 L1026.26,817.86 L1027.09,819.3 L1027.93,820.52 L1028.76,821.52 L1029.59,822.29 L1030.43,822.84 L1031.26,823.16 L1032.09,823.26 L1032.93,823.13 L1033.76,822.77 L1034.59,822.19 L1035.43,821.39 L1036.26,820.36 L1037.09,819.1 L1037.93,817.63 L1038.76,815.94 L1039.59,814.04 L1040.43,811.92 L1041.26,809.59 L1042.1,807.06 L1042.93,804.32 L1043.76,801.38 L1044.6,798.25 L1045.43,794.93 L1046.26,791.43 L1047.1,787.74 L1047.93,783.89 L1048.76,779.86 L1049.6,775.67 L1050.43,771.32 L1051.26,766.82 L1052.1,762.18 L1052.93,757.4 L1053.76,752.49 L1054.6,747.46 L1055.43,742.31 L1056.26,737.05 L1057.1,731.69 L1057.93,726.24 L1058.76,720.71 L1059.6,715.1 L1060.43,709.42 L1061.26,703.68 L1062.1,697.89 L1062.93,692.05 L1063.76,686.18 L1064.6,680.28 L1065.43,674.37 L1066.26,668.45 L1067.1,662.52 L1067.93,656.6 L1068.76,650.71 L1069.6,644.83 L1070.43,638.99 L1071.26,633.19 L1072.1,627.45 L1072.93,621.76 L1073.76,616.14 L1074.6,610.6 L1075.43,605.14 L1076.26,599.77 L1077.1,594.5 L1077.93,589.34 L1078.76,584.29 L1079.6,579.37 L1080.43,574.57 L1081.26,569.91 L1082.1,565.4 L1082.93,561.03 L1083.77,556.82 L1084.6,552.77 L1085.43,548.9 L1086.27,545.19 L1087.1,541.66 L1087.93,538.32 L1088.77,535.17 L1089.6,532.21 L1090.43,529.45 L1091.27,526.89 L1092.1,524.54 L1092.93,522.4 L1093.77,520.47 L1094.6,518.75 L1095.43,517.26 L1096.27,515.98 L1097.1,514.92 L1097.93,514.09 L1098.77,513.48 L1099.6,513.1 L1100.43,512.94 L1101.27,513.01 L1102.1,513.31" stroke="#0000ff" stroke-width="4.3" fill="none" stroke-linejoin="round" stroke-linecap="round"/>
</g>
<path d="M812.65,840.5 v-5.5 M812.65,495.7 v5.5 M949.76,840.5 v-5.5 M949.76,495.7 v5.5 M1086.88,840.5 v-5.5 M1086.88,495.7 v5.5 M685.4,840.5 h5.5 M1102.1,840.5 h-5.5 M685.4,754.3 h5.5 M1102.1,754.3 h-5.5 M685.4,668.1 h5.5 M1102.1,668.1 h-5.5 M685.4,581.9 h5.5 M1102.1,581.9 h-5.5 M685.4,495.7 h5.5 M1102.1,495.7 h-5.5 " stroke="#262626" stroke-width="1.8" fill="none"/>
<rect x="685.4" y="495.7" width="416.7" height="344.8" fill="none" stroke="#262626" stroke-width="2.3" stroke-linejoin="miter"/>
<text x="675" y="507.3" style="font-size:32.5px;" text-anchor="end" fill="#262626">0.04</text>
<text x="675" y="593.5" style="font-size:32.5px;" text-anchor="end" fill="#262626">0.02</text>
<text x="675" y="679.7" style="font-size:32.5px;" text-anchor="end" fill="#262626">0</text>
<text x="675" y="765.9" style="font-size:32.5px;" text-anchor="end" fill="#262626">-0.02</text>
<text x="675" y="852.1" style="font-size:32.5px;" text-anchor="end" fill="#262626">-0.04</text>
<text x="812.65" y="879.5" style="font-size:32.5px;" text-anchor="middle" fill="#262626">5</text>
<text x="949.76" y="879.5" style="font-size:32.5px;" text-anchor="middle" fill="#262626">6</text>
<text x="1086.88" y="879.5" style="font-size:32.5px;" text-anchor="middle" fill="#262626">7</text>
<text x="0" y="0" transform="translate(593.6,836.95) rotate(-90)" style="font-size:36.6px" fill="#262626">Normalized Amplitude</text>
<rect x="956.3" y="509.7" width="152.6" height="74.7" fill="#fff" stroke="#262626" stroke-width="2.3"/>
<path d="M961.6,529.2 H1015.1" stroke="#ff2020" stroke-width="3.4"/>
<path d="M961.6,564.2 H1015.1" stroke="#0000ff" stroke-width="4"/>
<text x="1017.77" y="538.6" style="font-size:28.8px;" fill="#000" transform="translate(0,538.6) scale(1,0.96) translate(0,-538.6)">Beam1</text>
<text x="1017.77" y="574.1" style="font-size:28.8px;" fill="#000" transform="translate(0,574.1) scale(1,0.96) translate(0,-574.1)">Beam2</text>
<text x="626" y="469.5" style="font-size:50px;" fill="#000">(e)</text>
<text x="734.78" y="912.2" style="font-size:35.5px;" fill="#262626">Dimensionless Time</text>
<clipPath id="cf"><rect x="1259.3" y="501.2" width="454.1" height="335.1"/></clipPath>
<g clip-path="url(#cf)">
<path d="M1259.3,715.57 L1260.21,715.65 L1261.12,715.66 L1262.02,715.6 L1262.93,715.48 L1263.84,715.29 L1264.75,715.03 L1265.66,714.7 L1266.57,714.31 L1267.47,713.85 L1268.38,713.33 L1269.29,712.74 L1270.2,712.09 L1271.11,711.38 L1272.01,710.61 L1272.92,709.77 L1273.83,708.88 L1274.74,707.93 L1275.65,706.92 L1276.56,705.86 L1277.46,704.74 L1278.37,703.57 L1279.28,702.35 L1280.19,701.09 L1281.1,699.77 L1282,698.41 L1282.91,697.01 L1283.82,695.57 L1284.73,694.09 L1285.64,692.58 L1286.55,691.02 L1287.45,689.44 L1288.36,687.83 L1289.27,686.19 L1290.18,684.52 L1291.09,682.83 L1292,681.13 L1292.9,679.4 L1293.81,677.66 L1294.72,675.9 L1295.63,674.14 L1296.54,672.37 L1297.44,670.59 L1298.35,668.81 L1299.26,667.03 L1300.17,665.25 L1301.08,663.48 L1301.99,661.71 L1302.89,659.95 L1303.8,658.21 L1304.71,656.48 L1305.62,654.77 L1306.53,653.08 L1307.43,651.42 L1308.34,649.78 L1309.25,648.16 L1310.16,646.58 L1311.07,645.02 L1311.98,643.5 L1312.88,642.02 L1313.79,640.58 L1314.7,639.17 L1315.61,637.81 L1316.52,636.5 L1317.42,635.23 L1318.33,634.01 L1319.24,632.83 L1320.15,631.71 L1321.06,630.65 L1321.97,629.64 L1322.87,628.68 L1323.78,627.78 L1324.69,626.95 L1325.6,626.17 L1326.51,625.45 L1327.41,624.8 L1328.32,624.21 L1329.23,623.68 L1330.14,623.22 L1331.05,622.82 L1331.96,622.49 L1332.86,622.23 L1333.77,622.03 L1334.68,621.9 L1335.59,621.84 L1336.5,621.85 L1337.41,621.92 L1338.31,622.06 L1339.22,622.27 L1340.13,622.55 L1341.04,622.89 L1341.95,623.3 L1342.85,623.77 L1343.76,624.31 L1344.67,624.91 L1345.58,625.58 L1346.49,626.3 L1347.4,627.09 L1348.3,627.94 L1349.21,628.85 L1350.12,629.82 L1351.03,630.84 L1351.94,631.91 L1352.84,633.04 L1353.75,634.22 L1354.66,635.45 L1355.57,636.73 L1356.48,638.06 L1357.39,639.43 L1358.29,640.84 L1359.2,642.29 L1360.11,643.78 L1361.02,645.3 L1361.93,646.86 L1362.83,648.45 L1363.74,650.07 L1364.65,651.72 L1365.56,653.39 L1366.47,655.08 L1367.38,656.8 L1368.28,658.53 L1369.19,660.27 L1370.1,662.03 L1371.01,663.8 L1371.92,665.57 L1372.83,667.35 L1373.73,669.13 L1374.64,670.91 L1375.55,672.69 L1376.46,674.46 L1377.37,676.22 L1378.27,677.98 L1379.18,679.71 L1380.09,681.44 L1381,683.14 L1381.91,684.83 L1382.82,686.49 L1383.72,688.12 L1384.63,689.73 L1385.54,691.31 L1386.45,692.85 L1387.36,694.36 L1388.26,695.84 L1389.17,697.27 L1390.08,698.67 L1390.99,700.02 L1391.9,701.32 L1392.81,702.58 L1393.71,703.79 L1394.62,704.95 L1395.53,706.05 L1396.44,707.11 L1397.35,708.1 L1398.25,709.04 L1399.16,709.93 L1400.07,710.75 L1400.98,711.51 L1401.89,712.22 L1402.8,712.85 L1403.7,713.43 L1404.61,713.94 L1405.52,714.39 L1406.43,714.77 L1407.34,715.08 L1408.24,715.33 L1409.15,715.51 L1410.06,715.62 L1410.97,715.66 L1411.88,715.64 L1412.79,715.55 L1413.69,715.39 L1414.6,715.17 L1415.51,714.88 L1416.42,714.52 L1417.33,714.09 L1418.23,713.6 L1419.14,713.05 L1420.05,712.43 L1420.96,711.75 L1421.87,711.01 L1422.78,710.2 L1423.68,709.34 L1424.59,708.42 L1425.5,707.44 L1426.41,706.4 L1427.32,705.31 L1428.23,704.17 L1429.13,702.98 L1430.04,701.74 L1430.95,700.45 L1431.86,699.11 L1432.77,697.73 L1433.67,696.31 L1434.58,694.85 L1435.49,693.35 L1436.4,691.82 L1437.31,690.25 L1438.22,688.65 L1439.12,687.03 L1440.03,685.37 L1440.94,683.7 L1441.85,682 L1442.76,680.28 L1443.66,678.54 L1444.57,676.8 L1445.48,675.04 L1446.39,673.27 L1447.3,671.49 L1448.21,669.71 L1449.11,667.93 L1450.02,666.15 L1450.93,664.38 L1451.84,662.61 L1452.75,660.85 L1453.65,659.1 L1454.56,657.36 L1455.47,655.64 L1456.38,653.94 L1457.29,652.26 L1458.2,650.61 L1459.1,648.98 L1460.01,647.38 L1460.92,645.81 L1461.83,644.27 L1462.74,642.77 L1463.64,641.31 L1464.55,639.88 L1465.46,638.5 L1466.37,637.16 L1467.28,635.87 L1468.19,634.62 L1469.09,633.42 L1470,632.28 L1470.91,631.18 L1471.82,630.14 L1472.73,629.16 L1473.64,628.23 L1474.54,627.36 L1475.45,626.56 L1476.36,625.81 L1477.27,625.12 L1478.18,624.5 L1479.08,623.94 L1479.99,623.44 L1480.9,623.01 L1481.81,622.65 L1482.72,622.35 L1483.63,622.12 L1484.53,621.96 L1485.44,621.86 L1486.35,621.84 L1487.26,621.88 L1488.17,621.98 L1489.07,622.16 L1489.98,622.4 L1490.89,622.71 L1491.8,623.08 L1492.71,623.52 L1493.62,624.03 L1494.52,624.6 L1495.43,625.23 L1496.34,625.93 L1497.25,626.69 L1498.16,627.5 L1499.06,628.38 L1499.97,629.32 L1500.88,630.31 L1501.79,631.36 L1502.7,632.46 L1503.61,633.62 L1504.51,634.82 L1505.42,636.08 L1506.33,637.38 L1507.24,638.72 L1508.15,640.11 L1509.06,641.55 L1509.96,643.02 L1510.87,644.52 L1511.78,646.07 L1512.69,647.64 L1513.6,649.25 L1514.5,650.88 L1515.41,652.54 L1516.32,654.22 L1517.23,655.92 L1518.14,657.65 L1519.05,659.38 L1519.95,661.14 L1520.86,662.9 L1521.77,664.67 L1522.68,666.45 L1523.59,668.23 L1524.49,670.01 L1525.4,671.79 L1526.31,673.56 L1527.22,675.33 L1528.13,677.09 L1529.04,678.83 L1529.94,680.56 L1530.85,682.28 L1531.76,683.97 L1532.67,685.65 L1533.58,687.3 L1534.48,688.92 L1535.39,690.51 L1536.3,692.07 L1537.21,693.6 L1538.12,695.09 L1539.03,696.55 L1539.93,697.96 L1540.84,699.33 L1541.75,700.66 L1542.66,701.94 L1543.57,703.18 L1544.47,704.36 L1545.38,705.5 L1546.29,706.58 L1547.2,707.6 L1548.11,708.57 L1549.02,709.49 L1549.92,710.34 L1550.83,711.13 L1551.74,711.87 L1552.65,712.54 L1553.56,713.14 L1554.46,713.69 L1555.37,714.17 L1556.28,714.58 L1557.19,714.93 L1558.1,715.21 L1559.01,715.42 L1559.91,715.57 L1560.82,715.65 L1561.73,715.66 L1562.64,715.6 L1563.55,715.48 L1564.46,715.29 L1565.36,715.03 L1566.27,714.71 L1567.18,714.32 L1568.09,713.86 L1569,713.34 L1569.9,712.75 L1570.81,712.1 L1571.72,711.39 L1572.63,710.62 L1573.54,709.79 L1574.45,708.89 L1575.35,707.94 L1576.26,706.94 L1577.17,705.87 L1578.08,704.76 L1578.99,703.59 L1579.89,702.37 L1580.8,701.11 L1581.71,699.79 L1582.62,698.44 L1583.53,697.04 L1584.44,695.6 L1585.34,694.12 L1586.25,692.6 L1587.16,691.05 L1588.07,689.47 L1588.98,687.86 L1589.88,686.22 L1590.79,684.55 L1591.7,682.86 L1592.61,681.15 L1593.52,679.43 L1594.43,677.69 L1595.33,675.93 L1596.24,674.17 L1597.15,672.39 L1598.06,670.62 L1598.97,668.84 L1599.88,667.06 L1600.78,665.28 L1601.69,663.5 L1602.6,661.74 L1603.51,659.98 L1604.42,658.24 L1605.32,656.51 L1606.23,654.8 L1607.14,653.11 L1608.05,651.44 L1608.96,649.8 L1609.87,648.19 L1610.77,646.6 L1611.68,645.05 L1612.59,643.53 L1613.5,642.04 L1614.41,640.6 L1615.31,639.2 L1616.22,637.83 L1617.13,636.52 L1618.04,635.25 L1618.95,634.02 L1619.86,632.85 L1620.76,631.73 L1621.67,630.66 L1622.58,629.65 L1623.49,628.7 L1624.4,627.8 L1625.3,626.96 L1626.21,626.18 L1627.12,625.46 L1628.03,624.81 L1628.94,624.22 L1629.85,623.69 L1630.75,623.22 L1631.66,622.83 L1632.57,622.5 L1633.48,622.23 L1634.39,622.03 L1635.29,621.9 L1636.2,621.84 L1637.11,621.85 L1638.02,621.92 L1638.93,622.06 L1639.84,622.27 L1640.74,622.54 L1641.65,622.88 L1642.56,623.29 L1643.47,623.76 L1644.38,624.3 L1645.29,624.9 L1646.19,625.57 L1647.1,626.29 L1648.01,627.08 L1648.92,627.93 L1649.83,628.84 L1650.73,629.8 L1651.64,630.82 L1652.55,631.9 L1653.46,633.02 L1654.37,634.2 L1655.28,635.43 L1656.18,636.71 L1657.09,638.04 L1658,639.4 L1658.91,640.81 L1659.82,642.26 L1660.72,643.75 L1661.63,645.28 L1662.54,646.84 L1663.45,648.43 L1664.36,650.05 L1665.27,651.69 L1666.17,653.36 L1667.08,655.06 L1667.99,656.77 L1668.9,658.5 L1669.81,660.24 L1670.71,662 L1671.62,663.77 L1672.53,665.54 L1673.44,667.32 L1674.35,669.1 L1675.26,670.88 L1676.16,672.66 L1677.07,674.43 L1677.98,676.19 L1678.89,677.95 L1679.8,679.69 L1680.7,681.41 L1681.61,683.12 L1682.52,684.8 L1683.43,686.46 L1684.34,688.1 L1685.25,689.71 L1686.15,691.28 L1687.06,692.83 L1687.97,694.34 L1688.88,695.81 L1689.79,697.25 L1690.69,698.64 L1691.6,699.99 L1692.51,701.3 L1693.42,702.56 L1694.33,703.77 L1695.24,704.93 L1696.14,706.04 L1697.05,707.09 L1697.96,708.09 L1698.87,709.03 L1699.78,709.91 L1700.69,710.74 L1701.59,711.5 L1702.5,712.2 L1703.41,712.84 L1704.32,713.42 L1705.23,713.93 L1706.13,714.38 L1707.04,714.76 L1707.95,715.07 L1708.86,715.32 L1709.77,715.5 L1710.68,715.62 L1711.58,715.66 L1712.49,715.64 L1713.4,715.55" stroke="#f42a2e" stroke-width="3.5" fill="none" stroke-linejoin="round" stroke-linecap="round"/>
<path d="M1259.3,509.89 L1260.21,509.63 L1261.12,509.59 L1262.02,509.78 L1262.93,510.21 L1263.84,510.86 L1264.75,511.74 L1265.66,512.84 L1266.57,514.17 L1267.47,515.73 L1268.38,517.5 L1269.29,519.49 L1270.2,521.7 L1271.11,524.11 L1272.01,526.74 L1272.92,529.57 L1273.83,532.6 L1274.74,535.83 L1275.65,539.25 L1276.56,542.86 L1277.46,546.64 L1278.37,550.61 L1279.28,554.74 L1280.19,559.04 L1281.1,563.49 L1282,568.1 L1282.91,572.85 L1283.82,577.74 L1284.73,582.77 L1285.64,587.91 L1286.55,593.17 L1287.45,598.55 L1288.36,604.02 L1289.27,609.58 L1290.18,615.24 L1291.09,620.96 L1292,626.76 L1292.9,632.62 L1293.81,638.53 L1294.72,644.48 L1295.63,650.47 L1296.54,656.48 L1297.44,662.51 L1298.35,668.56 L1299.26,674.6 L1300.17,680.63 L1301.08,686.65 L1301.99,692.64 L1302.89,698.59 L1303.8,704.5 L1304.71,710.37 L1305.62,716.17 L1306.53,721.9 L1307.43,727.56 L1308.34,733.13 L1309.25,738.61 L1310.16,743.98 L1311.07,749.25 L1311.98,754.41 L1312.88,759.44 L1313.79,764.34 L1314.7,769.1 L1315.61,773.72 L1316.52,778.18 L1317.42,782.49 L1318.33,786.63 L1319.24,790.61 L1320.15,794.41 L1321.06,798.02 L1321.97,801.46 L1322.87,804.7 L1323.78,807.74 L1324.69,810.58 L1325.6,813.22 L1326.51,815.66 L1327.41,817.88 L1328.32,819.88 L1329.23,821.67 L1330.14,823.23 L1331.05,824.58 L1331.96,825.7 L1332.86,826.59 L1333.77,827.26 L1334.68,827.69 L1335.59,827.9 L1336.5,827.88 L1337.41,827.63 L1338.31,827.15 L1339.22,826.45 L1340.13,825.51 L1341.04,824.35 L1341.95,822.97 L1342.85,821.36 L1343.76,819.53 L1344.67,817.49 L1345.58,815.23 L1346.49,812.76 L1347.4,810.08 L1348.3,807.2 L1349.21,804.12 L1350.12,800.85 L1351.03,797.38 L1351.94,793.73 L1352.84,789.9 L1353.75,785.89 L1354.66,781.72 L1355.57,777.38 L1356.48,772.89 L1357.39,768.24 L1358.29,763.46 L1359.2,758.53 L1360.11,753.48 L1361.02,748.3 L1361.93,743.01 L1362.83,737.62 L1363.74,732.12 L1364.65,726.53 L1365.56,720.86 L1366.47,715.12 L1367.38,709.3 L1368.28,703.43 L1369.19,697.51 L1370.1,691.55 L1371.01,685.55 L1371.92,679.53 L1372.83,673.5 L1373.73,667.46 L1374.64,661.42 L1375.55,655.39 L1376.46,649.38 L1377.37,643.4 L1378.27,637.45 L1379.18,631.55 L1380.09,625.7 L1381,619.92 L1381.91,614.2 L1382.82,608.57 L1383.72,603.02 L1384.63,597.56 L1385.54,592.21 L1386.45,586.97 L1387.36,581.84 L1388.26,576.85 L1389.17,571.98 L1390.08,567.25 L1390.99,562.67 L1391.9,558.24 L1392.81,553.98 L1393.71,549.87 L1394.62,545.94 L1395.53,542.19 L1396.44,538.61 L1397.35,535.23 L1398.25,532.04 L1399.16,529.04 L1400.07,526.25 L1400.98,523.66 L1401.89,521.28 L1402.8,519.11 L1403.7,517.16 L1404.61,515.43 L1405.52,513.91 L1406.43,512.63 L1407.34,511.56 L1408.24,510.72 L1409.15,510.11 L1410.06,509.73 L1410.97,509.58 L1411.88,509.66 L1412.79,509.96 L1413.69,510.5 L1414.6,511.26 L1415.51,512.25 L1416.42,513.47 L1417.33,514.91 L1418.23,516.57 L1419.14,518.45 L1420.05,520.55 L1420.96,522.86 L1421.87,525.38 L1422.78,528.11 L1423.68,531.04 L1424.59,534.17 L1425.5,537.49 L1426.41,541 L1427.32,544.7 L1428.23,548.57 L1429.13,552.62 L1430.04,556.83 L1430.95,561.21 L1431.86,565.74 L1432.77,570.42 L1433.67,575.24 L1434.58,580.2 L1435.49,585.28 L1436.4,590.49 L1437.31,595.8 L1438.22,601.23 L1439.12,606.75 L1440.03,612.35 L1440.94,618.04 L1441.85,623.81 L1442.76,629.63 L1443.66,635.52 L1444.57,641.45 L1445.48,647.42 L1446.39,653.42 L1447.3,659.45 L1448.21,665.49 L1449.11,671.53 L1450.02,677.57 L1450.93,683.59 L1451.84,689.6 L1452.75,695.57 L1453.65,701.51 L1454.56,707.39 L1455.47,713.23 L1456.38,719 L1457.29,724.69 L1458.2,730.31 L1459.1,735.83 L1460.01,741.26 L1460.92,746.59 L1461.83,751.8 L1462.74,756.9 L1463.64,761.86 L1464.55,766.7 L1465.46,771.39 L1466.37,775.93 L1467.28,780.32 L1468.19,784.55 L1469.09,788.61 L1470,792.5 L1470.91,796.21 L1471.82,799.74 L1472.73,803.07 L1473.64,806.22 L1474.54,809.16 L1475.45,811.91 L1476.36,814.45 L1477.27,816.77 L1478.18,818.89 L1479.08,820.79 L1479.99,822.47 L1480.9,823.92 L1481.81,825.16 L1482.72,826.17 L1483.63,826.95 L1484.53,827.5 L1485.44,827.83 L1486.35,827.92 L1487.26,827.79 L1488.17,827.43 L1489.07,826.83 L1489.98,826.01 L1490.89,824.97 L1491.8,823.7 L1492.71,822.2 L1493.62,820.49 L1494.52,818.55 L1495.43,816.4 L1496.34,814.04 L1497.25,811.47 L1498.16,808.69 L1499.06,805.71 L1499.97,802.53 L1500.88,799.17 L1501.79,795.61 L1502.7,791.87 L1503.61,787.95 L1504.51,783.86 L1505.42,779.6 L1506.33,775.19 L1507.24,770.62 L1508.15,765.91 L1509.06,761.05 L1509.96,756.06 L1510.87,750.95 L1511.78,745.72 L1512.69,740.37 L1513.6,734.93 L1514.5,729.38 L1515.41,723.75 L1516.32,718.05 L1517.23,712.27 L1518.14,706.42 L1519.05,700.53 L1519.95,694.58 L1520.86,688.6 L1521.77,682.6 L1522.68,676.57 L1523.59,670.53 L1524.49,664.49 L1525.4,658.45 L1526.31,652.43 L1527.22,646.43 L1528.13,640.47 L1529.04,634.54 L1529.94,628.67 L1530.85,622.85 L1531.76,617.1 L1532.67,611.42 L1533.58,605.83 L1534.48,600.32 L1535.39,594.92 L1536.3,589.62 L1537.21,584.43 L1538.12,579.37 L1539.03,574.44 L1539.93,569.64 L1540.84,564.98 L1541.75,560.47 L1542.66,556.12 L1543.57,551.94 L1544.47,547.92 L1545.38,544.07 L1546.29,540.41 L1547.2,536.93 L1548.11,533.63 L1549.02,530.54 L1549.92,527.64 L1550.83,524.95 L1551.74,522.46 L1552.65,520.19 L1553.56,518.12 L1554.46,516.28 L1555.37,514.66 L1556.28,513.25 L1557.19,512.07 L1558.1,511.12 L1559.01,510.4 L1559.91,509.9 L1560.82,509.63 L1561.73,509.59 L1562.64,509.78 L1563.55,510.2 L1564.46,510.85 L1565.36,511.72 L1566.27,512.82 L1567.18,514.15 L1568.09,515.7 L1569,517.47 L1569.9,519.46 L1570.81,521.66 L1571.72,524.07 L1572.63,526.7 L1573.54,529.52 L1574.45,532.55 L1575.35,535.78 L1576.26,539.19 L1577.17,542.8 L1578.08,546.58 L1578.99,550.54 L1579.89,554.67 L1580.8,558.97 L1581.71,563.42 L1582.62,568.03 L1583.53,572.78 L1584.44,577.66 L1585.34,582.68 L1586.25,587.83 L1587.16,593.09 L1588.07,598.46 L1588.98,603.93 L1589.88,609.49 L1590.79,615.14 L1591.7,620.87 L1592.61,626.67 L1593.52,632.52 L1594.43,638.43 L1595.33,644.38 L1596.24,650.37 L1597.15,656.39 L1598.06,662.42 L1598.97,668.46 L1599.88,674.5 L1600.78,680.53 L1601.69,686.55 L1602.6,692.54 L1603.51,698.5 L1604.42,704.41 L1605.32,710.27 L1606.23,716.07 L1607.14,721.81 L1608.05,727.46 L1608.96,733.04 L1609.87,738.52 L1610.77,743.9 L1611.68,749.17 L1612.59,754.32 L1613.5,759.36 L1614.41,764.26 L1615.31,769.02 L1616.22,773.64 L1617.13,778.11 L1618.04,782.42 L1618.95,786.57 L1619.86,790.54 L1620.76,794.35 L1621.67,797.97 L1622.58,801.4 L1623.49,804.65 L1624.4,807.69 L1625.3,810.54 L1626.21,813.18 L1627.12,815.62 L1628.03,817.84 L1628.94,819.85 L1629.85,821.64 L1630.75,823.21 L1631.66,824.56 L1632.57,825.68 L1633.48,826.58 L1634.39,827.25 L1635.29,827.69 L1636.2,827.9 L1637.11,827.88 L1638.02,827.64 L1638.93,827.16 L1639.84,826.46 L1640.74,825.53 L1641.65,824.37 L1642.56,822.99 L1643.47,821.39 L1644.38,819.56 L1645.29,817.52 L1646.19,815.27 L1647.1,812.8 L1648.01,810.13 L1648.92,807.25 L1649.83,804.17 L1650.73,800.9 L1651.64,797.44 L1652.55,793.79 L1653.46,789.96 L1654.37,785.96 L1655.28,781.79 L1656.18,777.45 L1657.09,772.96 L1658,768.32 L1658.91,763.53 L1659.82,758.61 L1660.72,753.56 L1661.63,748.39 L1662.54,743.1 L1663.45,737.71 L1664.36,732.21 L1665.27,726.62 L1666.17,720.96 L1667.08,715.21 L1667.99,709.4 L1668.9,703.53 L1669.81,697.61 L1670.71,691.65 L1671.62,685.65 L1672.53,679.63 L1673.44,673.6 L1674.35,667.56 L1675.26,661.52 L1676.16,655.49 L1677.07,649.48 L1677.98,643.49 L1678.89,637.55 L1679.8,631.64 L1680.7,625.8 L1681.61,620.01 L1682.52,614.29 L1683.43,608.66 L1684.34,603.11 L1685.25,597.65 L1686.15,592.3 L1687.06,587.05 L1687.97,581.93 L1688.88,576.93 L1689.79,572.06 L1690.69,567.33 L1691.6,562.75 L1692.51,558.31 L1693.42,554.04 L1694.33,549.94 L1695.24,546 L1696.14,542.25 L1697.05,538.67 L1697.96,535.28 L1698.87,532.09 L1699.78,529.09 L1700.69,526.29 L1701.59,523.7 L1702.5,521.32 L1703.41,519.14 L1704.32,517.19 L1705.23,515.45 L1706.13,513.94 L1707.04,512.64 L1707.95,511.58 L1708.86,510.74 L1709.77,510.12 L1710.68,509.74 L1711.58,509.58 L1712.49,509.65 L1713.4,509.96" stroke="#0000ff" stroke-width="4.3" fill="none" stroke-linejoin="round" stroke-linecap="round"/>
</g>
<path d="M1396.09,836.3 v-5.5 M1396.09,501.2 v5.5 M1546.4,836.3 v-5.5 M1546.4,501.2 v5.5 M1696.72,836.3 v-5.5 M1696.72,501.2 v5.5 M1259.3,836.3 h5.5 M1713.4,836.3 h-5.5 M1259.3,752.52 h5.5 M1713.4,752.52 h-5.5 M1259.3,668.75 h5.5 M1713.4,668.75 h-5.5 M1259.3,584.97 h5.5 M1713.4,584.97 h-5.5 M1259.3,501.2 h5.5 M1713.4,501.2 h-5.5 " stroke="#262626" stroke-width="1.8" fill="none"/>
<rect x="1259.3" y="501.2" width="454.1" height="335.1" fill="none" stroke="#262626" stroke-width="2.3" stroke-linejoin="miter"/>
<text x="1248" y="512.8" style="font-size:32.5px;" text-anchor="end" fill="#262626">0.1</text>
<text x="1248" y="596.57" style="font-size:32.5px;" text-anchor="end" fill="#262626">0.05</text>
<text x="1248" y="680.35" style="font-size:32.5px;" text-anchor="end" fill="#262626">0</text>
<text x="1248" y="764.12" style="font-size:32.5px;" text-anchor="end" fill="#262626">-0.05</text>
<text x="1248" y="847.9" style="font-size:32.5px;" text-anchor="end" fill="#262626">-0.1</text>
<text x="1396.09" y="876.5" style="font-size:32.5px;" text-anchor="middle" fill="#262626">5</text>
<text x="1546.4" y="876.5" style="font-size:32.5px;" text-anchor="middle" fill="#262626">6</text>
<text x="1696.72" y="876.5" style="font-size:32.5px;" text-anchor="middle" fill="#262626">7</text>
<text x="0" y="0" transform="translate(1167.4,836.95) rotate(-90)" style="font-size:36.6px" fill="#262626">Normalized Amplitude</text>
<rect x="1545.7" y="516.8" width="152.2" height="74.3" fill="#fff" stroke="#262626" stroke-width="2.3"/>
<path d="M1551.1,536.7 H1604.8" stroke="#ff2020" stroke-width="3.4"/>
<path d="M1551.1,571.6 H1604.8" stroke="#0000ff" stroke-width="4"/>
<text x="1607.77" y="545.6" style="font-size:28.8px;" fill="#000" transform="translate(0,545.6) scale(1,0.96) translate(0,-545.6)">Beam1</text>
<text x="1607.77" y="580.8" style="font-size:28.8px;" fill="#000" transform="translate(0,580.8) scale(1,0.96) translate(0,-580.8)">Beam2</text>
<text x="1194.7" y="472" style="font-size:50px;" fill="#000">(f)</text>
<text x="1337.28" y="920.1" style="font-size:35.5px;" fill="#262626">Dimensionless Time</text>
</svg>
</body></html>
